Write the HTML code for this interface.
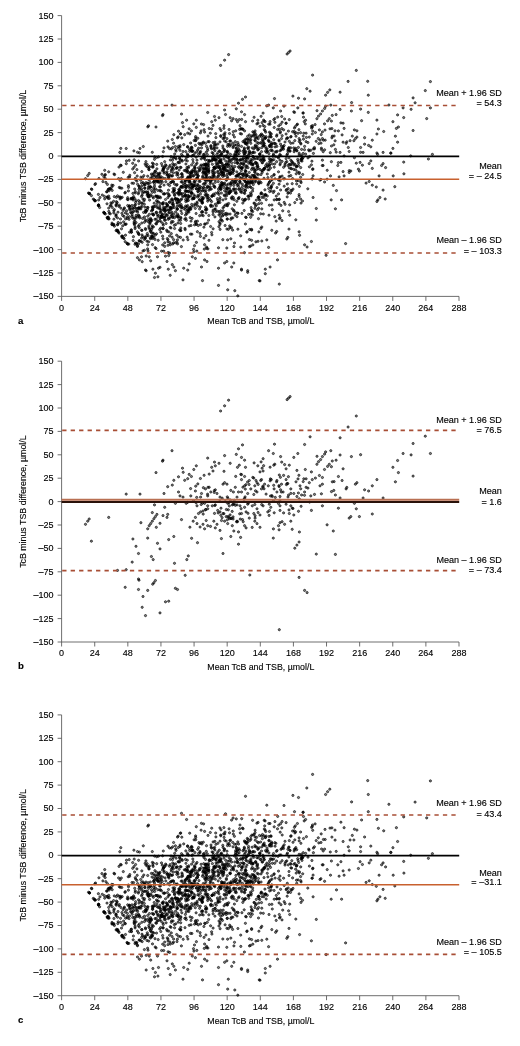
<!DOCTYPE html>
<html lang="en"><head><meta charset="utf-8"><title>Bland-Altman plots: TcB minus TSB difference</title>
<style>
html,body{margin:0;padding:0;background:#fff}
svg{display:block;font-family:"Liberation Sans",sans-serif}
text{stroke:#000;stroke-width:0.13px}
</style></head><body>
<svg width="520" height="1046" viewBox="0 0 520 1046">
<rect width="520" height="1046" fill="#fff"/>
<g>
<path d="M61.60 15.60V296.40H459.00" fill="none" stroke="#555" stroke-width="0.85"/>
<path d="M61.60 296.40v4.5M94.72 296.40v4.5M127.83 296.40v4.5M160.95 296.40v4.5M194.07 296.40v4.5M227.18 296.40v4.5M260.30 296.40v4.5M293.42 296.40v4.5M326.53 296.40v4.5M359.65 296.40v4.5M392.77 296.40v4.5M425.88 296.40v4.5M459.00 296.40v4.5M61.60 296.40h-4M61.60 273.00h-4M61.60 249.60h-4M61.60 226.20h-4M61.60 202.80h-4M61.60 179.40h-4M61.60 156.00h-4M61.60 132.60h-4M61.60 109.20h-4M61.60 85.80h-4M61.60 62.40h-4M61.60 39.00h-4M61.60 15.60h-4" fill="none" stroke="#555" stroke-width="0.85"/>
<g font-size="9" fill="#000">
<g text-anchor="middle">
<text x="61.60" y="310.60">0</text>
<text x="94.72" y="310.60">24</text>
<text x="127.83" y="310.60">48</text>
<text x="160.95" y="310.60">72</text>
<text x="194.07" y="310.60">96</text>
<text x="227.18" y="310.60">120</text>
<text x="260.30" y="310.60">144</text>
<text x="293.42" y="310.60">168</text>
<text x="326.53" y="310.60">192</text>
<text x="359.65" y="310.60">216</text>
<text x="392.77" y="310.60">240</text>
<text x="425.88" y="310.60">264</text>
<text x="459.00" y="310.60">288</text>
</g><g text-anchor="end">
<text x="53.5" y="299.30">–150</text>
<text x="53.5" y="275.90">–125</text>
<text x="53.5" y="252.50">–100</text>
<text x="53.5" y="229.10">–75</text>
<text x="53.5" y="205.70">–50</text>
<text x="53.5" y="182.30">–25</text>
<text x="53.5" y="158.90">0</text>
<text x="53.5" y="135.50">25</text>
<text x="53.5" y="112.10">50</text>
<text x="53.5" y="88.70">75</text>
<text x="53.5" y="65.30">100</text>
<text x="53.5" y="41.90">125</text>
<text x="53.5" y="18.50">150</text>
</g></g>
<text x="260.8" y="324.20" text-anchor="middle" font-size="9.2" fill="#000" textLength="107" lengthAdjust="spacingAndGlyphs">Mean TcB and TSB, µmol/L</text>
<text transform="translate(25.6 156.00) rotate(-90)" text-anchor="middle" font-size="9.2" fill="#000" textLength="132.5" lengthAdjust="spacingAndGlyphs">TcB minus TSB difference, µmol/L</text>
<text x="18" y="323.60" font-size="9.6" font-weight="bold" fill="#000" stroke="none">a</text>
<g fill="#000" fill-opacity="0.5" stroke="#000" stroke-opacity="0.85" stroke-width="0.75">
<circle cx="228.6" cy="54.6" r="1.1"/><circle cx="224.6" cy="60.2" r="1.1"/><circle cx="220.6" cy="65.4" r="1.1"/><circle cx="172.0" cy="105.1" r="1.1"/><circle cx="162.5" cy="115.6" r="1.1"/><circle cx="163.0" cy="114.6" r="1.1"/><circle cx="156.0" cy="127.0" r="1.1"/><circle cx="182.5" cy="122.6" r="1.1"/><circle cx="196.3" cy="120.2" r="1.1"/><circle cx="193.8" cy="123.9" r="1.1"/><circle cx="207.7" cy="112.5" r="1.1"/><circle cx="214.5" cy="116.5" r="1.1"/><circle cx="215.3" cy="120.2" r="1.1"/><circle cx="211.7" cy="121.7" r="1.1"/><circle cx="213.0" cy="125.4" r="1.1"/><circle cx="219.0" cy="117.7" r="1.1"/><circle cx="224.6" cy="110.0" r="1.1"/><circle cx="230.2" cy="117.7" r="1.1"/><circle cx="224.0" cy="125.7" r="1.1"/><circle cx="238.5" cy="103.2" r="1.1"/><circle cx="236.3" cy="108.8" r="1.1"/><circle cx="237.5" cy="121.7" r="1.1"/><circle cx="239.3" cy="119.6" r="1.1"/><circle cx="209.2" cy="128.5" r="1.1"/><circle cx="189.2" cy="128.8" r="1.1"/><circle cx="287.1" cy="54.0" r="1.1"/><circle cx="288.6" cy="52.5" r="1.1"/><circle cx="290.1" cy="51.0" r="1.1"/><circle cx="356.3" cy="70.4" r="1.1"/><circle cx="348.1" cy="81.4" r="1.1"/><circle cx="310.1" cy="91.2" r="1.1"/><circle cx="340.1" cy="92.2" r="1.1"/><circle cx="304.6" cy="98.9" r="1.1"/><circle cx="274.5" cy="98.6" r="1.1"/><circle cx="242.5" cy="99.3" r="1.1"/><circle cx="268.6" cy="105.1" r="1.1"/><circle cx="273.3" cy="107.9" r="1.1"/><circle cx="280.6" cy="111.0" r="1.1"/><circle cx="297.8" cy="107.9" r="1.1"/><circle cx="293.8" cy="111.8" r="1.1"/><circle cx="330.8" cy="105.1" r="1.1"/><circle cx="325.6" cy="106.3" r="1.1"/><circle cx="324.6" cy="108.5" r="1.1"/><circle cx="322.4" cy="111.0" r="1.1"/><circle cx="320.6" cy="114.0" r="1.1"/><circle cx="318.5" cy="116.1" r="1.1"/><circle cx="316.9" cy="118.7" r="1.1"/><circle cx="340.1" cy="109.4" r="1.1"/><circle cx="360.6" cy="109.1" r="1.1"/><circle cx="351.4" cy="111.0" r="1.1"/><circle cx="336.1" cy="114.6" r="1.1"/><circle cx="329.3" cy="118.7" r="1.1"/><circle cx="327.6" cy="120.8" r="1.1"/><circle cx="331.4" cy="121.1" r="1.1"/><circle cx="241.5" cy="111.8" r="1.1"/><circle cx="244.6" cy="114.6" r="1.1"/><circle cx="263.1" cy="113.1" r="1.1"/><circle cx="257.8" cy="120.2" r="1.1"/><circle cx="245.5" cy="121.7" r="1.1"/><circle cx="262.1" cy="122.6" r="1.1"/><circle cx="263.1" cy="125.4" r="1.1"/><circle cx="260.0" cy="126.3" r="1.1"/><circle cx="273.8" cy="119.6" r="1.1"/><circle cx="289.3" cy="119.6" r="1.1"/><circle cx="286.1" cy="123.2" r="1.1"/><circle cx="296.9" cy="124.8" r="1.1"/><circle cx="305.3" cy="123.9" r="1.1"/><circle cx="311.4" cy="126.3" r="1.1"/><circle cx="343.1" cy="123.2" r="1.1"/><circle cx="392.9" cy="121.7" r="1.1"/><circle cx="397.6" cy="114.9" r="1.1"/><circle cx="398.4" cy="127.0" r="1.1"/><circle cx="425.3" cy="90.6" r="1.1"/><circle cx="413.1" cy="97.9" r="1.1"/><circle cx="430.4" cy="107.9" r="1.1"/><circle cx="403.1" cy="107.9" r="1.1"/><circle cx="413.1" cy="130.5" r="1.1"/><circle cx="126.2" cy="148.5" r="1.1"/><circle cx="140.0" cy="148.5" r="1.1"/><circle cx="164.0" cy="147.9" r="1.1"/><circle cx="167.7" cy="141.1" r="1.1"/><circle cx="172.3" cy="139.5" r="1.1"/><circle cx="173.8" cy="134.7" r="1.1"/><circle cx="184.7" cy="134.7" r="1.1"/><circle cx="187.7" cy="133.1" r="1.1"/><circle cx="191.4" cy="130.9" r="1.1"/><circle cx="178.5" cy="146.4" r="1.1"/><circle cx="180.0" cy="150.3" r="1.1"/><circle cx="183.0" cy="151.5" r="1.1"/><circle cx="190.8" cy="150.3" r="1.1"/><circle cx="195.4" cy="145.4" r="1.1"/><circle cx="201.5" cy="147.9" r="1.1"/><circle cx="200.6" cy="151.5" r="1.1"/><circle cx="205.5" cy="143.3" r="1.1"/><circle cx="209.2" cy="141.7" r="1.1"/><circle cx="210.8" cy="146.4" r="1.1"/><circle cx="207.7" cy="150.3" r="1.1"/><circle cx="215.3" cy="144.2" r="1.1"/><circle cx="217.0" cy="147.9" r="1.1"/><circle cx="223.0" cy="138.6" r="1.1"/><circle cx="224.6" cy="137.1" r="1.1"/><circle cx="227.0" cy="138.6" r="1.1"/><circle cx="230.8" cy="144.8" r="1.1"/><circle cx="235.3" cy="141.7" r="1.1"/><circle cx="238.5" cy="146.4" r="1.1"/><circle cx="220.0" cy="151.5" r="1.1"/><circle cx="237.0" cy="151.5" r="1.1"/><circle cx="154.5" cy="159.3" r="1.1"/><circle cx="164.7" cy="161.7" r="1.1"/><circle cx="175.4" cy="157.7" r="1.1"/><circle cx="186.2" cy="157.7" r="1.1"/><circle cx="197.0" cy="160.2" r="1.1"/><circle cx="204.6" cy="157.7" r="1.1"/><circle cx="207.7" cy="160.2" r="1.1"/><circle cx="212.3" cy="160.2" r="1.1"/><circle cx="215.3" cy="159.3" r="1.1"/><circle cx="227.7" cy="157.7" r="1.1"/><circle cx="232.3" cy="159.3" r="1.1"/><circle cx="237.0" cy="159.3" r="1.1"/><circle cx="152.3" cy="167.0" r="1.1"/><circle cx="156.9" cy="168.8" r="1.1"/><circle cx="155.4" cy="171.0" r="1.1"/><circle cx="153.9" cy="173.1" r="1.1"/><circle cx="152.3" cy="175.6" r="1.1"/><circle cx="150.7" cy="178.0" r="1.1"/><circle cx="149.2" cy="180.1" r="1.1"/><circle cx="147.7" cy="183.2" r="1.1"/><circle cx="163.0" cy="170.0" r="1.1"/><circle cx="167.7" cy="168.8" r="1.1"/><circle cx="167.0" cy="171.8" r="1.1"/><circle cx="160.0" cy="177.7" r="1.1"/><circle cx="156.3" cy="181.7" r="1.1"/><circle cx="181.5" cy="174.0" r="1.1"/><circle cx="193.2" cy="175.6" r="1.1"/><circle cx="197.0" cy="178.0" r="1.1"/><circle cx="195.4" cy="171.8" r="1.1"/><circle cx="198.5" cy="167.9" r="1.1"/><circle cx="200.6" cy="166.3" r="1.1"/><circle cx="203.0" cy="165.4" r="1.1"/><circle cx="205.5" cy="164.1" r="1.1"/><circle cx="207.7" cy="163.2" r="1.1"/><circle cx="206.2" cy="174.9" r="1.1"/><circle cx="203.0" cy="178.7" r="1.1"/><circle cx="207.7" cy="180.1" r="1.1"/><circle cx="204.6" cy="183.2" r="1.1"/><circle cx="213.8" cy="175.6" r="1.1"/><circle cx="217.0" cy="178.7" r="1.1"/><circle cx="215.3" cy="182.3" r="1.1"/><circle cx="220.0" cy="184.8" r="1.1"/><circle cx="220.0" cy="166.3" r="1.1"/><circle cx="223.0" cy="167.9" r="1.1"/><circle cx="226.2" cy="171.0" r="1.1"/><circle cx="229.3" cy="173.1" r="1.1"/><circle cx="224.6" cy="175.6" r="1.1"/><circle cx="227.7" cy="178.0" r="1.1"/><circle cx="221.5" cy="174.9" r="1.1"/><circle cx="232.3" cy="180.1" r="1.1"/><circle cx="237.0" cy="175.6" r="1.1"/><circle cx="238.5" cy="186.3" r="1.1"/><circle cx="233.8" cy="185.4" r="1.1"/><circle cx="230.8" cy="190.9" r="1.1"/><circle cx="87.7" cy="175.6" r="1.1"/><circle cx="89.2" cy="173.4" r="1.1"/><circle cx="85.5" cy="178.7" r="1.1"/><circle cx="108.7" cy="171.8" r="1.1"/><circle cx="91.4" cy="195.6" r="1.1"/><circle cx="140.9" cy="177.1" r="1.1"/><circle cx="132.9" cy="193.4" r="1.1"/><circle cx="136.0" cy="200.7" r="1.1"/><circle cx="147.7" cy="192.5" r="1.1"/><circle cx="173.8" cy="190.9" r="1.1"/><circle cx="168.7" cy="194.0" r="1.1"/><circle cx="157.5" cy="197.7" r="1.1"/><circle cx="160.0" cy="203.3" r="1.1"/><circle cx="197.5" cy="197.1" r="1.1"/><circle cx="223.0" cy="207.9" r="1.1"/><circle cx="238.5" cy="198.6" r="1.1"/><circle cx="138.5" cy="207.9" r="1.1"/><circle cx="241.5" cy="134.0" r="1.1"/><circle cx="244.6" cy="130.9" r="1.1"/><circle cx="249.3" cy="134.9" r="1.1"/><circle cx="253.8" cy="132.5" r="1.1"/><circle cx="257.0" cy="137.1" r="1.1"/><circle cx="261.5" cy="134.0" r="1.1"/><circle cx="264.6" cy="138.6" r="1.1"/><circle cx="254.8" cy="140.2" r="1.1"/><circle cx="250.8" cy="143.3" r="1.1"/><circle cx="244.6" cy="140.2" r="1.1"/><circle cx="241.5" cy="146.4" r="1.1"/><circle cx="247.7" cy="147.9" r="1.1"/><circle cx="257.0" cy="146.4" r="1.1"/><circle cx="266.1" cy="148.5" r="1.1"/><circle cx="261.5" cy="143.3" r="1.1"/><circle cx="276.9" cy="134.9" r="1.1"/><circle cx="281.5" cy="138.6" r="1.1"/><circle cx="286.1" cy="134.0" r="1.1"/><circle cx="287.8" cy="138.0" r="1.1"/><circle cx="283.1" cy="146.4" r="1.1"/><circle cx="276.9" cy="146.4" r="1.1"/><circle cx="272.3" cy="150.9" r="1.1"/><circle cx="280.0" cy="150.9" r="1.1"/><circle cx="288.6" cy="149.4" r="1.1"/><circle cx="293.8" cy="147.9" r="1.1"/><circle cx="296.0" cy="136.2" r="1.1"/><circle cx="300.0" cy="140.2" r="1.1"/><circle cx="306.1" cy="141.7" r="1.1"/><circle cx="304.6" cy="146.4" r="1.1"/><circle cx="309.3" cy="137.1" r="1.1"/><circle cx="312.3" cy="134.0" r="1.1"/><circle cx="315.4" cy="132.5" r="1.1"/><circle cx="320.0" cy="140.2" r="1.1"/><circle cx="322.4" cy="138.6" r="1.1"/><circle cx="301.6" cy="149.4" r="1.1"/><circle cx="310.8" cy="150.3" r="1.1"/><circle cx="296.9" cy="150.9" r="1.1"/><circle cx="332.3" cy="136.2" r="1.1"/><circle cx="333.8" cy="144.8" r="1.1"/><circle cx="338.4" cy="130.9" r="1.1"/><circle cx="342.1" cy="134.9" r="1.1"/><circle cx="346.1" cy="143.3" r="1.1"/><circle cx="335.4" cy="149.4" r="1.1"/><circle cx="355.4" cy="138.6" r="1.1"/><circle cx="356.9" cy="137.1" r="1.1"/><circle cx="364.6" cy="144.2" r="1.1"/><circle cx="368.6" cy="145.4" r="1.1"/><circle cx="372.3" cy="140.2" r="1.1"/><circle cx="376.9" cy="134.0" r="1.1"/><circle cx="363.1" cy="152.4" r="1.1"/><circle cx="383.1" cy="152.4" r="1.1"/><circle cx="395.4" cy="136.2" r="1.1"/><circle cx="340.1" cy="152.4" r="1.1"/><circle cx="240.0" cy="160.2" r="1.1"/><circle cx="244.6" cy="161.7" r="1.1"/><circle cx="247.7" cy="158.6" r="1.1"/><circle cx="252.3" cy="160.2" r="1.1"/><circle cx="257.0" cy="163.2" r="1.1"/><circle cx="263.1" cy="160.2" r="1.1"/><circle cx="269.3" cy="158.6" r="1.1"/><circle cx="270.8" cy="161.7" r="1.1"/><circle cx="280.0" cy="160.2" r="1.1"/><circle cx="286.1" cy="158.6" r="1.1"/><circle cx="290.8" cy="160.2" r="1.1"/><circle cx="292.3" cy="162.6" r="1.1"/><circle cx="298.5" cy="165.7" r="1.1"/><circle cx="311.4" cy="164.8" r="1.1"/><circle cx="322.4" cy="160.2" r="1.1"/><circle cx="338.4" cy="162.6" r="1.1"/><circle cx="354.4" cy="157.7" r="1.1"/><circle cx="356.3" cy="163.2" r="1.1"/><circle cx="241.5" cy="167.9" r="1.1"/><circle cx="246.1" cy="166.3" r="1.1"/><circle cx="253.8" cy="167.9" r="1.1"/><circle cx="260.0" cy="169.4" r="1.1"/><circle cx="267.8" cy="166.3" r="1.1"/><circle cx="280.0" cy="164.8" r="1.1"/><circle cx="289.3" cy="167.9" r="1.1"/><circle cx="293.8" cy="169.4" r="1.1"/><circle cx="242.5" cy="174.0" r="1.1"/><circle cx="249.3" cy="172.5" r="1.1"/><circle cx="254.8" cy="175.6" r="1.1"/><circle cx="257.0" cy="178.0" r="1.1"/><circle cx="244.6" cy="180.1" r="1.1"/><circle cx="246.1" cy="182.3" r="1.1"/><circle cx="260.0" cy="181.7" r="1.1"/><circle cx="280.0" cy="177.1" r="1.1"/><circle cx="282.1" cy="176.1" r="1.1"/><circle cx="278.5" cy="180.1" r="1.1"/><circle cx="284.6" cy="178.7" r="1.1"/><circle cx="290.8" cy="175.6" r="1.1"/><circle cx="279.1" cy="184.2" r="1.1"/><circle cx="327.1" cy="179.2" r="1.1"/><circle cx="333.3" cy="185.4" r="1.1"/><circle cx="349.2" cy="172.5" r="1.1"/><circle cx="350.8" cy="171.0" r="1.1"/><circle cx="359.4" cy="171.0" r="1.1"/><circle cx="372.3" cy="168.4" r="1.1"/><circle cx="273.3" cy="192.5" r="1.1"/><circle cx="299.1" cy="196.4" r="1.1"/><circle cx="296.9" cy="199.5" r="1.1"/><circle cx="294.8" cy="202.6" r="1.1"/><circle cx="240.6" cy="191.8" r="1.1"/><circle cx="316.3" cy="208.5" r="1.1"/><circle cx="335.4" cy="208.8" r="1.1"/><circle cx="132.2" cy="216.5" r="1.1"/><circle cx="151.4" cy="210.9" r="1.1"/><circle cx="153.2" cy="214.0" r="1.1"/><circle cx="174.5" cy="217.7" r="1.1"/><circle cx="188.3" cy="210.3" r="1.1"/><circle cx="186.8" cy="214.0" r="1.1"/><circle cx="117.5" cy="224.8" r="1.1"/><circle cx="126.2" cy="224.1" r="1.1"/><circle cx="185.2" cy="229.7" r="1.1"/><circle cx="138.5" cy="233.4" r="1.1"/><circle cx="139.0" cy="234.6" r="1.1"/><circle cx="155.4" cy="234.9" r="1.1"/><circle cx="153.9" cy="237.1" r="1.1"/><circle cx="152.7" cy="238.6" r="1.1"/><circle cx="125.2" cy="241.7" r="1.1"/><circle cx="138.5" cy="243.9" r="1.1"/><circle cx="147.7" cy="244.8" r="1.1"/><circle cx="175.4" cy="242.7" r="1.1"/><circle cx="177.5" cy="243.9" r="1.1"/><circle cx="143.0" cy="250.9" r="1.1"/><circle cx="165.5" cy="256.2" r="1.1"/><circle cx="168.7" cy="255.6" r="1.1"/><circle cx="142.2" cy="261.7" r="1.1"/><circle cx="160.0" cy="267.3" r="1.1"/><circle cx="145.5" cy="270.0" r="1.1"/><circle cx="249.8" cy="229.4" r="1.1"/><circle cx="299.1" cy="231.8" r="1.1"/><circle cx="304.6" cy="244.8" r="1.1"/><circle cx="307.1" cy="247.0" r="1.1"/><circle cx="279.3" cy="284.1" r="1.1"/><circle cx="210.5" cy="180.8" r="1.1"/><circle cx="233.4" cy="146.4" r="1.1"/><circle cx="290.8" cy="143.3" r="1.1"/><circle cx="220.8" cy="169.7" r="1.1"/><circle cx="274.8" cy="118.6" r="1.1"/><circle cx="255.1" cy="172.5" r="1.1"/><circle cx="204.1" cy="129.7" r="1.1"/><circle cx="252.2" cy="181.8" r="1.1"/><circle cx="240.3" cy="173.5" r="1.1"/><circle cx="217.7" cy="164.8" r="1.1"/><circle cx="214.2" cy="146.8" r="1.1"/><circle cx="241.1" cy="163.1" r="1.1"/><circle cx="260.7" cy="134.9" r="1.1"/><circle cx="233.1" cy="171.3" r="1.1"/><circle cx="236.6" cy="176.2" r="1.1"/><circle cx="244.6" cy="152.8" r="1.1"/><circle cx="231.2" cy="172.8" r="1.1"/><circle cx="227.3" cy="174.2" r="1.1"/><circle cx="187.6" cy="156.7" r="1.1"/><circle cx="197.8" cy="138.3" r="1.1"/><circle cx="273.4" cy="183.3" r="1.1"/><circle cx="255.1" cy="170.1" r="1.1"/><circle cx="245.1" cy="151.3" r="1.1"/><circle cx="234.1" cy="158.2" r="1.1"/><circle cx="283.6" cy="167.3" r="1.1"/><circle cx="274.2" cy="167.2" r="1.1"/><circle cx="230.1" cy="169.3" r="1.1"/><circle cx="303.8" cy="133.2" r="1.1"/><circle cx="270.4" cy="133.3" r="1.1"/><circle cx="278.5" cy="157.9" r="1.1"/><circle cx="240.8" cy="128.7" r="1.1"/><circle cx="227.3" cy="151.3" r="1.1"/><circle cx="242.9" cy="141.6" r="1.1"/><circle cx="228.7" cy="157.2" r="1.1"/><circle cx="253.8" cy="148.9" r="1.1"/><circle cx="208.0" cy="141.7" r="1.1"/><circle cx="189.9" cy="181.6" r="1.1"/><circle cx="190.6" cy="143.0" r="1.1"/><circle cx="228.8" cy="171.7" r="1.1"/><circle cx="196.7" cy="151.8" r="1.1"/><circle cx="200.1" cy="181.4" r="1.1"/><circle cx="269.1" cy="169.8" r="1.1"/><circle cx="230.4" cy="154.4" r="1.1"/><circle cx="225.3" cy="156.0" r="1.1"/><circle cx="299.2" cy="153.2" r="1.1"/><circle cx="191.6" cy="192.7" r="1.1"/><circle cx="235.3" cy="159.7" r="1.1"/><circle cx="254.8" cy="158.9" r="1.1"/><circle cx="223.9" cy="168.1" r="1.1"/><circle cx="222.2" cy="152.6" r="1.1"/><circle cx="228.0" cy="152.8" r="1.1"/><circle cx="322.4" cy="131.9" r="1.1"/><circle cx="178.5" cy="131.2" r="1.1"/><circle cx="258.1" cy="166.9" r="1.1"/><circle cx="281.3" cy="146.4" r="1.1"/><circle cx="218.2" cy="167.3" r="1.1"/><circle cx="202.6" cy="157.5" r="1.1"/><circle cx="288.0" cy="151.4" r="1.1"/><circle cx="261.1" cy="116.3" r="1.1"/><circle cx="193.5" cy="155.2" r="1.1"/><circle cx="231.0" cy="172.9" r="1.1"/><circle cx="201.2" cy="158.9" r="1.1"/><circle cx="261.7" cy="159.0" r="1.1"/><circle cx="245.9" cy="139.1" r="1.1"/><circle cx="256.0" cy="134.9" r="1.1"/><circle cx="262.8" cy="140.7" r="1.1"/><circle cx="319.4" cy="129.9" r="1.1"/><circle cx="249.1" cy="138.9" r="1.1"/><circle cx="205.7" cy="164.0" r="1.1"/><circle cx="276.6" cy="136.2" r="1.1"/><circle cx="307.9" cy="142.5" r="1.1"/><circle cx="183.2" cy="126.7" r="1.1"/><circle cx="289.0" cy="164.3" r="1.1"/><circle cx="300.7" cy="143.2" r="1.1"/><circle cx="226.4" cy="163.9" r="1.1"/><circle cx="309.6" cy="156.5" r="1.1"/><circle cx="233.3" cy="158.7" r="1.1"/><circle cx="228.0" cy="170.9" r="1.1"/><circle cx="252.8" cy="131.8" r="1.1"/><circle cx="269.5" cy="164.9" r="1.1"/><circle cx="196.1" cy="157.2" r="1.1"/><circle cx="214.5" cy="167.8" r="1.1"/><circle cx="324.5" cy="123.9" r="1.1"/><circle cx="203.4" cy="142.1" r="1.1"/><circle cx="299.4" cy="186.4" r="1.1"/><circle cx="221.0" cy="162.6" r="1.1"/><circle cx="270.5" cy="150.4" r="1.1"/><circle cx="234.2" cy="154.7" r="1.1"/><circle cx="222.1" cy="172.0" r="1.1"/><circle cx="203.2" cy="168.5" r="1.1"/><circle cx="245.3" cy="143.5" r="1.1"/><circle cx="286.4" cy="139.0" r="1.1"/><circle cx="207.6" cy="148.6" r="1.1"/><circle cx="254.1" cy="117.3" r="1.1"/><circle cx="243.2" cy="176.1" r="1.1"/><circle cx="200.4" cy="132.9" r="1.1"/><circle cx="221.4" cy="193.0" r="1.1"/><circle cx="219.7" cy="155.8" r="1.1"/><circle cx="293.0" cy="162.9" r="1.1"/><circle cx="271.3" cy="134.0" r="1.1"/><circle cx="214.8" cy="159.9" r="1.1"/><circle cx="317.0" cy="110.7" r="1.1"/><circle cx="279.2" cy="141.0" r="1.1"/><circle cx="290.8" cy="147.8" r="1.1"/><circle cx="239.7" cy="168.2" r="1.1"/><circle cx="244.0" cy="153.7" r="1.1"/><circle cx="235.7" cy="130.8" r="1.1"/><circle cx="298.4" cy="147.4" r="1.1"/><circle cx="292.2" cy="183.7" r="1.1"/><circle cx="247.6" cy="136.4" r="1.1"/><circle cx="195.7" cy="140.6" r="1.1"/><circle cx="233.1" cy="173.4" r="1.1"/><circle cx="228.3" cy="164.2" r="1.1"/><circle cx="273.7" cy="139.7" r="1.1"/><circle cx="232.2" cy="165.8" r="1.1"/><circle cx="241.5" cy="129.0" r="1.1"/><circle cx="258.2" cy="138.8" r="1.1"/><circle cx="237.5" cy="176.1" r="1.1"/><circle cx="214.4" cy="145.0" r="1.1"/><circle cx="248.0" cy="167.7" r="1.1"/><circle cx="248.3" cy="157.6" r="1.1"/><circle cx="229.3" cy="160.3" r="1.1"/><circle cx="255.5" cy="145.2" r="1.1"/><circle cx="283.6" cy="129.8" r="1.1"/><circle cx="298.9" cy="129.7" r="1.1"/><circle cx="279.9" cy="154.5" r="1.1"/><circle cx="303.2" cy="136.0" r="1.1"/><circle cx="263.1" cy="141.4" r="1.1"/><circle cx="332.3" cy="115.4" r="1.1"/><circle cx="280.4" cy="131.7" r="1.1"/><circle cx="298.0" cy="133.3" r="1.1"/><circle cx="321.4" cy="148.2" r="1.1"/><circle cx="280.6" cy="144.2" r="1.1"/><circle cx="287.1" cy="137.9" r="1.1"/><circle cx="270.1" cy="121.6" r="1.1"/><circle cx="346.8" cy="141.8" r="1.1"/><circle cx="271.8" cy="150.0" r="1.1"/><circle cx="314.5" cy="148.8" r="1.1"/><circle cx="278.9" cy="140.1" r="1.1"/><circle cx="331.5" cy="146.0" r="1.1"/><circle cx="279.3" cy="129.4" r="1.1"/><circle cx="274.1" cy="143.3" r="1.1"/><circle cx="275.3" cy="151.8" r="1.1"/><circle cx="264.0" cy="143.2" r="1.1"/><circle cx="273.4" cy="155.3" r="1.1"/><circle cx="270.1" cy="135.2" r="1.1"/><circle cx="306.1" cy="133.2" r="1.1"/><circle cx="263.6" cy="120.1" r="1.1"/><circle cx="268.3" cy="140.2" r="1.1"/><circle cx="304.5" cy="149.7" r="1.1"/><circle cx="284.6" cy="119.0" r="1.1"/><circle cx="334.1" cy="136.0" r="1.1"/><circle cx="301.1" cy="160.7" r="1.1"/><circle cx="288.4" cy="131.1" r="1.1"/><circle cx="281.7" cy="116.5" r="1.1"/><circle cx="411.1" cy="109.3" r="1.1"/><circle cx="135.8" cy="208.1" r="1.1"/><circle cx="125.3" cy="192.4" r="1.1"/><circle cx="229.0" cy="193.6" r="1.1"/><circle cx="229.4" cy="193.2" r="1.1"/><circle cx="225.7" cy="161.0" r="1.1"/><circle cx="171.0" cy="156.7" r="1.1"/><circle cx="162.3" cy="165.9" r="1.1"/><circle cx="202.8" cy="212.0" r="1.1"/><circle cx="216.3" cy="205.9" r="1.1"/><circle cx="270.6" cy="180.7" r="1.1"/><circle cx="282.2" cy="135.7" r="1.1"/><circle cx="173.6" cy="239.7" r="1.1"/><circle cx="261.0" cy="174.6" r="1.1"/><circle cx="239.1" cy="153.6" r="1.1"/><circle cx="247.1" cy="142.8" r="1.1"/><circle cx="223.7" cy="175.1" r="1.1"/><circle cx="222.8" cy="176.5" r="1.1"/><circle cx="214.8" cy="187.4" r="1.1"/><circle cx="150.7" cy="186.9" r="1.1"/><circle cx="294.4" cy="150.1" r="1.1"/><circle cx="156.5" cy="233.8" r="1.1"/><circle cx="160.7" cy="228.2" r="1.1"/><circle cx="163.3" cy="225.2" r="1.1"/><circle cx="168.5" cy="218.1" r="1.1"/><circle cx="185.5" cy="194.9" r="1.1"/><circle cx="331.9" cy="128.6" r="1.1"/><circle cx="323.4" cy="140.2" r="1.1"/><circle cx="197.4" cy="173.9" r="1.1"/><circle cx="200.0" cy="170.3" r="1.1"/><circle cx="258.9" cy="183.7" r="1.1"/><circle cx="237.3" cy="162.1" r="1.1"/><circle cx="170.7" cy="207.5" r="1.1"/><circle cx="170.5" cy="207.8" r="1.1"/><circle cx="253.3" cy="179.9" r="1.1"/><circle cx="255.3" cy="177.0" r="1.1"/><circle cx="181.9" cy="173.7" r="1.1"/><circle cx="167.4" cy="193.3" r="1.1"/><circle cx="184.3" cy="170.5" r="1.1"/><circle cx="248.7" cy="176.4" r="1.1"/><circle cx="245.0" cy="181.6" r="1.1"/><circle cx="245.7" cy="171.4" r="1.1"/><circle cx="271.1" cy="137.0" r="1.1"/><circle cx="245.9" cy="171.2" r="1.1"/><circle cx="200.0" cy="152.2" r="1.1"/><circle cx="198.5" cy="154.3" r="1.1"/><circle cx="208.6" cy="169.0" r="1.1"/><circle cx="210.1" cy="183.6" r="1.1"/><circle cx="204.6" cy="191.1" r="1.1"/><circle cx="137.4" cy="208.6" r="1.1"/><circle cx="242.5" cy="199.4" r="1.1"/><circle cx="255.9" cy="181.2" r="1.1"/><circle cx="262.2" cy="172.6" r="1.1"/><circle cx="208.6" cy="220.2" r="1.1"/><circle cx="227.2" cy="204.1" r="1.1"/><circle cx="210.6" cy="226.5" r="1.1"/><circle cx="220.1" cy="213.6" r="1.1"/><circle cx="304.2" cy="121.6" r="1.1"/><circle cx="145.6" cy="229.5" r="1.1"/><circle cx="295.8" cy="219.8" r="1.1"/><circle cx="289.0" cy="229.1" r="1.1"/><circle cx="178.6" cy="236.9" r="1.1"/><circle cx="142.0" cy="234.9" r="1.1"/><circle cx="146.0" cy="210.4" r="1.1"/><circle cx="212.1" cy="152.6" r="1.1"/><circle cx="229.1" cy="129.5" r="1.1"/><circle cx="220.0" cy="141.9" r="1.1"/><circle cx="189.1" cy="208.3" r="1.1"/><circle cx="195.6" cy="204.9" r="1.1"/><circle cx="199.6" cy="199.5" r="1.1"/><circle cx="216.6" cy="167.4" r="1.1"/><circle cx="220.4" cy="162.2" r="1.1"/><circle cx="215.2" cy="209.1" r="1.1"/><circle cx="152.5" cy="244.6" r="1.1"/><circle cx="172.7" cy="217.5" r="1.1"/><circle cx="201.1" cy="130.9" r="1.1"/><circle cx="195.7" cy="138.1" r="1.1"/><circle cx="194.1" cy="140.5" r="1.1"/><circle cx="104.7" cy="198.9" r="1.1"/><circle cx="264.2" cy="143.8" r="1.1"/><circle cx="236.8" cy="171.9" r="1.1"/><circle cx="172.7" cy="147.5" r="1.1"/><circle cx="153.1" cy="174.2" r="1.1"/><circle cx="145.2" cy="184.8" r="1.1"/><circle cx="160.8" cy="232.2" r="1.1"/><circle cx="291.6" cy="168.8" r="1.1"/><circle cx="289.0" cy="172.2" r="1.1"/><circle cx="294.9" cy="164.2" r="1.1"/><circle cx="262.6" cy="162.6" r="1.1"/><circle cx="258.1" cy="168.7" r="1.1"/><circle cx="242.8" cy="203.1" r="1.1"/><circle cx="247.9" cy="196.2" r="1.1"/><circle cx="188.3" cy="172.5" r="1.1"/><circle cx="181.2" cy="181.9" r="1.1"/><circle cx="179.7" cy="162.6" r="1.1"/><circle cx="189.5" cy="149.2" r="1.1"/><circle cx="206.2" cy="172.0" r="1.1"/><circle cx="202.5" cy="177.0" r="1.1"/><circle cx="261.5" cy="136.7" r="1.1"/><circle cx="262.5" cy="135.2" r="1.1"/><circle cx="222.8" cy="184.4" r="1.1"/><circle cx="203.2" cy="189.7" r="1.1"/><circle cx="213.9" cy="175.1" r="1.1"/><circle cx="186.3" cy="212.6" r="1.1"/><circle cx="182.3" cy="161.1" r="1.1"/><circle cx="192.1" cy="148.0" r="1.1"/><circle cx="168.1" cy="252.5" r="1.1"/><circle cx="166.7" cy="230.2" r="1.1"/><circle cx="181.0" cy="210.9" r="1.1"/><circle cx="173.1" cy="221.7" r="1.1"/><circle cx="250.4" cy="163.4" r="1.1"/><circle cx="164.7" cy="193.8" r="1.1"/><circle cx="264.9" cy="189.8" r="1.1"/><circle cx="272.0" cy="179.9" r="1.1"/><circle cx="254.6" cy="203.5" r="1.1"/><circle cx="209.1" cy="187.3" r="1.1"/><circle cx="201.8" cy="197.3" r="1.1"/><circle cx="197.1" cy="203.5" r="1.1"/><circle cx="168.4" cy="177.5" r="1.1"/><circle cx="168.4" cy="177.3" r="1.1"/><circle cx="237.8" cy="163.1" r="1.1"/><circle cx="233.3" cy="169.5" r="1.1"/><circle cx="265.1" cy="130.7" r="1.1"/><circle cx="249.5" cy="151.8" r="1.1"/><circle cx="270.0" cy="124.2" r="1.1"/><circle cx="233.1" cy="118.7" r="1.1"/><circle cx="231.6" cy="120.8" r="1.1"/><circle cx="181.0" cy="186.6" r="1.1"/><circle cx="159.6" cy="186.7" r="1.1"/><circle cx="141.8" cy="171.6" r="1.1"/><circle cx="147.2" cy="164.4" r="1.1"/><circle cx="135.7" cy="179.8" r="1.1"/><circle cx="158.2" cy="240.3" r="1.1"/><circle cx="212.4" cy="158.1" r="1.1"/><circle cx="117.2" cy="202.5" r="1.1"/><circle cx="299.1" cy="194.6" r="1.1"/><circle cx="258.1" cy="123.1" r="1.1"/><circle cx="185.8" cy="218.5" r="1.1"/><circle cx="141.5" cy="196.4" r="1.1"/><circle cx="201.4" cy="124.0" r="1.1"/><circle cx="150.7" cy="187.0" r="1.1"/><circle cx="125.6" cy="218.9" r="1.1"/><circle cx="244.3" cy="155.3" r="1.1"/><circle cx="215.7" cy="133.7" r="1.1"/><circle cx="206.5" cy="146.4" r="1.1"/><circle cx="139.3" cy="227.7" r="1.1"/><circle cx="273.5" cy="154.2" r="1.1"/><circle cx="215.6" cy="193.3" r="1.1"/><circle cx="150.5" cy="218.3" r="1.1"/><circle cx="248.2" cy="142.3" r="1.1"/><circle cx="336.2" cy="152.1" r="1.1"/><circle cx="230.5" cy="140.9" r="1.1"/><circle cx="227.9" cy="144.5" r="1.1"/><circle cx="274.2" cy="199.9" r="1.1"/><circle cx="163.0" cy="204.3" r="1.1"/><circle cx="156.5" cy="200.7" r="1.1"/><circle cx="158.6" cy="197.9" r="1.1"/><circle cx="144.5" cy="216.9" r="1.1"/><circle cx="261.5" cy="151.7" r="1.1"/><circle cx="259.7" cy="154.2" r="1.1"/><circle cx="291.1" cy="136.5" r="1.1"/><circle cx="153.4" cy="198.0" r="1.1"/><circle cx="226.5" cy="164.0" r="1.1"/><circle cx="228.1" cy="161.8" r="1.1"/><circle cx="254.0" cy="203.1" r="1.1"/><circle cx="269.4" cy="182.0" r="1.1"/><circle cx="224.7" cy="185.2" r="1.1"/><circle cx="227.3" cy="176.4" r="1.1"/><circle cx="129.1" cy="219.3" r="1.1"/><circle cx="241.8" cy="178.2" r="1.1"/><circle cx="122.2" cy="197.3" r="1.1"/><circle cx="212.7" cy="206.2" r="1.1"/><circle cx="217.8" cy="171.2" r="1.1"/><circle cx="133.4" cy="211.5" r="1.1"/><circle cx="129.5" cy="216.7" r="1.1"/><circle cx="162.2" cy="214.3" r="1.1"/><circle cx="189.7" cy="181.2" r="1.1"/><circle cx="186.5" cy="185.5" r="1.1"/><circle cx="188.3" cy="191.4" r="1.1"/><circle cx="177.2" cy="206.2" r="1.1"/><circle cx="135.1" cy="227.1" r="1.1"/><circle cx="185.5" cy="209.7" r="1.1"/><circle cx="179.4" cy="191.9" r="1.1"/><circle cx="165.5" cy="210.9" r="1.1"/><circle cx="182.8" cy="187.4" r="1.1"/><circle cx="105.3" cy="174.6" r="1.1"/><circle cx="103.8" cy="176.7" r="1.1"/><circle cx="180.4" cy="187.8" r="1.1"/><circle cx="165.9" cy="207.4" r="1.1"/><circle cx="167.6" cy="205.2" r="1.1"/><circle cx="283.6" cy="178.9" r="1.1"/><circle cx="301.3" cy="155.0" r="1.1"/><circle cx="144.3" cy="204.2" r="1.1"/><circle cx="168.0" cy="146.9" r="1.1"/><circle cx="274.2" cy="127.5" r="1.1"/><circle cx="178.9" cy="200.0" r="1.1"/><circle cx="139.1" cy="207.8" r="1.1"/><circle cx="269.4" cy="205.2" r="1.1"/><circle cx="251.6" cy="229.4" r="1.1"/><circle cx="262.9" cy="157.8" r="1.1"/><circle cx="180.7" cy="223.5" r="1.1"/><circle cx="191.7" cy="193.3" r="1.1"/><circle cx="192.0" cy="193.0" r="1.1"/><circle cx="181.2" cy="207.6" r="1.1"/><circle cx="172.1" cy="237.2" r="1.1"/><circle cx="109.3" cy="198.4" r="1.1"/><circle cx="250.2" cy="182.8" r="1.1"/><circle cx="251.1" cy="181.6" r="1.1"/><circle cx="249.4" cy="183.8" r="1.1"/><circle cx="157.4" cy="201.7" r="1.1"/><circle cx="152.9" cy="207.6" r="1.1"/><circle cx="143.6" cy="191.7" r="1.1"/><circle cx="150.3" cy="182.7" r="1.1"/><circle cx="250.8" cy="137.2" r="1.1"/><circle cx="185.2" cy="180.6" r="1.1"/><circle cx="178.8" cy="189.5" r="1.1"/><circle cx="180.4" cy="193.5" r="1.1"/><circle cx="181.8" cy="137.9" r="1.1"/><circle cx="327.2" cy="170.3" r="1.1"/><circle cx="222.9" cy="164.7" r="1.1"/><circle cx="168.8" cy="213.0" r="1.1"/><circle cx="190.9" cy="208.9" r="1.1"/><circle cx="190.3" cy="209.6" r="1.1"/><circle cx="223.5" cy="183.5" r="1.1"/><circle cx="230.1" cy="174.4" r="1.1"/><circle cx="230.4" cy="174.0" r="1.1"/><circle cx="182.6" cy="195.9" r="1.1"/><circle cx="148.0" cy="250.9" r="1.1"/><circle cx="270.1" cy="144.9" r="1.1"/><circle cx="224.3" cy="165.5" r="1.1"/><circle cx="252.3" cy="168.2" r="1.1"/><circle cx="246.9" cy="175.6" r="1.1"/><circle cx="246.8" cy="175.7" r="1.1"/><circle cx="253.0" cy="152.2" r="1.1"/><circle cx="227.2" cy="164.9" r="1.1"/><circle cx="300.6" cy="177.3" r="1.1"/><circle cx="223.6" cy="167.3" r="1.1"/><circle cx="225.0" cy="165.5" r="1.1"/><circle cx="219.3" cy="150.9" r="1.1"/><circle cx="214.8" cy="156.9" r="1.1"/><circle cx="213.4" cy="158.9" r="1.1"/><circle cx="252.7" cy="188.7" r="1.1"/><circle cx="218.2" cy="181.6" r="1.1"/><circle cx="321.0" cy="143.2" r="1.1"/><circle cx="313.4" cy="153.4" r="1.1"/><circle cx="244.2" cy="164.3" r="1.1"/><circle cx="243.5" cy="164.0" r="1.1"/><circle cx="245.8" cy="161.0" r="1.1"/><circle cx="251.3" cy="153.4" r="1.1"/><circle cx="290.5" cy="193.1" r="1.1"/><circle cx="265.3" cy="194.5" r="1.1"/><circle cx="192.0" cy="184.0" r="1.1"/><circle cx="205.5" cy="165.6" r="1.1"/><circle cx="244.0" cy="201.0" r="1.1"/><circle cx="235.5" cy="212.6" r="1.1"/><circle cx="297.6" cy="171.8" r="1.1"/><circle cx="292.6" cy="178.6" r="1.1"/><circle cx="174.5" cy="194.6" r="1.1"/><circle cx="169.5" cy="148.6" r="1.1"/><circle cx="224.0" cy="151.5" r="1.1"/><circle cx="171.2" cy="182.4" r="1.1"/><circle cx="233.9" cy="246.6" r="1.1"/><circle cx="256.4" cy="169.7" r="1.1"/><circle cx="226.4" cy="180.3" r="1.1"/><circle cx="158.1" cy="208.1" r="1.1"/><circle cx="141.6" cy="230.3" r="1.1"/><circle cx="256.9" cy="166.8" r="1.1"/><circle cx="172.7" cy="244.0" r="1.1"/><circle cx="173.5" cy="242.9" r="1.1"/><circle cx="179.0" cy="194.9" r="1.1"/><circle cx="169.8" cy="207.5" r="1.1"/><circle cx="253.8" cy="175.7" r="1.1"/><circle cx="243.7" cy="189.5" r="1.1"/><circle cx="249.7" cy="181.3" r="1.1"/><circle cx="236.2" cy="145.0" r="1.1"/><circle cx="237.8" cy="142.6" r="1.1"/><circle cx="318.3" cy="138.5" r="1.1"/><circle cx="316.2" cy="141.3" r="1.1"/><circle cx="160.5" cy="190.5" r="1.1"/><circle cx="320.9" cy="179.4" r="1.1"/><circle cx="203.4" cy="171.1" r="1.1"/><circle cx="233.8" cy="210.3" r="1.1"/><circle cx="208.8" cy="215.5" r="1.1"/><circle cx="226.4" cy="179.3" r="1.1"/><circle cx="190.3" cy="176.2" r="1.1"/><circle cx="189.4" cy="177.5" r="1.1"/><circle cx="287.9" cy="193.3" r="1.1"/><circle cx="288.4" cy="192.4" r="1.1"/><circle cx="197.8" cy="191.3" r="1.1"/><circle cx="174.6" cy="184.2" r="1.1"/><circle cx="312.5" cy="125.7" r="1.1"/><circle cx="295.8" cy="148.3" r="1.1"/><circle cx="192.8" cy="155.5" r="1.1"/><circle cx="239.7" cy="166.0" r="1.1"/><circle cx="167.6" cy="209.9" r="1.1"/><circle cx="162.2" cy="217.3" r="1.1"/><circle cx="159.8" cy="220.6" r="1.1"/><circle cx="244.4" cy="200.0" r="1.1"/><circle cx="114.3" cy="196.6" r="1.1"/><circle cx="281.8" cy="128.6" r="1.1"/><circle cx="239.7" cy="181.6" r="1.1"/><circle cx="240.0" cy="181.4" r="1.1"/><circle cx="256.9" cy="158.4" r="1.1"/><circle cx="142.2" cy="206.3" r="1.1"/><circle cx="154.2" cy="189.9" r="1.1"/><circle cx="209.0" cy="240.3" r="1.1"/><circle cx="152.3" cy="214.1" r="1.1"/><circle cx="157.8" cy="196.2" r="1.1"/><circle cx="205.9" cy="178.7" r="1.1"/><circle cx="214.2" cy="167.4" r="1.1"/><circle cx="128.4" cy="185.7" r="1.1"/><circle cx="174.1" cy="156.9" r="1.1"/><circle cx="173.1" cy="158.2" r="1.1"/><circle cx="157.1" cy="180.0" r="1.1"/><circle cx="177.2" cy="199.0" r="1.1"/><circle cx="173.0" cy="204.8" r="1.1"/><circle cx="274.1" cy="191.2" r="1.1"/><circle cx="205.9" cy="235.7" r="1.1"/><circle cx="204.0" cy="238.1" r="1.1"/><circle cx="138.5" cy="215.0" r="1.1"/><circle cx="134.9" cy="219.7" r="1.1"/><circle cx="181.5" cy="154.4" r="1.1"/><circle cx="173.9" cy="164.7" r="1.1"/><circle cx="227.3" cy="188.5" r="1.1"/><circle cx="227.2" cy="188.7" r="1.1"/><circle cx="179.3" cy="189.9" r="1.1"/><circle cx="167.6" cy="205.7" r="1.1"/><circle cx="129.2" cy="160.3" r="1.1"/><circle cx="264.4" cy="168.7" r="1.1"/><circle cx="269.5" cy="161.7" r="1.1"/><circle cx="265.0" cy="167.9" r="1.1"/><circle cx="224.1" cy="206.5" r="1.1"/><circle cx="225.3" cy="205.0" r="1.1"/><circle cx="174.3" cy="190.3" r="1.1"/><circle cx="174.1" cy="190.5" r="1.1"/><circle cx="211.3" cy="189.1" r="1.1"/><circle cx="91.8" cy="189.4" r="1.1"/><circle cx="239.5" cy="174.1" r="1.1"/><circle cx="229.3" cy="188.0" r="1.1"/><circle cx="199.6" cy="169.3" r="1.1"/><circle cx="185.9" cy="187.9" r="1.1"/><circle cx="187.2" cy="186.1" r="1.1"/><circle cx="311.9" cy="161.2" r="1.1"/><circle cx="219.7" cy="187.6" r="1.1"/><circle cx="229.9" cy="173.7" r="1.1"/><circle cx="130.3" cy="208.2" r="1.1"/><circle cx="137.6" cy="184.3" r="1.1"/><circle cx="143.8" cy="175.7" r="1.1"/><circle cx="142.6" cy="177.6" r="1.1"/><circle cx="104.9" cy="175.2" r="1.1"/><circle cx="135.6" cy="210.8" r="1.1"/><circle cx="258.9" cy="199.1" r="1.1"/><circle cx="257.3" cy="174.1" r="1.1"/><circle cx="213.9" cy="149.1" r="1.1"/><circle cx="120.9" cy="208.2" r="1.1"/><circle cx="116.0" cy="215.0" r="1.1"/><circle cx="189.8" cy="188.5" r="1.1"/><circle cx="197.4" cy="178.2" r="1.1"/><circle cx="197.5" cy="178.0" r="1.1"/><circle cx="161.5" cy="191.5" r="1.1"/><circle cx="138.6" cy="161.0" r="1.1"/><circle cx="132.7" cy="169.0" r="1.1"/><circle cx="135.6" cy="165.2" r="1.1"/><circle cx="248.8" cy="163.2" r="1.1"/><circle cx="297.7" cy="159.4" r="1.1"/><circle cx="290.9" cy="168.5" r="1.1"/><circle cx="254.2" cy="135.1" r="1.1"/><circle cx="158.1" cy="178.8" r="1.1"/><circle cx="268.3" cy="184.0" r="1.1"/><circle cx="177.4" cy="193.2" r="1.1"/><circle cx="206.6" cy="248.4" r="1.1"/><circle cx="230.8" cy="238.8" r="1.1"/><circle cx="237.9" cy="229.2" r="1.1"/><circle cx="284.2" cy="145.5" r="1.1"/><circle cx="163.4" cy="168.4" r="1.1"/><circle cx="176.1" cy="151.1" r="1.1"/><circle cx="224.7" cy="134.7" r="1.1"/><circle cx="214.6" cy="148.1" r="1.1"/><circle cx="227.2" cy="155.4" r="1.1"/><circle cx="162.2" cy="203.6" r="1.1"/><circle cx="151.4" cy="232.8" r="1.1"/><circle cx="221.7" cy="184.8" r="1.1"/><circle cx="220.4" cy="186.5" r="1.1"/><circle cx="218.5" cy="189.0" r="1.1"/><circle cx="177.4" cy="202.9" r="1.1"/><circle cx="204.3" cy="154.2" r="1.1"/><circle cx="194.3" cy="166.6" r="1.1"/><circle cx="272.3" cy="209.7" r="1.1"/><circle cx="267.9" cy="185.2" r="1.1"/><circle cx="229.8" cy="141.2" r="1.1"/><circle cx="207.6" cy="171.4" r="1.1"/><circle cx="217.1" cy="158.4" r="1.1"/><circle cx="144.0" cy="200.9" r="1.1"/><circle cx="158.3" cy="181.6" r="1.1"/><circle cx="251.6" cy="182.6" r="1.1"/><circle cx="248.2" cy="187.2" r="1.1"/><circle cx="244.2" cy="192.7" r="1.1"/><circle cx="173.1" cy="188.6" r="1.1"/><circle cx="188.4" cy="167.8" r="1.1"/><circle cx="181.4" cy="177.3" r="1.1"/><circle cx="139.6" cy="187.9" r="1.1"/><circle cx="263.2" cy="145.2" r="1.1"/><circle cx="253.8" cy="158.0" r="1.1"/><circle cx="177.5" cy="214.0" r="1.1"/><circle cx="271.5" cy="142.7" r="1.1"/><circle cx="255.9" cy="163.7" r="1.1"/><circle cx="251.6" cy="169.6" r="1.1"/><circle cx="159.8" cy="206.0" r="1.1"/><circle cx="261.8" cy="208.9" r="1.1"/><circle cx="201.1" cy="165.0" r="1.1"/><circle cx="215.9" cy="145.0" r="1.1"/><circle cx="265.3" cy="146.5" r="1.1"/><circle cx="138.9" cy="208.2" r="1.1"/><circle cx="203.7" cy="164.4" r="1.1"/><circle cx="142.6" cy="193.0" r="1.1"/><circle cx="173.4" cy="169.4" r="1.1"/><circle cx="212.3" cy="195.7" r="1.1"/><circle cx="211.9" cy="196.2" r="1.1"/><circle cx="109.5" cy="188.6" r="1.1"/><circle cx="107.1" cy="191.7" r="1.1"/><circle cx="140.7" cy="180.2" r="1.1"/><circle cx="127.7" cy="197.7" r="1.1"/><circle cx="205.7" cy="190.6" r="1.1"/><circle cx="197.0" cy="202.2" r="1.1"/><circle cx="282.8" cy="148.2" r="1.1"/><circle cx="190.5" cy="234.1" r="1.1"/><circle cx="234.4" cy="204.8" r="1.1"/><circle cx="227.6" cy="239.9" r="1.1"/><circle cx="268.7" cy="188.5" r="1.1"/><circle cx="228.4" cy="184.0" r="1.1"/><circle cx="210.2" cy="186.8" r="1.1"/><circle cx="217.7" cy="176.7" r="1.1"/><circle cx="215.3" cy="179.9" r="1.1"/><circle cx="219.9" cy="128.6" r="1.1"/><circle cx="335.0" cy="130.8" r="1.1"/><circle cx="168.0" cy="184.3" r="1.1"/><circle cx="154.2" cy="203.2" r="1.1"/><circle cx="155.0" cy="239.4" r="1.1"/><circle cx="228.7" cy="203.5" r="1.1"/><circle cx="223.2" cy="210.8" r="1.1"/><circle cx="289.8" cy="150.9" r="1.1"/><circle cx="282.1" cy="161.4" r="1.1"/><circle cx="149.6" cy="200.1" r="1.1"/><circle cx="246.9" cy="165.9" r="1.1"/><circle cx="165.5" cy="214.0" r="1.1"/><circle cx="280.6" cy="190.0" r="1.1"/><circle cx="186.6" cy="179.7" r="1.1"/><circle cx="190.1" cy="175.1" r="1.1"/><circle cx="191.6" cy="173.0" r="1.1"/><circle cx="187.6" cy="205.5" r="1.1"/><circle cx="203.3" cy="184.2" r="1.1"/><circle cx="258.0" cy="197.5" r="1.1"/><circle cx="261.3" cy="192.8" r="1.1"/><circle cx="153.4" cy="226.9" r="1.1"/><circle cx="173.4" cy="205.4" r="1.1"/><circle cx="161.2" cy="222.0" r="1.1"/><circle cx="235.2" cy="182.5" r="1.1"/><circle cx="236.8" cy="180.2" r="1.1"/><circle cx="284.2" cy="202.4" r="1.1"/><circle cx="181.1" cy="204.5" r="1.1"/><circle cx="179.7" cy="206.4" r="1.1"/><circle cx="146.0" cy="182.7" r="1.1"/><circle cx="144.3" cy="185.1" r="1.1"/><circle cx="141.5" cy="188.9" r="1.1"/><circle cx="213.1" cy="142.6" r="1.1"/><circle cx="299.6" cy="235.3" r="1.1"/><circle cx="296.9" cy="166.0" r="1.1"/><circle cx="181.0" cy="167.5" r="1.1"/><circle cx="175.3" cy="199.1" r="1.1"/><circle cx="175.7" cy="198.7" r="1.1"/><circle cx="172.0" cy="203.7" r="1.1"/><circle cx="168.8" cy="231.8" r="1.1"/><circle cx="253.3" cy="184.6" r="1.1"/><circle cx="271.6" cy="159.7" r="1.1"/><circle cx="164.0" cy="185.1" r="1.1"/><circle cx="267.1" cy="151.3" r="1.1"/><circle cx="270.4" cy="146.8" r="1.1"/><circle cx="258.6" cy="183.1" r="1.1"/><circle cx="168.5" cy="210.2" r="1.1"/><circle cx="235.3" cy="193.0" r="1.1"/><circle cx="208.7" cy="173.0" r="1.1"/><circle cx="205.7" cy="177.2" r="1.1"/><circle cx="204.6" cy="178.7" r="1.1"/><circle cx="308.7" cy="149.8" r="1.1"/><circle cx="305.6" cy="154.1" r="1.1"/><circle cx="156.0" cy="196.1" r="1.1"/><circle cx="170.7" cy="176.0" r="1.1"/><circle cx="159.8" cy="190.7" r="1.1"/><circle cx="215.0" cy="209.1" r="1.1"/><circle cx="219.9" cy="202.5" r="1.1"/><circle cx="218.5" cy="176.0" r="1.1"/><circle cx="224.6" cy="167.8" r="1.1"/><circle cx="257.4" cy="142.6" r="1.1"/><circle cx="330.0" cy="128.8" r="1.1"/><circle cx="271.2" cy="187.5" r="1.1"/><circle cx="270.9" cy="187.7" r="1.1"/><circle cx="245.8" cy="158.8" r="1.1"/><circle cx="112.2" cy="207.4" r="1.1"/><circle cx="155.2" cy="247.7" r="1.1"/><circle cx="242.9" cy="151.4" r="1.1"/><circle cx="152.3" cy="152.3" r="1.1"/><circle cx="209.0" cy="190.2" r="1.1"/><circle cx="205.8" cy="180.2" r="1.1"/><circle cx="161.6" cy="251.2" r="1.1"/><circle cx="312.7" cy="131.0" r="1.1"/><circle cx="202.2" cy="202.1" r="1.1"/><circle cx="223.7" cy="172.8" r="1.1"/><circle cx="238.2" cy="184.3" r="1.1"/><circle cx="253.0" cy="164.3" r="1.1"/><circle cx="237.4" cy="185.4" r="1.1"/><circle cx="231.6" cy="162.7" r="1.1"/><circle cx="236.7" cy="155.7" r="1.1"/><circle cx="255.1" cy="130.9" r="1.1"/><circle cx="129.6" cy="232.2" r="1.1"/><circle cx="145.6" cy="210.4" r="1.1"/><circle cx="272.4" cy="164.0" r="1.1"/><circle cx="295.6" cy="132.5" r="1.1"/><circle cx="154.9" cy="171.4" r="1.1"/><circle cx="136.9" cy="169.6" r="1.1"/><circle cx="134.6" cy="172.7" r="1.1"/><circle cx="164.7" cy="242.8" r="1.1"/><circle cx="169.6" cy="235.9" r="1.1"/><circle cx="205.2" cy="224.2" r="1.1"/><circle cx="244.4" cy="149.0" r="1.1"/><circle cx="250.2" cy="141.0" r="1.1"/><circle cx="156.8" cy="204.5" r="1.1"/><circle cx="149.9" cy="187.4" r="1.1"/><circle cx="154.6" cy="181.1" r="1.1"/><circle cx="208.7" cy="171.2" r="1.1"/><circle cx="209.5" cy="161.3" r="1.1"/><circle cx="224.6" cy="141.0" r="1.1"/><circle cx="144.4" cy="222.3" r="1.1"/><circle cx="186.6" cy="120.2" r="1.1"/><circle cx="234.5" cy="243.0" r="1.1"/><circle cx="116.2" cy="205.9" r="1.1"/><circle cx="110.3" cy="213.8" r="1.1"/><circle cx="222.1" cy="213.3" r="1.1"/><circle cx="148.9" cy="227.9" r="1.1"/><circle cx="242.4" cy="160.1" r="1.1"/><circle cx="288.9" cy="157.7" r="1.1"/><circle cx="278.5" cy="171.8" r="1.1"/><circle cx="240.6" cy="164.0" r="1.1"/><circle cx="238.4" cy="167.0" r="1.1"/><circle cx="249.7" cy="151.5" r="1.1"/><circle cx="276.9" cy="199.4" r="1.1"/><circle cx="276.6" cy="199.6" r="1.1"/><circle cx="255.6" cy="162.6" r="1.1"/><circle cx="246.9" cy="174.3" r="1.1"/><circle cx="265.5" cy="138.2" r="1.1"/><circle cx="235.3" cy="179.2" r="1.1"/><circle cx="230.8" cy="185.3" r="1.1"/><circle cx="220.0" cy="199.7" r="1.1"/><circle cx="218.4" cy="202.0" r="1.1"/><circle cx="164.1" cy="173.2" r="1.1"/><circle cx="170.1" cy="165.3" r="1.1"/><circle cx="209.5" cy="160.4" r="1.1"/><circle cx="197.4" cy="172.0" r="1.1"/><circle cx="217.9" cy="144.0" r="1.1"/><circle cx="287.9" cy="150.0" r="1.1"/><circle cx="168.8" cy="175.7" r="1.1"/><circle cx="169.6" cy="174.6" r="1.1"/><circle cx="259.9" cy="154.6" r="1.1"/><circle cx="195.2" cy="185.5" r="1.1"/><circle cx="229.8" cy="189.6" r="1.1"/><circle cx="136.1" cy="222.6" r="1.1"/><circle cx="143.6" cy="212.4" r="1.1"/><circle cx="246.8" cy="232.2" r="1.1"/><circle cx="247.1" cy="231.7" r="1.1"/><circle cx="241.7" cy="119.4" r="1.1"/><circle cx="122.7" cy="215.5" r="1.1"/><circle cx="129.6" cy="206.2" r="1.1"/><circle cx="107.0" cy="203.8" r="1.1"/><circle cx="119.3" cy="187.4" r="1.1"/><circle cx="134.0" cy="167.3" r="1.1"/><circle cx="187.2" cy="201.0" r="1.1"/><circle cx="278.5" cy="193.9" r="1.1"/><circle cx="284.2" cy="186.2" r="1.1"/><circle cx="293.8" cy="164.9" r="1.1"/><circle cx="195.6" cy="136.6" r="1.1"/><circle cx="269.0" cy="141.0" r="1.1"/><circle cx="244.6" cy="174.3" r="1.1"/><circle cx="251.6" cy="240.3" r="1.1"/><circle cx="172.8" cy="200.0" r="1.1"/><circle cx="219.0" cy="214.9" r="1.1"/><circle cx="193.5" cy="249.4" r="1.1"/><circle cx="148.9" cy="196.9" r="1.1"/><circle cx="137.6" cy="212.2" r="1.1"/><circle cx="152.4" cy="192.3" r="1.1"/><circle cx="287.5" cy="153.8" r="1.1"/><circle cx="280.3" cy="163.4" r="1.1"/><circle cx="331.2" cy="199.9" r="1.1"/><circle cx="316.3" cy="220.1" r="1.1"/><circle cx="144.4" cy="250.3" r="1.1"/><circle cx="159.7" cy="229.6" r="1.1"/><circle cx="290.1" cy="151.2" r="1.1"/><circle cx="211.9" cy="234.8" r="1.1"/><circle cx="177.4" cy="167.5" r="1.1"/><circle cx="148.0" cy="207.5" r="1.1"/><circle cx="233.3" cy="180.5" r="1.1"/><circle cx="213.8" cy="167.7" r="1.1"/><circle cx="264.0" cy="160.1" r="1.1"/><circle cx="241.3" cy="191.0" r="1.1"/><circle cx="268.9" cy="153.6" r="1.1"/><circle cx="238.4" cy="174.9" r="1.1"/><circle cx="213.1" cy="174.6" r="1.1"/><circle cx="203.7" cy="187.4" r="1.1"/><circle cx="135.0" cy="244.3" r="1.1"/><circle cx="120.8" cy="148.4" r="1.1"/><circle cx="104.7" cy="170.3" r="1.1"/><circle cx="223.9" cy="158.8" r="1.1"/><circle cx="205.0" cy="184.5" r="1.1"/><circle cx="171.3" cy="171.7" r="1.1"/><circle cx="222.1" cy="165.7" r="1.1"/><circle cx="254.5" cy="177.2" r="1.1"/><circle cx="254.0" cy="177.9" r="1.1"/><circle cx="218.5" cy="247.8" r="1.1"/><circle cx="299.1" cy="155.0" r="1.1"/><circle cx="124.9" cy="224.1" r="1.1"/><circle cx="121.5" cy="228.8" r="1.1"/><circle cx="245.5" cy="158.1" r="1.1"/><circle cx="223.7" cy="187.6" r="1.1"/><circle cx="261.4" cy="193.4" r="1.1"/><circle cx="258.9" cy="196.9" r="1.1"/><circle cx="251.1" cy="207.6" r="1.1"/><circle cx="185.4" cy="215.1" r="1.1"/><circle cx="188.0" cy="211.5" r="1.1"/><circle cx="323.1" cy="165.5" r="1.1"/><circle cx="221.4" cy="153.8" r="1.1"/><circle cx="224.4" cy="149.6" r="1.1"/><circle cx="172.1" cy="167.5" r="1.1"/><circle cx="187.6" cy="146.6" r="1.1"/><circle cx="313.1" cy="175.8" r="1.1"/><circle cx="330.3" cy="152.7" r="1.1"/><circle cx="223.7" cy="134.5" r="1.1"/><circle cx="225.0" cy="132.8" r="1.1"/><circle cx="202.9" cy="199.1" r="1.1"/><circle cx="197.7" cy="206.1" r="1.1"/><circle cx="182.3" cy="175.0" r="1.1"/><circle cx="258.2" cy="158.7" r="1.1"/><circle cx="259.6" cy="156.8" r="1.1"/><circle cx="133.9" cy="150.9" r="1.1"/><circle cx="126.5" cy="160.9" r="1.1"/><circle cx="221.7" cy="184.9" r="1.1"/><circle cx="220.0" cy="187.1" r="1.1"/><circle cx="161.5" cy="215.8" r="1.1"/><circle cx="161.2" cy="216.1" r="1.1"/><circle cx="208.4" cy="164.2" r="1.1"/><circle cx="253.4" cy="135.6" r="1.1"/><circle cx="217.4" cy="198.7" r="1.1"/><circle cx="133.1" cy="200.0" r="1.1"/><circle cx="138.7" cy="192.4" r="1.1"/><circle cx="305.6" cy="120.2" r="1.1"/><circle cx="228.1" cy="166.9" r="1.1"/><circle cx="222.4" cy="174.6" r="1.1"/><circle cx="188.8" cy="185.4" r="1.1"/><circle cx="250.9" cy="161.5" r="1.1"/><circle cx="218.4" cy="162.3" r="1.1"/><circle cx="214.2" cy="168.0" r="1.1"/><circle cx="172.7" cy="192.1" r="1.1"/><circle cx="106.6" cy="191.8" r="1.1"/><circle cx="108.1" cy="189.7" r="1.1"/><circle cx="108.5" cy="189.2" r="1.1"/><circle cx="144.5" cy="199.4" r="1.1"/><circle cx="141.6" cy="203.3" r="1.1"/><circle cx="157.6" cy="181.6" r="1.1"/><circle cx="137.4" cy="231.8" r="1.1"/><circle cx="233.3" cy="134.8" r="1.1"/><circle cx="240.0" cy="125.7" r="1.1"/><circle cx="191.9" cy="151.5" r="1.1"/><circle cx="188.7" cy="155.9" r="1.1"/><circle cx="192.3" cy="150.9" r="1.1"/><circle cx="236.2" cy="189.1" r="1.1"/><circle cx="193.9" cy="194.8" r="1.1"/><circle cx="198.1" cy="189.2" r="1.1"/><circle cx="200.1" cy="186.4" r="1.1"/><circle cx="155.7" cy="178.7" r="1.1"/><circle cx="158.3" cy="175.2" r="1.1"/><circle cx="164.3" cy="167.1" r="1.1"/><circle cx="171.6" cy="213.8" r="1.1"/><circle cx="128.4" cy="190.9" r="1.1"/><circle cx="141.5" cy="183.2" r="1.1"/><circle cx="135.3" cy="191.6" r="1.1"/><circle cx="139.1" cy="186.4" r="1.1"/><circle cx="199.3" cy="188.6" r="1.1"/><circle cx="212.7" cy="170.5" r="1.1"/><circle cx="215.7" cy="166.4" r="1.1"/><circle cx="211.2" cy="161.1" r="1.1"/><circle cx="205.9" cy="168.1" r="1.1"/><circle cx="226.2" cy="215.2" r="1.1"/><circle cx="290.9" cy="164.9" r="1.1"/><circle cx="227.0" cy="205.5" r="1.1"/><circle cx="238.9" cy="189.5" r="1.1"/><circle cx="118.0" cy="212.2" r="1.1"/><circle cx="187.4" cy="170.5" r="1.1"/><circle cx="193.2" cy="198.3" r="1.1"/><circle cx="170.9" cy="216.4" r="1.1"/><circle cx="199.2" cy="170.8" r="1.1"/><circle cx="240.3" cy="133.6" r="1.1"/><circle cx="214.5" cy="176.9" r="1.1"/><circle cx="217.8" cy="172.6" r="1.1"/><circle cx="212.4" cy="179.8" r="1.1"/><circle cx="150.2" cy="237.9" r="1.1"/><circle cx="151.6" cy="236.0" r="1.1"/><circle cx="218.1" cy="202.7" r="1.1"/><circle cx="217.8" cy="203.1" r="1.1"/><circle cx="193.8" cy="185.9" r="1.1"/><circle cx="193.9" cy="185.8" r="1.1"/><circle cx="197.0" cy="163.2" r="1.1"/><circle cx="196.0" cy="164.6" r="1.1"/><circle cx="203.4" cy="154.6" r="1.1"/><circle cx="220.7" cy="210.9" r="1.1"/><circle cx="208.8" cy="170.8" r="1.1"/><circle cx="208.7" cy="170.8" r="1.1"/><circle cx="198.1" cy="185.4" r="1.1"/><circle cx="195.0" cy="183.1" r="1.1"/><circle cx="188.8" cy="191.6" r="1.1"/><circle cx="192.1" cy="187.1" r="1.1"/><circle cx="255.3" cy="140.9" r="1.1"/><circle cx="255.1" cy="137.7" r="1.1"/><circle cx="252.4" cy="182.7" r="1.1"/><circle cx="258.4" cy="174.7" r="1.1"/><circle cx="255.7" cy="178.3" r="1.1"/><circle cx="137.2" cy="176.0" r="1.1"/><circle cx="132.0" cy="183.2" r="1.1"/><circle cx="174.5" cy="192.7" r="1.1"/><circle cx="214.8" cy="159.7" r="1.1"/><circle cx="213.8" cy="186.3" r="1.1"/><circle cx="237.5" cy="154.2" r="1.1"/><circle cx="223.5" cy="173.4" r="1.1"/><circle cx="197.4" cy="231.7" r="1.1"/><circle cx="163.0" cy="203.4" r="1.1"/><circle cx="220.1" cy="197.7" r="1.1"/><circle cx="217.9" cy="200.6" r="1.1"/><circle cx="215.3" cy="204.2" r="1.1"/><circle cx="172.7" cy="201.7" r="1.1"/><circle cx="162.2" cy="216.0" r="1.1"/><circle cx="146.0" cy="220.9" r="1.1"/><circle cx="220.1" cy="178.9" r="1.1"/><circle cx="226.5" cy="170.3" r="1.1"/><circle cx="198.8" cy="196.1" r="1.1"/><circle cx="202.6" cy="190.8" r="1.1"/><circle cx="241.3" cy="170.7" r="1.1"/><circle cx="138.9" cy="186.1" r="1.1"/><circle cx="164.1" cy="171.7" r="1.1"/><circle cx="172.5" cy="160.3" r="1.1"/><circle cx="315.1" cy="124.6" r="1.1"/><circle cx="300.9" cy="144.0" r="1.1"/><circle cx="113.6" cy="201.3" r="1.1"/><circle cx="134.7" cy="189.0" r="1.1"/><circle cx="196.3" cy="127.4" r="1.1"/><circle cx="289.0" cy="147.7" r="1.1"/><circle cx="288.7" cy="148.2" r="1.1"/><circle cx="281.7" cy="149.3" r="1.1"/><circle cx="290.7" cy="137.0" r="1.1"/><circle cx="269.3" cy="166.2" r="1.1"/><circle cx="191.0" cy="225.5" r="1.1"/><circle cx="128.2" cy="177.4" r="1.1"/><circle cx="147.4" cy="194.2" r="1.1"/><circle cx="164.5" cy="217.0" r="1.1"/><circle cx="152.8" cy="233.0" r="1.1"/><circle cx="232.6" cy="230.1" r="1.1"/><circle cx="176.5" cy="200.8" r="1.1"/><circle cx="266.2" cy="199.7" r="1.1"/><circle cx="218.9" cy="194.4" r="1.1"/><circle cx="211.0" cy="205.0" r="1.1"/><circle cx="210.6" cy="205.5" r="1.1"/><circle cx="127.3" cy="218.5" r="1.1"/><circle cx="131.3" cy="213.0" r="1.1"/><circle cx="139.7" cy="201.7" r="1.1"/><circle cx="299.1" cy="138.6" r="1.1"/><circle cx="286.9" cy="154.9" r="1.1"/><circle cx="308.0" cy="157.9" r="1.1"/><circle cx="269.3" cy="146.3" r="1.1"/><circle cx="245.7" cy="178.2" r="1.1"/><circle cx="269.7" cy="145.7" r="1.1"/><circle cx="302.5" cy="158.6" r="1.1"/><circle cx="296.6" cy="166.8" r="1.1"/><circle cx="212.4" cy="164.3" r="1.1"/><circle cx="218.5" cy="156.2" r="1.1"/><circle cx="237.5" cy="213.0" r="1.1"/><circle cx="261.8" cy="147.6" r="1.1"/><circle cx="245.4" cy="199.2" r="1.1"/><circle cx="179.0" cy="220.2" r="1.1"/><circle cx="175.7" cy="224.6" r="1.1"/><circle cx="211.7" cy="128.9" r="1.1"/><circle cx="191.7" cy="156.1" r="1.1"/><circle cx="256.4" cy="204.8" r="1.1"/><circle cx="262.0" cy="197.4" r="1.1"/><circle cx="298.1" cy="161.2" r="1.1"/><circle cx="301.6" cy="156.5" r="1.1"/><circle cx="142.6" cy="218.4" r="1.1"/><circle cx="135.1" cy="228.6" r="1.1"/><circle cx="330.5" cy="175.9" r="1.1"/><circle cx="275.1" cy="178.8" r="1.1"/><circle cx="172.0" cy="212.3" r="1.1"/><circle cx="179.4" cy="202.1" r="1.1"/><circle cx="181.2" cy="199.8" r="1.1"/><circle cx="134.3" cy="221.5" r="1.1"/><circle cx="137.6" cy="217.0" r="1.1"/><circle cx="144.9" cy="207.1" r="1.1"/><circle cx="191.3" cy="206.9" r="1.1"/><circle cx="301.0" cy="203.1" r="1.1"/><circle cx="302.5" cy="201.0" r="1.1"/><circle cx="183.2" cy="183.7" r="1.1"/><circle cx="172.0" cy="198.9" r="1.1"/><circle cx="188.0" cy="177.1" r="1.1"/><circle cx="195.0" cy="168.1" r="1.1"/><circle cx="186.9" cy="179.2" r="1.1"/><circle cx="210.3" cy="133.2" r="1.1"/><circle cx="201.9" cy="144.7" r="1.1"/><circle cx="203.3" cy="142.9" r="1.1"/><circle cx="221.7" cy="162.8" r="1.1"/><circle cx="191.0" cy="193.0" r="1.1"/><circle cx="188.7" cy="196.2" r="1.1"/><circle cx="205.5" cy="173.3" r="1.1"/><circle cx="252.6" cy="191.1" r="1.1"/><circle cx="181.5" cy="186.6" r="1.1"/><circle cx="128.0" cy="199.7" r="1.1"/><circle cx="120.1" cy="180.4" r="1.1"/><circle cx="121.3" cy="178.7" r="1.1"/><circle cx="132.7" cy="163.3" r="1.1"/><circle cx="182.6" cy="176.8" r="1.1"/><circle cx="193.2" cy="162.4" r="1.1"/><circle cx="256.9" cy="123.9" r="1.1"/><circle cx="267.1" cy="166.5" r="1.1"/><circle cx="131.3" cy="198.4" r="1.1"/><circle cx="135.3" cy="193.0" r="1.1"/><circle cx="207.3" cy="177.1" r="1.1"/><circle cx="219.3" cy="160.8" r="1.1"/><circle cx="183.2" cy="240.0" r="1.1"/><circle cx="190.8" cy="195.9" r="1.1"/><circle cx="181.9" cy="160.2" r="1.1"/><circle cx="191.6" cy="147.2" r="1.1"/><circle cx="191.2" cy="147.8" r="1.1"/><circle cx="271.6" cy="176.6" r="1.1"/><circle cx="148.8" cy="226.1" r="1.1"/><circle cx="157.2" cy="214.6" r="1.1"/><circle cx="169.5" cy="195.5" r="1.1"/><circle cx="174.6" cy="188.5" r="1.1"/><circle cx="167.8" cy="197.7" r="1.1"/><circle cx="169.8" cy="218.3" r="1.1"/><circle cx="193.1" cy="186.5" r="1.1"/><circle cx="267.5" cy="151.2" r="1.1"/><circle cx="257.5" cy="164.8" r="1.1"/><circle cx="254.0" cy="169.7" r="1.1"/><circle cx="163.7" cy="251.2" r="1.1"/><circle cx="169.9" cy="242.7" r="1.1"/><circle cx="168.0" cy="245.3" r="1.1"/><circle cx="94.9" cy="184.5" r="1.1"/><circle cx="91.4" cy="189.0" r="1.1"/><circle cx="194.9" cy="167.6" r="1.1"/><circle cx="211.0" cy="145.7" r="1.1"/><circle cx="205.4" cy="165.3" r="1.1"/><circle cx="286.8" cy="161.6" r="1.1"/><circle cx="119.8" cy="152.4" r="1.1"/><circle cx="216.0" cy="160.3" r="1.1"/><circle cx="216.0" cy="160.3" r="1.1"/><circle cx="102.9" cy="181.6" r="1.1"/><circle cx="105.2" cy="178.3" r="1.1"/><circle cx="267.9" cy="169.8" r="1.1"/><circle cx="220.7" cy="155.1" r="1.1"/><circle cx="239.6" cy="129.4" r="1.1"/><circle cx="240.6" cy="178.7" r="1.1"/><circle cx="95.5" cy="183.7" r="1.1"/><circle cx="153.1" cy="167.1" r="1.1"/><circle cx="220.0" cy="168.3" r="1.1"/><circle cx="213.0" cy="177.7" r="1.1"/><circle cx="241.3" cy="188.5" r="1.1"/><circle cx="201.4" cy="187.6" r="1.1"/><circle cx="236.8" cy="152.0" r="1.1"/><circle cx="237.4" cy="151.3" r="1.1"/><circle cx="244.4" cy="141.7" r="1.1"/><circle cx="148.8" cy="169.4" r="1.1"/><circle cx="258.0" cy="241.3" r="1.1"/><circle cx="172.7" cy="216.9" r="1.1"/><circle cx="296.2" cy="173.8" r="1.1"/><circle cx="300.7" cy="167.6" r="1.1"/><circle cx="165.4" cy="220.1" r="1.1"/><circle cx="179.2" cy="201.5" r="1.1"/><circle cx="162.9" cy="223.7" r="1.1"/><circle cx="234.6" cy="144.9" r="1.1"/><circle cx="194.5" cy="245.7" r="1.1"/><circle cx="283.5" cy="149.2" r="1.1"/><circle cx="294.9" cy="133.6" r="1.1"/><circle cx="289.3" cy="141.3" r="1.1"/><circle cx="243.2" cy="158.3" r="1.1"/><circle cx="299.4" cy="172.5" r="1.1"/><circle cx="286.2" cy="190.4" r="1.1"/><circle cx="205.5" cy="160.1" r="1.1"/><circle cx="250.8" cy="162.9" r="1.1"/><circle cx="239.5" cy="188.8" r="1.1"/><circle cx="161.5" cy="163.6" r="1.1"/><circle cx="311.6" cy="128.1" r="1.1"/><circle cx="160.0" cy="212.4" r="1.1"/><circle cx="251.1" cy="178.1" r="1.1"/><circle cx="245.7" cy="185.4" r="1.1"/><circle cx="325.0" cy="130.1" r="1.1"/><circle cx="215.9" cy="137.6" r="1.1"/><circle cx="221.0" cy="130.5" r="1.1"/><circle cx="203.4" cy="197.7" r="1.1"/><circle cx="201.4" cy="200.6" r="1.1"/><circle cx="191.4" cy="172.6" r="1.1"/><circle cx="203.2" cy="156.6" r="1.1"/><circle cx="185.2" cy="181.1" r="1.1"/><circle cx="188.1" cy="195.2" r="1.1"/><circle cx="154.2" cy="176.0" r="1.1"/><circle cx="156.5" cy="172.8" r="1.1"/><circle cx="256.3" cy="200.1" r="1.1"/><circle cx="269.3" cy="182.5" r="1.1"/><circle cx="258.6" cy="196.9" r="1.1"/><circle cx="236.2" cy="148.1" r="1.1"/><circle cx="207.5" cy="187.1" r="1.1"/><circle cx="238.6" cy="144.7" r="1.1"/><circle cx="219.3" cy="162.6" r="1.1"/><circle cx="174.3" cy="225.3" r="1.1"/><circle cx="194.1" cy="198.4" r="1.1"/><circle cx="270.5" cy="168.1" r="1.1"/><circle cx="251.3" cy="194.3" r="1.1"/><circle cx="171.3" cy="233.6" r="1.1"/><circle cx="189.2" cy="209.2" r="1.1"/><circle cx="119.0" cy="206.5" r="1.1"/><circle cx="162.7" cy="177.8" r="1.1"/><circle cx="132.0" cy="205.5" r="1.1"/><circle cx="124.0" cy="216.4" r="1.1"/><circle cx="285.0" cy="165.8" r="1.1"/><circle cx="205.0" cy="180.0" r="1.1"/><circle cx="264.7" cy="126.6" r="1.1"/><circle cx="246.1" cy="151.9" r="1.1"/><circle cx="275.9" cy="144.0" r="1.1"/><circle cx="262.1" cy="162.7" r="1.1"/><circle cx="267.9" cy="177.6" r="1.1"/><circle cx="281.0" cy="150.0" r="1.1"/><circle cx="283.1" cy="147.1" r="1.1"/><circle cx="273.8" cy="159.7" r="1.1"/><circle cx="281.0" cy="205.4" r="1.1"/><circle cx="294.1" cy="151.7" r="1.1"/><circle cx="312.3" cy="127.2" r="1.1"/><circle cx="285.0" cy="164.1" r="1.1"/><circle cx="280.2" cy="217.7" r="1.1"/><circle cx="289.7" cy="204.8" r="1.1"/><circle cx="132.8" cy="207.9" r="1.1"/><circle cx="134.7" cy="205.3" r="1.1"/><circle cx="142.2" cy="195.2" r="1.1"/><circle cx="183.7" cy="208.6" r="1.1"/><circle cx="178.5" cy="215.7" r="1.1"/><circle cx="185.6" cy="206.0" r="1.1"/><circle cx="218.9" cy="157.6" r="1.1"/><circle cx="177.9" cy="193.0" r="1.1"/><circle cx="178.9" cy="191.7" r="1.1"/><circle cx="180.0" cy="190.3" r="1.1"/><circle cx="174.3" cy="207.5" r="1.1"/><circle cx="144.7" cy="237.1" r="1.1"/><circle cx="147.3" cy="233.5" r="1.1"/><circle cx="226.2" cy="167.1" r="1.1"/><circle cx="182.1" cy="181.7" r="1.1"/><circle cx="163.2" cy="207.6" r="1.1"/><circle cx="101.9" cy="174.3" r="1.1"/><circle cx="98.9" cy="178.5" r="1.1"/><circle cx="145.5" cy="237.8" r="1.1"/><circle cx="269.0" cy="141.5" r="1.1"/><circle cx="190.6" cy="191.3" r="1.1"/><circle cx="204.7" cy="172.2" r="1.1"/><circle cx="206.2" cy="170.2" r="1.1"/><circle cx="116.1" cy="214.9" r="1.1"/><circle cx="179.4" cy="205.3" r="1.1"/><circle cx="177.1" cy="208.5" r="1.1"/><circle cx="303.5" cy="117.2" r="1.1"/><circle cx="129.4" cy="209.3" r="1.1"/><circle cx="206.1" cy="195.7" r="1.1"/><circle cx="206.9" cy="194.7" r="1.1"/><circle cx="202.1" cy="201.1" r="1.1"/><circle cx="121.8" cy="188.2" r="1.1"/><circle cx="110.9" cy="202.9" r="1.1"/><circle cx="212.8" cy="160.0" r="1.1"/><circle cx="331.9" cy="137.8" r="1.1"/><circle cx="233.7" cy="210.9" r="1.1"/><circle cx="254.8" cy="182.2" r="1.1"/><circle cx="271.2" cy="186.7" r="1.1"/><circle cx="241.8" cy="168.2" r="1.1"/><circle cx="235.9" cy="176.1" r="1.1"/><circle cx="230.4" cy="183.7" r="1.1"/><circle cx="241.7" cy="167.7" r="1.1"/><circle cx="224.7" cy="190.8" r="1.1"/><circle cx="233.9" cy="190.3" r="1.1"/><circle cx="155.6" cy="188.9" r="1.1"/><circle cx="221.5" cy="182.6" r="1.1"/><circle cx="258.1" cy="149.5" r="1.1"/><circle cx="257.8" cy="150.0" r="1.1"/><circle cx="152.7" cy="209.8" r="1.1"/><circle cx="205.9" cy="209.4" r="1.1"/><circle cx="221.0" cy="188.9" r="1.1"/><circle cx="196.6" cy="174.9" r="1.1"/><circle cx="201.5" cy="168.2" r="1.1"/><circle cx="242.6" cy="163.5" r="1.1"/><circle cx="248.4" cy="155.6" r="1.1"/><circle cx="265.7" cy="132.2" r="1.1"/><circle cx="250.8" cy="187.4" r="1.1"/><circle cx="263.9" cy="169.8" r="1.1"/><circle cx="185.1" cy="184.5" r="1.1"/><circle cx="188.5" cy="179.7" r="1.1"/><circle cx="190.1" cy="177.7" r="1.1"/><circle cx="160.8" cy="212.0" r="1.1"/><circle cx="289.0" cy="176.2" r="1.1"/><circle cx="206.5" cy="168.2" r="1.1"/><circle cx="217.9" cy="152.6" r="1.1"/><circle cx="280.2" cy="181.0" r="1.1"/><circle cx="164.8" cy="211.5" r="1.1"/><circle cx="232.8" cy="168.8" r="1.1"/><circle cx="117.5" cy="217.9" r="1.1"/><circle cx="288.2" cy="188.7" r="1.1"/><circle cx="299.2" cy="173.6" r="1.1"/><circle cx="178.2" cy="136.9" r="1.1"/><circle cx="180.3" cy="134.0" r="1.1"/><circle cx="234.6" cy="156.8" r="1.1"/><circle cx="245.4" cy="142.3" r="1.1"/><circle cx="244.6" cy="180.2" r="1.1"/><circle cx="108.2" cy="198.4" r="1.1"/><circle cx="172.1" cy="181.5" r="1.1"/><circle cx="187.3" cy="160.9" r="1.1"/><circle cx="176.8" cy="175.1" r="1.1"/><circle cx="207.0" cy="178.9" r="1.1"/><circle cx="220.4" cy="160.8" r="1.1"/><circle cx="207.0" cy="197.7" r="1.1"/><circle cx="200.3" cy="206.9" r="1.1"/><circle cx="138.5" cy="233.6" r="1.1"/><circle cx="133.2" cy="240.5" r="1.1"/><circle cx="132.7" cy="212.4" r="1.1"/><circle cx="138.9" cy="203.8" r="1.1"/><circle cx="122.7" cy="225.9" r="1.1"/><circle cx="219.9" cy="161.3" r="1.1"/><circle cx="213.1" cy="170.4" r="1.1"/><circle cx="158.3" cy="182.2" r="1.1"/><circle cx="150.7" cy="231.4" r="1.1"/><circle cx="220.3" cy="189.0" r="1.1"/><circle cx="224.6" cy="183.1" r="1.1"/><circle cx="218.5" cy="191.5" r="1.1"/><circle cx="229.8" cy="192.3" r="1.1"/><circle cx="215.7" cy="211.5" r="1.1"/><circle cx="236.4" cy="183.3" r="1.1"/><circle cx="152.3" cy="225.9" r="1.1"/><circle cx="149.9" cy="229.1" r="1.1"/><circle cx="140.8" cy="241.4" r="1.1"/><circle cx="203.6" cy="124.6" r="1.1"/><circle cx="116.4" cy="201.7" r="1.1"/><circle cx="220.7" cy="135.7" r="1.1"/><circle cx="195.2" cy="170.3" r="1.1"/><circle cx="204.0" cy="158.4" r="1.1"/><circle cx="223.0" cy="199.9" r="1.1"/><circle cx="239.7" cy="177.3" r="1.1"/><circle cx="181.0" cy="194.0" r="1.1"/><circle cx="295.3" cy="126.6" r="1.1"/><circle cx="294.4" cy="128.0" r="1.1"/><circle cx="164.5" cy="220.3" r="1.1"/><circle cx="152.0" cy="237.5" r="1.1"/><circle cx="168.3" cy="219.3" r="1.1"/><circle cx="298.1" cy="180.6" r="1.1"/><circle cx="290.9" cy="190.4" r="1.1"/><circle cx="302.7" cy="174.5" r="1.1"/><circle cx="233.3" cy="131.7" r="1.1"/><circle cx="180.4" cy="230.5" r="1.1"/><circle cx="239.1" cy="197.5" r="1.1"/><circle cx="238.4" cy="198.5" r="1.1"/><circle cx="246.5" cy="187.4" r="1.1"/><circle cx="139.6" cy="240.8" r="1.1"/><circle cx="141.6" cy="238.1" r="1.1"/><circle cx="142.7" cy="236.6" r="1.1"/><circle cx="221.4" cy="154.6" r="1.1"/><circle cx="193.5" cy="176.1" r="1.1"/><circle cx="195.3" cy="173.8" r="1.1"/><circle cx="207.9" cy="199.5" r="1.1"/><circle cx="205.9" cy="182.5" r="1.1"/><circle cx="209.7" cy="177.5" r="1.1"/><circle cx="223.0" cy="148.1" r="1.1"/><circle cx="240.8" cy="159.4" r="1.1"/><circle cx="256.6" cy="138.1" r="1.1"/><circle cx="245.9" cy="168.0" r="1.1"/><circle cx="148.4" cy="219.5" r="1.1"/><circle cx="232.8" cy="217.9" r="1.1"/><circle cx="194.2" cy="185.7" r="1.1"/><circle cx="171.0" cy="228.0" r="1.1"/><circle cx="163.0" cy="238.8" r="1.1"/><circle cx="181.8" cy="213.5" r="1.1"/><circle cx="155.8" cy="223.7" r="1.1"/><circle cx="169.4" cy="212.3" r="1.1"/><circle cx="264.3" cy="160.4" r="1.1"/><circle cx="242.9" cy="179.1" r="1.1"/><circle cx="240.2" cy="182.9" r="1.1"/><circle cx="299.2" cy="141.6" r="1.1"/><circle cx="269.7" cy="191.6" r="1.1"/><circle cx="250.6" cy="217.3" r="1.1"/><circle cx="198.2" cy="175.9" r="1.1"/><circle cx="187.0" cy="191.1" r="1.1"/><circle cx="194.3" cy="181.3" r="1.1"/><circle cx="175.3" cy="198.4" r="1.1"/><circle cx="204.6" cy="132.1" r="1.1"/><circle cx="220.6" cy="219.6" r="1.1"/><circle cx="219.0" cy="221.7" r="1.1"/><circle cx="152.1" cy="236.0" r="1.1"/><circle cx="167.3" cy="215.4" r="1.1"/><circle cx="153.8" cy="233.8" r="1.1"/><circle cx="206.3" cy="152.1" r="1.1"/><circle cx="134.7" cy="198.6" r="1.1"/><circle cx="129.5" cy="205.9" r="1.1"/><circle cx="138.3" cy="193.8" r="1.1"/><circle cx="243.1" cy="129.4" r="1.1"/><circle cx="141.8" cy="223.0" r="1.1"/><circle cx="156.3" cy="219.1" r="1.1"/><circle cx="164.7" cy="207.6" r="1.1"/><circle cx="132.9" cy="198.7" r="1.1"/><circle cx="237.0" cy="216.7" r="1.1"/><circle cx="213.0" cy="153.3" r="1.1"/><circle cx="214.9" cy="150.7" r="1.1"/><circle cx="224.1" cy="138.1" r="1.1"/><circle cx="157.1" cy="221.8" r="1.1"/><circle cx="216.8" cy="154.5" r="1.1"/><circle cx="226.2" cy="141.8" r="1.1"/><circle cx="322.3" cy="165.5" r="1.1"/><circle cx="312.3" cy="178.9" r="1.1"/><circle cx="267.3" cy="174.0" r="1.1"/><circle cx="170.2" cy="227.4" r="1.1"/><circle cx="141.4" cy="190.5" r="1.1"/><circle cx="232.2" cy="199.0" r="1.1"/><circle cx="233.3" cy="197.5" r="1.1"/><circle cx="236.3" cy="193.3" r="1.1"/><circle cx="271.8" cy="185.5" r="1.1"/><circle cx="235.2" cy="215.2" r="1.1"/><circle cx="303.2" cy="157.4" r="1.1"/><circle cx="200.0" cy="144.3" r="1.1"/><circle cx="170.3" cy="244.8" r="1.1"/><circle cx="180.8" cy="230.6" r="1.1"/><circle cx="233.7" cy="170.6" r="1.1"/><circle cx="291.8" cy="161.4" r="1.1"/><circle cx="278.7" cy="179.2" r="1.1"/><circle cx="191.7" cy="204.4" r="1.1"/><circle cx="110.0" cy="188.8" r="1.1"/><circle cx="104.4" cy="196.4" r="1.1"/><circle cx="177.4" cy="239.9" r="1.1"/><circle cx="187.4" cy="198.3" r="1.1"/><circle cx="197.7" cy="184.5" r="1.1"/><circle cx="147.4" cy="209.5" r="1.1"/><circle cx="157.1" cy="196.4" r="1.1"/><circle cx="214.9" cy="216.9" r="1.1"/><circle cx="185.0" cy="228.4" r="1.1"/><circle cx="187.6" cy="147.1" r="1.1"/><circle cx="179.7" cy="157.9" r="1.1"/><circle cx="289.7" cy="215.2" r="1.1"/><circle cx="220.1" cy="223.2" r="1.1"/><circle cx="271.8" cy="230.3" r="1.1"/><circle cx="199.3" cy="187.9" r="1.1"/><circle cx="220.6" cy="173.3" r="1.1"/><circle cx="235.6" cy="152.9" r="1.1"/><circle cx="237.5" cy="150.4" r="1.1"/><circle cx="164.1" cy="209.3" r="1.1"/><circle cx="163.4" cy="210.2" r="1.1"/><circle cx="287.2" cy="196.9" r="1.1"/><circle cx="296.7" cy="184.0" r="1.1"/><circle cx="291.9" cy="190.6" r="1.1"/><circle cx="123.3" cy="172.3" r="1.1"/><circle cx="118.6" cy="178.6" r="1.1"/><circle cx="192.8" cy="159.7" r="1.1"/><circle cx="187.0" cy="167.4" r="1.1"/><circle cx="148.0" cy="235.5" r="1.1"/><circle cx="156.5" cy="223.9" r="1.1"/><circle cx="161.6" cy="217.0" r="1.1"/><circle cx="128.9" cy="206.9" r="1.1"/><circle cx="296.2" cy="166.4" r="1.1"/><circle cx="226.2" cy="156.7" r="1.1"/><circle cx="108.7" cy="196.1" r="1.1"/><circle cx="201.5" cy="212.3" r="1.1"/><circle cx="210.5" cy="200.3" r="1.1"/><circle cx="202.1" cy="211.6" r="1.1"/><circle cx="178.1" cy="162.4" r="1.1"/><circle cx="121.2" cy="165.5" r="1.1"/><circle cx="107.4" cy="184.4" r="1.1"/><circle cx="114.6" cy="174.6" r="1.1"/><circle cx="109.2" cy="190.7" r="1.1"/><circle cx="137.5" cy="152.3" r="1.1"/><circle cx="113.1" cy="185.4" r="1.1"/><circle cx="185.2" cy="190.7" r="1.1"/><circle cx="181.4" cy="246.6" r="1.1"/><circle cx="164.7" cy="167.4" r="1.1"/><circle cx="325.2" cy="140.2" r="1.1"/><circle cx="236.4" cy="158.7" r="1.1"/><circle cx="230.5" cy="166.8" r="1.1"/><circle cx="160.8" cy="179.5" r="1.1"/><circle cx="246.9" cy="156.7" r="1.1"/><circle cx="248.8" cy="154.1" r="1.1"/><circle cx="187.6" cy="155.4" r="1.1"/><circle cx="172.5" cy="175.7" r="1.1"/><circle cx="204.3" cy="249.1" r="1.1"/><circle cx="230.1" cy="214.0" r="1.1"/><circle cx="255.6" cy="162.4" r="1.1"/><circle cx="214.5" cy="186.4" r="1.1"/><circle cx="202.5" cy="202.8" r="1.1"/><circle cx="208.0" cy="195.3" r="1.1"/><circle cx="264.0" cy="178.3" r="1.1"/><circle cx="274.7" cy="164.0" r="1.1"/><circle cx="280.9" cy="155.6" r="1.1"/><circle cx="177.9" cy="217.1" r="1.1"/><circle cx="243.2" cy="166.6" r="1.1"/><circle cx="180.3" cy="160.2" r="1.1"/><circle cx="178.6" cy="162.5" r="1.1"/><circle cx="302.0" cy="158.4" r="1.1"/><circle cx="301.4" cy="159.3" r="1.1"/><circle cx="206.8" cy="209.7" r="1.1"/><circle cx="125.5" cy="235.2" r="1.1"/><circle cx="137.4" cy="245.9" r="1.1"/><circle cx="166.1" cy="203.5" r="1.1"/><circle cx="161.1" cy="210.2" r="1.1"/><circle cx="208.0" cy="136.1" r="1.1"/><circle cx="197.7" cy="150.0" r="1.1"/><circle cx="131.1" cy="230.1" r="1.1"/><circle cx="131.4" cy="229.9" r="1.1"/><circle cx="149.9" cy="222.7" r="1.1"/><circle cx="142.9" cy="182.5" r="1.1"/><circle cx="130.9" cy="198.9" r="1.1"/><circle cx="191.9" cy="234.2" r="1.1"/><circle cx="187.9" cy="239.7" r="1.1"/><circle cx="123.1" cy="210.4" r="1.1"/><circle cx="187.4" cy="154.1" r="1.1"/><circle cx="139.6" cy="216.5" r="1.1"/><circle cx="134.2" cy="223.8" r="1.1"/><circle cx="204.7" cy="173.6" r="1.1"/><circle cx="185.5" cy="199.5" r="1.1"/><circle cx="199.0" cy="181.3" r="1.1"/><circle cx="223.6" cy="171.3" r="1.1"/><circle cx="210.3" cy="189.2" r="1.1"/><circle cx="225.1" cy="169.2" r="1.1"/><circle cx="144.1" cy="183.9" r="1.1"/><circle cx="151.4" cy="174.1" r="1.1"/><circle cx="229.1" cy="158.4" r="1.1"/><circle cx="220.4" cy="170.2" r="1.1"/><circle cx="260.9" cy="228.4" r="1.1"/><circle cx="261.8" cy="227.0" r="1.1"/><circle cx="279.1" cy="203.6" r="1.1"/><circle cx="128.5" cy="187.4" r="1.1"/><circle cx="135.3" cy="178.4" r="1.1"/><circle cx="120.1" cy="199.0" r="1.1"/><circle cx="258.5" cy="218.7" r="1.1"/><circle cx="245.4" cy="224.0" r="1.1"/><circle cx="199.3" cy="189.9" r="1.1"/><circle cx="331.4" cy="161.7" r="1.1"/><circle cx="220.7" cy="216.8" r="1.1"/><circle cx="216.1" cy="163.4" r="1.1"/><circle cx="222.8" cy="146.0" r="1.1"/><circle cx="137.2" cy="210.8" r="1.1"/><circle cx="245.4" cy="190.4" r="1.1"/><circle cx="245.4" cy="190.4" r="1.1"/><circle cx="228.0" cy="214.0" r="1.1"/><circle cx="222.6" cy="215.9" r="1.1"/><circle cx="213.1" cy="228.8" r="1.1"/><circle cx="223.5" cy="214.8" r="1.1"/><circle cx="167.3" cy="238.6" r="1.1"/><circle cx="174.6" cy="228.5" r="1.1"/><circle cx="258.4" cy="182.2" r="1.1"/><circle cx="245.4" cy="199.7" r="1.1"/><circle cx="246.8" cy="161.5" r="1.1"/><circle cx="260.6" cy="142.7" r="1.1"/><circle cx="177.8" cy="200.0" r="1.1"/><circle cx="206.6" cy="174.5" r="1.1"/><circle cx="182.2" cy="207.6" r="1.1"/><circle cx="184.4" cy="193.3" r="1.1"/><circle cx="185.9" cy="191.2" r="1.1"/><circle cx="221.0" cy="160.2" r="1.1"/><circle cx="129.6" cy="177.0" r="1.1"/><circle cx="155.6" cy="175.8" r="1.1"/><circle cx="130.7" cy="209.7" r="1.1"/><circle cx="150.2" cy="231.1" r="1.1"/><circle cx="146.7" cy="235.6" r="1.1"/><circle cx="186.5" cy="169.5" r="1.1"/><circle cx="233.5" cy="189.0" r="1.1"/><circle cx="138.7" cy="215.8" r="1.1"/><circle cx="152.8" cy="196.7" r="1.1"/><circle cx="148.3" cy="196.9" r="1.1"/><circle cx="159.6" cy="181.5" r="1.1"/><circle cx="148.5" cy="196.5" r="1.1"/><circle cx="233.0" cy="147.5" r="1.1"/><circle cx="218.8" cy="166.7" r="1.1"/><circle cx="227.0" cy="151.9" r="1.1"/><circle cx="146.6" cy="211.1" r="1.1"/><circle cx="145.6" cy="212.4" r="1.1"/><circle cx="147.7" cy="216.2" r="1.1"/><circle cx="145.2" cy="219.6" r="1.1"/><circle cx="154.9" cy="206.4" r="1.1"/><circle cx="245.1" cy="170.6" r="1.1"/><circle cx="242.2" cy="174.4" r="1.1"/><circle cx="250.6" cy="214.1" r="1.1"/><circle cx="254.9" cy="208.3" r="1.1"/><circle cx="160.0" cy="209.1" r="1.1"/><circle cx="151.6" cy="220.6" r="1.1"/><circle cx="152.0" cy="177.7" r="1.1"/><circle cx="188.8" cy="166.5" r="1.1"/><circle cx="192.0" cy="170.8" r="1.1"/><circle cx="156.7" cy="180.4" r="1.1"/><circle cx="229.7" cy="146.2" r="1.1"/><circle cx="242.4" cy="128.9" r="1.1"/><circle cx="162.9" cy="228.6" r="1.1"/><circle cx="193.2" cy="169.6" r="1.1"/><circle cx="153.8" cy="179.2" r="1.1"/><circle cx="175.7" cy="149.6" r="1.1"/><circle cx="238.4" cy="174.4" r="1.1"/><circle cx="181.5" cy="198.9" r="1.1"/><circle cx="102.3" cy="195.0" r="1.1"/><circle cx="98.7" cy="200.0" r="1.1"/><circle cx="298.7" cy="163.2" r="1.1"/><circle cx="171.0" cy="209.2" r="1.1"/><circle cx="164.3" cy="218.4" r="1.1"/><circle cx="166.6" cy="215.2" r="1.1"/><circle cx="190.2" cy="217.6" r="1.1"/><circle cx="277.0" cy="187.6" r="1.1"/><circle cx="192.0" cy="150.6" r="1.1"/><circle cx="254.9" cy="146.3" r="1.1"/><circle cx="246.9" cy="157.2" r="1.1"/><circle cx="221.4" cy="186.4" r="1.1"/><circle cx="199.7" cy="215.7" r="1.1"/><circle cx="170.3" cy="160.0" r="1.1"/><circle cx="166.2" cy="165.7" r="1.1"/><circle cx="162.5" cy="170.7" r="1.1"/><circle cx="269.0" cy="137.2" r="1.1"/><circle cx="161.5" cy="216.2" r="1.1"/><circle cx="151.6" cy="229.6" r="1.1"/><circle cx="321.6" cy="149.7" r="1.1"/><circle cx="312.9" cy="168.9" r="1.1"/><circle cx="277.1" cy="151.2" r="1.1"/><circle cx="276.4" cy="152.0" r="1.1"/><circle cx="264.4" cy="168.3" r="1.1"/><circle cx="179.2" cy="170.0" r="1.1"/><circle cx="208.1" cy="197.2" r="1.1"/><circle cx="196.1" cy="213.5" r="1.1"/><circle cx="222.2" cy="172.4" r="1.1"/><circle cx="202.2" cy="199.4" r="1.1"/><circle cx="202.9" cy="198.5" r="1.1"/><circle cx="210.3" cy="181.3" r="1.1"/><circle cx="211.9" cy="179.2" r="1.1"/><circle cx="276.6" cy="161.7" r="1.1"/><circle cx="261.1" cy="182.7" r="1.1"/><circle cx="157.8" cy="190.4" r="1.1"/><circle cx="160.4" cy="186.8" r="1.1"/><circle cx="201.2" cy="143.3" r="1.1"/><circle cx="185.9" cy="164.0" r="1.1"/><circle cx="178.1" cy="174.6" r="1.1"/><circle cx="248.4" cy="149.1" r="1.1"/><circle cx="245.1" cy="153.7" r="1.1"/><circle cx="169.0" cy="178.8" r="1.1"/><circle cx="173.5" cy="172.8" r="1.1"/><circle cx="165.6" cy="164.8" r="1.1"/><circle cx="211.7" cy="176.9" r="1.1"/><circle cx="214.9" cy="172.6" r="1.1"/><circle cx="210.3" cy="178.7" r="1.1"/><circle cx="268.6" cy="247.4" r="1.1"/><circle cx="208.7" cy="167.4" r="1.1"/><circle cx="206.9" cy="169.9" r="1.1"/><circle cx="169.6" cy="185.6" r="1.1"/><circle cx="185.1" cy="182.5" r="1.1"/><circle cx="191.2" cy="174.3" r="1.1"/><circle cx="146.2" cy="191.8" r="1.1"/><circle cx="160.9" cy="176.7" r="1.1"/><circle cx="159.7" cy="178.3" r="1.1"/><circle cx="147.2" cy="195.3" r="1.1"/><circle cx="175.6" cy="164.6" r="1.1"/><circle cx="163.3" cy="151.7" r="1.1"/><circle cx="152.8" cy="165.8" r="1.1"/><circle cx="136.8" cy="243.3" r="1.1"/><circle cx="136.5" cy="243.8" r="1.1"/><circle cx="100.0" cy="197.5" r="1.1"/><circle cx="180.5" cy="237.4" r="1.1"/><circle cx="177.0" cy="242.3" r="1.1"/><circle cx="145.1" cy="164.0" r="1.1"/><circle cx="178.3" cy="217.2" r="1.1"/><circle cx="242.4" cy="184.1" r="1.1"/><circle cx="231.5" cy="227.7" r="1.1"/><circle cx="241.9" cy="213.4" r="1.1"/><circle cx="244.2" cy="210.5" r="1.1"/><circle cx="199.6" cy="209.0" r="1.1"/><circle cx="196.3" cy="188.7" r="1.1"/><circle cx="196.3" cy="188.8" r="1.1"/><circle cx="324.6" cy="182.0" r="1.1"/><circle cx="252.6" cy="121.0" r="1.1"/><circle cx="262.4" cy="139.4" r="1.1"/><circle cx="274.9" cy="122.3" r="1.1"/><circle cx="197.0" cy="186.2" r="1.1"/><circle cx="185.8" cy="201.6" r="1.1"/><circle cx="189.1" cy="196.9" r="1.1"/><circle cx="314.4" cy="147.5" r="1.1"/><circle cx="313.4" cy="148.8" r="1.1"/><circle cx="205.5" cy="209.8" r="1.1"/><circle cx="217.9" cy="193.0" r="1.1"/><circle cx="211.6" cy="201.6" r="1.1"/><circle cx="270.8" cy="136.6" r="1.1"/><circle cx="264.0" cy="145.8" r="1.1"/><circle cx="278.7" cy="125.9" r="1.1"/><circle cx="335.1" cy="140.8" r="1.1"/><circle cx="129.8" cy="175.3" r="1.1"/><circle cx="193.9" cy="171.3" r="1.1"/><circle cx="211.2" cy="147.9" r="1.1"/><circle cx="188.7" cy="181.8" r="1.1"/><circle cx="185.1" cy="186.6" r="1.1"/><circle cx="300.7" cy="181.4" r="1.1"/><circle cx="148.1" cy="183.4" r="1.1"/><circle cx="144.7" cy="188.0" r="1.1"/><circle cx="246.2" cy="176.0" r="1.1"/><circle cx="177.6" cy="172.9" r="1.1"/><circle cx="170.5" cy="182.6" r="1.1"/><circle cx="226.5" cy="194.2" r="1.1"/><circle cx="213.5" cy="194.2" r="1.1"/><circle cx="212.0" cy="196.2" r="1.1"/><circle cx="131.4" cy="232.2" r="1.1"/><circle cx="131.4" cy="232.2" r="1.1"/><circle cx="185.8" cy="151.6" r="1.1"/><circle cx="182.6" cy="155.9" r="1.1"/><circle cx="113.9" cy="219.2" r="1.1"/><circle cx="116.0" cy="216.4" r="1.1"/><circle cx="210.9" cy="206.5" r="1.1"/><circle cx="160.7" cy="183.7" r="1.1"/><circle cx="167.0" cy="175.1" r="1.1"/><circle cx="173.4" cy="166.5" r="1.1"/><circle cx="188.4" cy="200.4" r="1.1"/><circle cx="133.6" cy="183.3" r="1.1"/><circle cx="114.3" cy="209.6" r="1.1"/><circle cx="231.0" cy="183.6" r="1.1"/><circle cx="296.5" cy="180.9" r="1.1"/><circle cx="148.5" cy="125.8" r="1.1"/><circle cx="147.8" cy="126.8" r="1.1"/><circle cx="244.6" cy="173.3" r="1.1"/><circle cx="225.8" cy="198.8" r="1.1"/><circle cx="231.2" cy="191.5" r="1.1"/><circle cx="176.3" cy="216.2" r="1.1"/><circle cx="171.3" cy="223.0" r="1.1"/><circle cx="249.4" cy="195.6" r="1.1"/><circle cx="248.7" cy="196.6" r="1.1"/><circle cx="243.6" cy="175.5" r="1.1"/><circle cx="134.3" cy="218.0" r="1.1"/><circle cx="173.2" cy="203.6" r="1.1"/><circle cx="163.2" cy="217.1" r="1.1"/><circle cx="220.7" cy="159.3" r="1.1"/><circle cx="232.7" cy="143.1" r="1.1"/><circle cx="217.2" cy="164.0" r="1.1"/><circle cx="234.2" cy="188.9" r="1.1"/><circle cx="177.5" cy="137.8" r="1.1"/><circle cx="173.6" cy="143.2" r="1.1"/><circle cx="180.7" cy="133.7" r="1.1"/><circle cx="275.6" cy="233.0" r="1.1"/><circle cx="276.7" cy="231.5" r="1.1"/><circle cx="194.8" cy="204.0" r="1.1"/><circle cx="336.5" cy="190.6" r="1.1"/><circle cx="275.6" cy="156.7" r="1.1"/><circle cx="294.2" cy="131.5" r="1.1"/><circle cx="265.1" cy="121.6" r="1.1"/><circle cx="257.4" cy="166.1" r="1.1"/><circle cx="145.6" cy="211.8" r="1.1"/><circle cx="194.1" cy="182.0" r="1.1"/><circle cx="196.4" cy="178.7" r="1.1"/><circle cx="183.3" cy="196.6" r="1.1"/><circle cx="234.2" cy="182.2" r="1.1"/><circle cx="253.1" cy="156.7" r="1.1"/><circle cx="301.0" cy="159.2" r="1.1"/><circle cx="263.3" cy="145.9" r="1.1"/><circle cx="152.7" cy="208.4" r="1.1"/><circle cx="160.5" cy="197.7" r="1.1"/><circle cx="163.4" cy="193.9" r="1.1"/><circle cx="213.7" cy="172.9" r="1.1"/><circle cx="252.3" cy="215.0" r="1.1"/><circle cx="164.3" cy="193.9" r="1.1"/><circle cx="279.5" cy="155.8" r="1.1"/><circle cx="219.0" cy="174.3" r="1.1"/><circle cx="244.3" cy="148.0" r="1.1"/><circle cx="246.9" cy="144.6" r="1.1"/><circle cx="313.1" cy="197.5" r="1.1"/><circle cx="192.1" cy="199.1" r="1.1"/><circle cx="193.0" cy="197.9" r="1.1"/><circle cx="119.4" cy="197.1" r="1.1"/><circle cx="247.3" cy="182.3" r="1.1"/><circle cx="204.6" cy="244.7" r="1.1"/><circle cx="186.8" cy="172.0" r="1.1"/><circle cx="207.7" cy="186.1" r="1.1"/><circle cx="171.9" cy="215.6" r="1.1"/><circle cx="166.1" cy="223.5" r="1.1"/><circle cx="200.1" cy="233.4" r="1.1"/><circle cx="153.5" cy="214.8" r="1.1"/><circle cx="180.8" cy="228.0" r="1.1"/><circle cx="179.6" cy="229.9" r="1.1"/><circle cx="195.3" cy="208.4" r="1.1"/><circle cx="193.2" cy="185.0" r="1.1"/><circle cx="292.6" cy="131.7" r="1.1"/><circle cx="285.0" cy="142.0" r="1.1"/><circle cx="195.7" cy="140.4" r="1.1"/><circle cx="121.1" cy="197.9" r="1.1"/><circle cx="116.0" cy="204.9" r="1.1"/><circle cx="242.6" cy="186.3" r="1.1"/><circle cx="278.0" cy="157.1" r="1.1"/><circle cx="258.8" cy="203.7" r="1.1"/><circle cx="153.4" cy="215.0" r="1.1"/><circle cx="142.0" cy="230.3" r="1.1"/><circle cx="187.2" cy="199.7" r="1.1"/><circle cx="265.5" cy="151.3" r="1.1"/><circle cx="286.1" cy="123.3" r="1.1"/><circle cx="264.0" cy="136.5" r="1.1"/><circle cx="180.7" cy="217.4" r="1.1"/><circle cx="167.2" cy="231.5" r="1.1"/><circle cx="167.0" cy="206.0" r="1.1"/><circle cx="220.8" cy="189.5" r="1.1"/><circle cx="156.7" cy="177.2" r="1.1"/><circle cx="297.4" cy="124.2" r="1.1"/><circle cx="221.1" cy="172.1" r="1.1"/><circle cx="189.2" cy="226.0" r="1.1"/><circle cx="169.6" cy="202.1" r="1.1"/><circle cx="188.1" cy="177.1" r="1.1"/><circle cx="143.3" cy="146.5" r="1.1"/><circle cx="227.7" cy="191.3" r="1.1"/><circle cx="235.7" cy="151.3" r="1.1"/><circle cx="144.9" cy="188.3" r="1.1"/><circle cx="120.7" cy="223.1" r="1.1"/><circle cx="181.8" cy="206.5" r="1.1"/><circle cx="188.5" cy="197.3" r="1.1"/><circle cx="196.4" cy="224.1" r="1.1"/><circle cx="196.3" cy="224.3" r="1.1"/><circle cx="303.2" cy="153.4" r="1.1"/><circle cx="206.3" cy="175.5" r="1.1"/><circle cx="172.7" cy="207.7" r="1.1"/><circle cx="108.8" cy="211.4" r="1.1"/><circle cx="127.4" cy="217.0" r="1.1"/><circle cx="197.9" cy="195.3" r="1.1"/><circle cx="203.4" cy="187.8" r="1.1"/><circle cx="168.0" cy="241.8" r="1.1"/><circle cx="164.7" cy="246.4" r="1.1"/><circle cx="247.9" cy="140.0" r="1.1"/><circle cx="239.7" cy="150.9" r="1.1"/><circle cx="184.8" cy="219.1" r="1.1"/><circle cx="251.7" cy="210.1" r="1.1"/><circle cx="248.6" cy="214.4" r="1.1"/><circle cx="246.2" cy="217.5" r="1.1"/><circle cx="285.8" cy="162.4" r="1.1"/><circle cx="295.2" cy="149.6" r="1.1"/><circle cx="193.7" cy="198.6" r="1.1"/><circle cx="186.6" cy="191.3" r="1.1"/><circle cx="204.7" cy="224.0" r="1.1"/><circle cx="234.2" cy="199.7" r="1.1"/><circle cx="254.6" cy="171.9" r="1.1"/><circle cx="110.6" cy="188.8" r="1.1"/><circle cx="111.7" cy="187.2" r="1.1"/><circle cx="126.6" cy="210.8" r="1.1"/><circle cx="227.5" cy="146.3" r="1.1"/><circle cx="234.4" cy="137.0" r="1.1"/><circle cx="229.1" cy="144.2" r="1.1"/><circle cx="271.2" cy="190.7" r="1.1"/><circle cx="267.3" cy="196.0" r="1.1"/><circle cx="111.8" cy="185.1" r="1.1"/><circle cx="260.6" cy="160.3" r="1.1"/><circle cx="260.7" cy="160.1" r="1.1"/><circle cx="152.3" cy="206.9" r="1.1"/><circle cx="159.8" cy="196.8" r="1.1"/><circle cx="140.9" cy="208.9" r="1.1"/><circle cx="136.1" cy="215.4" r="1.1"/><circle cx="173.4" cy="181.6" r="1.1"/><circle cx="261.5" cy="203.3" r="1.1"/><circle cx="163.3" cy="169.0" r="1.1"/><circle cx="163.4" cy="168.9" r="1.1"/><circle cx="189.7" cy="151.3" r="1.1"/><circle cx="270.4" cy="159.5" r="1.1"/><circle cx="200.4" cy="194.0" r="1.1"/><circle cx="237.1" cy="160.3" r="1.1"/><circle cx="247.7" cy="181.5" r="1.1"/><circle cx="202.1" cy="203.2" r="1.1"/><circle cx="242.9" cy="159.1" r="1.1"/><circle cx="139.3" cy="208.8" r="1.1"/><circle cx="233.1" cy="168.1" r="1.1"/><circle cx="248.6" cy="147.2" r="1.1"/><circle cx="231.3" cy="170.6" r="1.1"/><circle cx="148.4" cy="194.4" r="1.1"/><circle cx="154.5" cy="186.1" r="1.1"/><circle cx="151.4" cy="190.4" r="1.1"/><circle cx="246.1" cy="143.7" r="1.1"/><circle cx="251.9" cy="135.8" r="1.1"/><circle cx="156.5" cy="212.2" r="1.1"/><circle cx="150.7" cy="219.9" r="1.1"/><circle cx="195.0" cy="196.4" r="1.1"/><circle cx="110.9" cy="205.2" r="1.1"/><circle cx="108.7" cy="208.1" r="1.1"/><circle cx="110.3" cy="205.9" r="1.1"/><circle cx="215.3" cy="168.0" r="1.1"/><circle cx="189.8" cy="173.1" r="1.1"/><circle cx="156.9" cy="207.2" r="1.1"/><circle cx="178.6" cy="177.8" r="1.1"/><circle cx="224.4" cy="150.4" r="1.1"/><circle cx="244.7" cy="193.4" r="1.1"/><circle cx="255.3" cy="179.0" r="1.1"/><circle cx="148.7" cy="241.8" r="1.1"/><circle cx="152.5" cy="236.5" r="1.1"/><circle cx="171.2" cy="199.9" r="1.1"/><circle cx="135.4" cy="204.7" r="1.1"/><circle cx="148.3" cy="187.3" r="1.1"/><circle cx="159.3" cy="174.0" r="1.1"/><circle cx="153.4" cy="182.1" r="1.1"/><circle cx="160.0" cy="173.0" r="1.1"/><circle cx="242.1" cy="168.5" r="1.1"/><circle cx="185.5" cy="195.5" r="1.1"/><circle cx="208.1" cy="180.2" r="1.1"/><circle cx="160.1" cy="218.3" r="1.1"/><circle cx="158.1" cy="221.3" r="1.1"/><circle cx="160.7" cy="217.7" r="1.1"/><circle cx="260.9" cy="194.0" r="1.1"/><circle cx="157.9" cy="216.5" r="1.1"/><circle cx="158.6" cy="215.5" r="1.1"/><circle cx="147.6" cy="248.9" r="1.1"/><circle cx="213.4" cy="155.4" r="1.1"/><circle cx="191.3" cy="185.3" r="1.1"/><circle cx="198.2" cy="175.9" r="1.1"/><circle cx="120.2" cy="197.0" r="1.1"/><circle cx="204.6" cy="156.2" r="1.1"/><circle cx="214.9" cy="142.1" r="1.1"/><circle cx="107.3" cy="197.2" r="1.1"/><circle cx="112.2" cy="190.4" r="1.1"/><circle cx="223.9" cy="128.3" r="1.1"/><circle cx="174.7" cy="154.0" r="1.1"/><circle cx="179.9" cy="147.1" r="1.1"/><circle cx="189.7" cy="133.9" r="1.1"/><circle cx="191.6" cy="188.0" r="1.1"/><circle cx="185.4" cy="196.3" r="1.1"/><circle cx="166.6" cy="173.4" r="1.1"/><circle cx="150.7" cy="194.8" r="1.1"/><circle cx="161.4" cy="180.5" r="1.1"/><circle cx="209.2" cy="161.1" r="1.1"/><circle cx="133.2" cy="197.8" r="1.1"/><circle cx="141.8" cy="186.1" r="1.1"/><circle cx="309.4" cy="166.8" r="1.1"/><circle cx="293.0" cy="189.1" r="1.1"/><circle cx="206.5" cy="208.5" r="1.1"/><circle cx="155.0" cy="219.3" r="1.1"/><circle cx="139.1" cy="240.8" r="1.1"/><circle cx="264.2" cy="121.0" r="1.1"/><circle cx="255.1" cy="133.3" r="1.1"/><circle cx="127.4" cy="199.3" r="1.1"/><circle cx="219.5" cy="167.8" r="1.1"/><circle cx="177.0" cy="209.4" r="1.1"/><circle cx="214.1" cy="195.6" r="1.1"/><circle cx="205.5" cy="207.2" r="1.1"/><circle cx="285.1" cy="204.3" r="1.1"/><circle cx="301.1" cy="182.6" r="1.1"/><circle cx="263.9" cy="158.2" r="1.1"/><circle cx="274.8" cy="143.4" r="1.1"/><circle cx="147.0" cy="241.2" r="1.1"/><circle cx="191.2" cy="184.2" r="1.1"/><circle cx="189.2" cy="186.9" r="1.1"/><circle cx="198.6" cy="148.2" r="1.1"/><circle cx="194.9" cy="153.2" r="1.1"/><circle cx="179.6" cy="158.6" r="1.1"/><circle cx="162.3" cy="182.1" r="1.1"/><circle cx="201.4" cy="201.4" r="1.1"/><circle cx="169.4" cy="166.9" r="1.1"/><circle cx="148.5" cy="195.0" r="1.1"/><circle cx="153.6" cy="188.0" r="1.1"/><circle cx="117.8" cy="224.3" r="1.1"/><circle cx="207.3" cy="154.5" r="1.1"/><circle cx="211.6" cy="148.8" r="1.1"/><circle cx="149.5" cy="166.7" r="1.1"/><circle cx="148.8" cy="167.7" r="1.1"/><circle cx="168.5" cy="190.2" r="1.1"/><circle cx="279.5" cy="218.6" r="1.1"/><circle cx="154.7" cy="192.1" r="1.1"/><circle cx="167.6" cy="174.6" r="1.1"/><circle cx="169.5" cy="202.3" r="1.1"/><circle cx="164.3" cy="209.4" r="1.1"/><circle cx="174.6" cy="195.4" r="1.1"/><circle cx="136.0" cy="217.4" r="1.1"/><circle cx="191.0" cy="221.1" r="1.1"/><circle cx="218.9" cy="226.7" r="1.1"/><circle cx="232.2" cy="208.8" r="1.1"/><circle cx="212.3" cy="172.4" r="1.1"/><circle cx="214.9" cy="168.8" r="1.1"/><circle cx="165.1" cy="210.2" r="1.1"/><circle cx="152.1" cy="227.7" r="1.1"/><circle cx="171.4" cy="207.9" r="1.1"/><circle cx="252.8" cy="156.3" r="1.1"/><circle cx="158.5" cy="201.9" r="1.1"/><circle cx="149.4" cy="214.3" r="1.1"/><circle cx="152.5" cy="210.0" r="1.1"/><circle cx="183.7" cy="144.6" r="1.1"/><circle cx="312.6" cy="169.4" r="1.1"/><circle cx="318.8" cy="143.6" r="1.1"/><circle cx="238.1" cy="213.4" r="1.1"/><circle cx="251.1" cy="195.8" r="1.1"/><circle cx="248.7" cy="199.0" r="1.1"/><circle cx="190.9" cy="177.1" r="1.1"/><circle cx="220.8" cy="136.5" r="1.1"/><circle cx="191.6" cy="164.8" r="1.1"/><circle cx="176.5" cy="185.3" r="1.1"/><circle cx="124.1" cy="208.9" r="1.1"/><circle cx="131.8" cy="198.6" r="1.1"/><circle cx="177.1" cy="184.6" r="1.1"/><circle cx="168.8" cy="195.9" r="1.1"/><circle cx="187.2" cy="171.0" r="1.1"/><circle cx="154.5" cy="183.7" r="1.1"/><circle cx="165.8" cy="181.7" r="1.1"/><circle cx="138.3" cy="226.2" r="1.1"/><circle cx="139.4" cy="224.7" r="1.1"/><circle cx="227.3" cy="219.0" r="1.1"/><circle cx="206.6" cy="247.1" r="1.1"/><circle cx="227.5" cy="205.7" r="1.1"/><circle cx="254.6" cy="152.5" r="1.1"/><circle cx="269.5" cy="132.2" r="1.1"/><circle cx="265.3" cy="138.1" r="1.1"/><circle cx="203.3" cy="172.1" r="1.1"/><circle cx="261.8" cy="170.8" r="1.1"/><circle cx="265.7" cy="165.5" r="1.1"/><circle cx="266.9" cy="163.8" r="1.1"/><circle cx="262.4" cy="170.7" r="1.1"/><circle cx="263.5" cy="169.1" r="1.1"/><circle cx="126.3" cy="163.7" r="1.1"/><circle cx="268.7" cy="124.2" r="1.1"/><circle cx="150.5" cy="196.1" r="1.1"/><circle cx="250.9" cy="139.8" r="1.1"/><circle cx="234.9" cy="166.6" r="1.1"/><circle cx="237.4" cy="163.4" r="1.1"/><circle cx="239.7" cy="160.1" r="1.1"/><circle cx="204.0" cy="169.1" r="1.1"/><circle cx="195.6" cy="180.5" r="1.1"/><circle cx="204.4" cy="168.5" r="1.1"/><circle cx="264.3" cy="129.7" r="1.1"/><circle cx="259.5" cy="136.2" r="1.1"/><circle cx="150.6" cy="238.8" r="1.1"/><circle cx="177.0" cy="203.1" r="1.1"/><circle cx="134.2" cy="222.8" r="1.1"/><circle cx="162.6" cy="236.2" r="1.1"/><circle cx="177.5" cy="216.1" r="1.1"/><circle cx="199.3" cy="200.2" r="1.1"/><circle cx="156.1" cy="212.7" r="1.1"/><circle cx="151.2" cy="219.5" r="1.1"/><circle cx="159.6" cy="208.1" r="1.1"/><circle cx="153.4" cy="163.9" r="1.1"/><circle cx="149.1" cy="169.7" r="1.1"/><circle cx="158.5" cy="156.9" r="1.1"/><circle cx="112.2" cy="202.9" r="1.1"/><circle cx="117.5" cy="195.8" r="1.1"/><circle cx="116.4" cy="197.3" r="1.1"/><circle cx="193.0" cy="186.5" r="1.1"/><circle cx="185.8" cy="196.1" r="1.1"/><circle cx="250.2" cy="186.7" r="1.1"/><circle cx="176.3" cy="168.4" r="1.1"/><circle cx="155.8" cy="196.2" r="1.1"/><circle cx="113.8" cy="210.8" r="1.1"/><circle cx="137.5" cy="246.4" r="1.1"/><circle cx="258.4" cy="179.2" r="1.1"/><circle cx="269.4" cy="164.3" r="1.1"/><circle cx="272.3" cy="160.2" r="1.1"/><circle cx="198.1" cy="191.8" r="1.1"/><circle cx="193.5" cy="198.0" r="1.1"/><circle cx="125.3" cy="212.9" r="1.1"/><circle cx="118.2" cy="222.5" r="1.1"/><circle cx="252.2" cy="147.9" r="1.1"/><circle cx="320.0" cy="180.2" r="1.1"/><circle cx="224.7" cy="195.9" r="1.1"/><circle cx="235.5" cy="181.3" r="1.1"/><circle cx="213.0" cy="211.8" r="1.1"/><circle cx="274.2" cy="174.5" r="1.1"/><circle cx="273.8" cy="175.2" r="1.1"/><circle cx="189.9" cy="207.6" r="1.1"/><circle cx="162.5" cy="214.3" r="1.1"/><circle cx="153.8" cy="206.4" r="1.1"/><circle cx="224.1" cy="195.0" r="1.1"/><circle cx="213.1" cy="210.1" r="1.1"/><circle cx="107.1" cy="197.1" r="1.1"/><circle cx="120.5" cy="219.0" r="1.1"/><circle cx="171.3" cy="148.8" r="1.1"/><circle cx="258.4" cy="143.4" r="1.1"/><circle cx="277.7" cy="117.1" r="1.1"/><circle cx="262.9" cy="155.9" r="1.1"/><circle cx="271.5" cy="144.2" r="1.1"/><circle cx="300.6" cy="199.0" r="1.1"/><circle cx="147.3" cy="166.9" r="1.1"/><circle cx="154.6" cy="156.8" r="1.1"/><circle cx="226.6" cy="195.7" r="1.1"/><circle cx="145.9" cy="165.7" r="1.1"/><circle cx="145.1" cy="238.4" r="1.1"/><circle cx="144.4" cy="239.4" r="1.1"/><circle cx="142.2" cy="242.3" r="1.1"/><circle cx="165.1" cy="178.6" r="1.1"/><circle cx="172.3" cy="168.7" r="1.1"/><circle cx="171.3" cy="170.0" r="1.1"/><circle cx="181.9" cy="193.5" r="1.1"/><circle cx="177.8" cy="199.3" r="1.1"/><circle cx="170.2" cy="209.9" r="1.1"/><circle cx="165.0" cy="216.9" r="1.1"/><circle cx="226.2" cy="189.0" r="1.1"/><circle cx="231.0" cy="182.4" r="1.1"/><circle cx="213.1" cy="184.1" r="1.1"/><circle cx="229.7" cy="161.5" r="1.1"/><circle cx="279.3" cy="199.2" r="1.1"/><circle cx="286.5" cy="189.6" r="1.1"/><circle cx="279.1" cy="199.7" r="1.1"/><circle cx="171.7" cy="221.5" r="1.1"/><circle cx="109.3" cy="213.3" r="1.1"/><circle cx="259.7" cy="153.8" r="1.1"/><circle cx="277.5" cy="129.5" r="1.1"/><circle cx="205.0" cy="173.1" r="1.1"/><circle cx="203.0" cy="175.7" r="1.1"/><circle cx="134.6" cy="207.4" r="1.1"/><circle cx="147.7" cy="176.2" r="1.1"/><circle cx="124.4" cy="207.9" r="1.1"/><circle cx="271.8" cy="146.7" r="1.1"/><circle cx="259.2" cy="148.5" r="1.1"/><circle cx="251.1" cy="159.5" r="1.1"/><circle cx="149.2" cy="185.7" r="1.1"/><circle cx="138.5" cy="200.5" r="1.1"/><circle cx="229.0" cy="164.9" r="1.1"/><circle cx="245.1" cy="143.0" r="1.1"/><circle cx="208.3" cy="165.5" r="1.1"/><circle cx="213.8" cy="158.1" r="1.1"/><circle cx="158.5" cy="173.8" r="1.1"/><circle cx="144.9" cy="192.2" r="1.1"/><circle cx="275.1" cy="146.9" r="1.1"/><circle cx="136.9" cy="181.1" r="1.1"/><circle cx="178.9" cy="193.6" r="1.1"/><circle cx="235.5" cy="155.1" r="1.1"/><circle cx="247.3" cy="139.1" r="1.1"/><circle cx="235.3" cy="155.3" r="1.1"/><circle cx="171.9" cy="176.0" r="1.1"/><circle cx="173.4" cy="182.0" r="1.1"/><circle cx="271.9" cy="205.0" r="1.1"/><circle cx="287.3" cy="184.0" r="1.1"/><circle cx="186.2" cy="187.3" r="1.1"/><circle cx="189.7" cy="182.6" r="1.1"/><circle cx="198.9" cy="143.3" r="1.1"/><circle cx="193.0" cy="151.2" r="1.1"/><circle cx="148.5" cy="221.9" r="1.1"/><circle cx="149.5" cy="220.4" r="1.1"/><circle cx="165.5" cy="199.5" r="1.1"/><circle cx="163.3" cy="202.5" r="1.1"/><circle cx="194.6" cy="224.9" r="1.1"/><circle cx="197.4" cy="221.2" r="1.1"/><circle cx="201.9" cy="215.1" r="1.1"/><circle cx="187.0" cy="206.7" r="1.1"/><circle cx="156.1" cy="248.6" r="1.1"/><circle cx="156.7" cy="164.4" r="1.1"/><circle cx="162.6" cy="156.5" r="1.1"/><circle cx="221.9" cy="182.8" r="1.1"/><circle cx="267.1" cy="148.8" r="1.1"/><circle cx="288.2" cy="165.6" r="1.1"/><circle cx="280.0" cy="176.8" r="1.1"/><circle cx="209.5" cy="198.7" r="1.1"/><circle cx="207.7" cy="201.2" r="1.1"/><circle cx="180.1" cy="145.7" r="1.1"/><circle cx="178.3" cy="148.2" r="1.1"/><circle cx="120.2" cy="188.0" r="1.1"/><circle cx="206.6" cy="187.9" r="1.1"/><circle cx="188.8" cy="212.2" r="1.1"/><circle cx="210.8" cy="182.3" r="1.1"/><circle cx="200.0" cy="153.4" r="1.1"/><circle cx="119.4" cy="205.3" r="1.1"/><circle cx="113.8" cy="212.9" r="1.1"/><circle cx="255.3" cy="147.5" r="1.1"/><circle cx="302.0" cy="161.1" r="1.1"/><circle cx="276.3" cy="196.1" r="1.1"/><circle cx="295.6" cy="169.9" r="1.1"/><circle cx="236.3" cy="119.6" r="1.1"/><circle cx="252.8" cy="164.8" r="1.1"/><circle cx="152.4" cy="163.1" r="1.1"/><circle cx="156.7" cy="157.4" r="1.1"/><circle cx="323.2" cy="151.7" r="1.1"/><circle cx="324.6" cy="149.8" r="1.1"/><circle cx="279.3" cy="215.2" r="1.1"/><circle cx="282.7" cy="210.8" r="1.1"/><circle cx="233.0" cy="183.1" r="1.1"/><circle cx="226.2" cy="192.1" r="1.1"/><circle cx="121.9" cy="213.3" r="1.1"/><circle cx="229.7" cy="192.0" r="1.1"/><circle cx="229.1" cy="192.9" r="1.1"/><circle cx="300.6" cy="132.7" r="1.1"/><circle cx="294.8" cy="140.6" r="1.1"/><circle cx="293.0" cy="143.0" r="1.1"/><circle cx="133.4" cy="236.7" r="1.1"/><circle cx="226.4" cy="213.4" r="1.1"/><circle cx="241.7" cy="192.5" r="1.1"/><circle cx="221.5" cy="219.9" r="1.1"/><circle cx="127.7" cy="205.5" r="1.1"/><circle cx="205.8" cy="164.9" r="1.1"/><circle cx="193.5" cy="206.0" r="1.1"/><circle cx="187.2" cy="178.7" r="1.1"/><circle cx="192.1" cy="171.8" r="1.1"/><circle cx="205.1" cy="194.8" r="1.1"/><circle cx="226.8" cy="187.5" r="1.1"/><circle cx="181.6" cy="187.0" r="1.1"/><circle cx="280.2" cy="132.9" r="1.1"/><circle cx="271.8" cy="144.2" r="1.1"/><circle cx="145.9" cy="161.6" r="1.1"/><circle cx="224.1" cy="169.5" r="1.1"/><circle cx="230.9" cy="160.1" r="1.1"/><circle cx="238.9" cy="149.4" r="1.1"/><circle cx="145.4" cy="228.6" r="1.1"/><circle cx="150.6" cy="221.5" r="1.1"/><circle cx="251.6" cy="164.8" r="1.1"/><circle cx="223.2" cy="169.1" r="1.1"/><circle cx="205.8" cy="192.6" r="1.1"/><circle cx="223.3" cy="168.8" r="1.1"/><circle cx="153.9" cy="181.6" r="1.1"/><circle cx="148.4" cy="189.1" r="1.1"/><circle cx="133.6" cy="196.6" r="1.1"/><circle cx="138.9" cy="189.4" r="1.1"/><circle cx="206.3" cy="164.9" r="1.1"/><circle cx="229.5" cy="133.5" r="1.1"/><circle cx="142.2" cy="203.1" r="1.1"/><circle cx="227.0" cy="185.0" r="1.1"/><circle cx="185.5" cy="170.5" r="1.1"/><circle cx="125.3" cy="224.4" r="1.1"/><circle cx="132.2" cy="215.0" r="1.1"/><circle cx="253.1" cy="152.6" r="1.1"/><circle cx="256.7" cy="147.8" r="1.1"/><circle cx="282.1" cy="122.2" r="1.1"/><circle cx="280.6" cy="124.4" r="1.1"/><circle cx="119.0" cy="167.1" r="1.1"/><circle cx="120.5" cy="165.2" r="1.1"/><circle cx="114.0" cy="174.0" r="1.1"/><circle cx="231.3" cy="198.0" r="1.1"/><circle cx="235.7" cy="191.9" r="1.1"/><circle cx="232.2" cy="196.8" r="1.1"/><circle cx="290.4" cy="164.3" r="1.1"/><circle cx="303.5" cy="139.2" r="1.1"/><circle cx="321.2" cy="134.6" r="1.1"/><circle cx="309.1" cy="150.8" r="1.1"/><circle cx="175.4" cy="146.5" r="1.1"/><circle cx="282.0" cy="220.6" r="1.1"/><circle cx="288.6" cy="211.5" r="1.1"/><circle cx="192.4" cy="189.1" r="1.1"/><circle cx="207.9" cy="248.8" r="1.1"/><circle cx="134.6" cy="224.8" r="1.1"/><circle cx="139.7" cy="217.9" r="1.1"/><circle cx="147.3" cy="207.5" r="1.1"/><circle cx="185.5" cy="207.5" r="1.1"/><circle cx="245.5" cy="186.6" r="1.1"/><circle cx="248.6" cy="182.4" r="1.1"/><circle cx="246.9" cy="184.6" r="1.1"/><circle cx="172.7" cy="163.7" r="1.1"/><circle cx="176.1" cy="158.9" r="1.1"/><circle cx="257.5" cy="209.7" r="1.1"/><circle cx="258.6" cy="208.2" r="1.1"/><circle cx="134.2" cy="159.8" r="1.1"/><circle cx="139.4" cy="152.8" r="1.1"/><circle cx="263.6" cy="194.8" r="1.1"/><circle cx="255.5" cy="205.9" r="1.1"/><circle cx="259.7" cy="200.2" r="1.1"/><circle cx="193.9" cy="251.8" r="1.1"/><circle cx="196.4" cy="242.4" r="1.1"/><circle cx="219.0" cy="211.7" r="1.1"/><circle cx="176.5" cy="167.8" r="1.1"/><circle cx="140.9" cy="207.0" r="1.1"/><circle cx="132.7" cy="218.2" r="1.1"/><circle cx="127.4" cy="214.1" r="1.1"/><circle cx="133.1" cy="209.0" r="1.1"/><circle cx="130.6" cy="212.3" r="1.1"/><circle cx="123.6" cy="221.8" r="1.1"/><circle cx="263.9" cy="197.4" r="1.1"/><circle cx="265.8" cy="194.8" r="1.1"/><circle cx="265.4" cy="195.3" r="1.1"/><circle cx="150.0" cy="223.8" r="1.1"/><circle cx="253.3" cy="175.6" r="1.1"/><circle cx="246.4" cy="185.1" r="1.1"/><circle cx="177.5" cy="209.1" r="1.1"/><circle cx="163.2" cy="228.5" r="1.1"/><circle cx="296.7" cy="150.4" r="1.1"/><circle cx="306.4" cy="137.4" r="1.1"/><circle cx="234.8" cy="162.7" r="1.1"/><circle cx="243.9" cy="150.4" r="1.1"/><circle cx="98.4" cy="194.4" r="1.1"/><circle cx="266.6" cy="152.4" r="1.1"/><circle cx="105.9" cy="182.4" r="1.1"/><circle cx="142.9" cy="198.9" r="1.1"/><circle cx="236.4" cy="148.5" r="1.1"/><circle cx="135.4" cy="243.0" r="1.1"/><circle cx="252.8" cy="163.8" r="1.1"/><circle cx="307.8" cy="188.8" r="1.1"/><circle cx="223.6" cy="156.1" r="1.1"/><circle cx="222.4" cy="221.1" r="1.1"/><circle cx="236.8" cy="201.3" r="1.1"/><circle cx="219.9" cy="224.5" r="1.1"/><circle cx="249.7" cy="161.2" r="1.1"/><circle cx="147.6" cy="192.3" r="1.1"/><circle cx="183.3" cy="186.0" r="1.1"/><circle cx="246.6" cy="182.7" r="1.1"/><circle cx="252.0" cy="175.3" r="1.1"/><circle cx="250.5" cy="177.4" r="1.1"/><circle cx="266.1" cy="136.7" r="1.1"/><circle cx="250.6" cy="192.9" r="1.1"/><circle cx="272.9" cy="156.3" r="1.1"/><circle cx="135.6" cy="202.4" r="1.1"/><circle cx="116.8" cy="204.0" r="1.1"/><circle cx="124.9" cy="193.0" r="1.1"/><circle cx="207.7" cy="165.9" r="1.1"/><circle cx="202.8" cy="172.8" r="1.1"/><circle cx="205.7" cy="168.8" r="1.1"/><circle cx="158.6" cy="175.8" r="1.1"/><circle cx="312.0" cy="178.9" r="1.1"/><circle cx="180.8" cy="218.2" r="1.1"/><circle cx="200.7" cy="191.3" r="1.1"/><circle cx="176.4" cy="172.6" r="1.1"/><circle cx="185.5" cy="160.1" r="1.1"/><circle cx="180.3" cy="167.3" r="1.1"/><circle cx="247.3" cy="156.5" r="1.1"/><circle cx="249.7" cy="153.2" r="1.1"/><circle cx="187.7" cy="209.8" r="1.1"/><circle cx="178.1" cy="222.9" r="1.1"/><circle cx="167.0" cy="204.1" r="1.1"/><circle cx="190.6" cy="172.1" r="1.1"/><circle cx="89.5" cy="193.6" r="1.1"/><circle cx="88.5" cy="193.0" r="1.1"/><circle cx="89.4" cy="193.6" r="1.1"/><circle cx="89.5" cy="193.5" r="1.1"/><circle cx="95.4" cy="200.7" r="1.1"/><circle cx="94.9" cy="200.7" r="1.1"/><circle cx="94.2" cy="199.8" r="1.1"/><circle cx="93.3" cy="199.1" r="1.1"/><circle cx="94.8" cy="200.7" r="1.1"/><circle cx="98.6" cy="205.0" r="1.1"/><circle cx="98.7" cy="205.4" r="1.1"/><circle cx="98.4" cy="205.6" r="1.1"/><circle cx="98.5" cy="205.5" r="1.1"/><circle cx="98.6" cy="205.0" r="1.1"/><circle cx="99.6" cy="207.5" r="1.1"/><circle cx="104.2" cy="212.8" r="1.1"/><circle cx="105.3" cy="214.0" r="1.1"/><circle cx="104.1" cy="212.9" r="1.1"/><circle cx="103.7" cy="212.3" r="1.1"/><circle cx="104.4" cy="212.9" r="1.1"/><circle cx="104.6" cy="213.3" r="1.1"/><circle cx="108.5" cy="218.8" r="1.1"/><circle cx="107.7" cy="217.7" r="1.1"/><circle cx="108.2" cy="217.0" r="1.1"/><circle cx="108.1" cy="217.5" r="1.1"/><circle cx="107.1" cy="217.6" r="1.1"/><circle cx="109.1" cy="218.8" r="1.1"/><circle cx="107.6" cy="218.5" r="1.1"/><circle cx="114.4" cy="226.2" r="1.1"/><circle cx="113.9" cy="224.4" r="1.1"/><circle cx="113.6" cy="225.0" r="1.1"/><circle cx="111.9" cy="224.6" r="1.1"/><circle cx="112.0" cy="223.1" r="1.1"/><circle cx="112.3" cy="224.5" r="1.1"/><circle cx="117.8" cy="231.4" r="1.1"/><circle cx="116.1" cy="230.6" r="1.1"/><circle cx="119.1" cy="233.1" r="1.1"/><circle cx="117.4" cy="231.0" r="1.1"/><circle cx="116.8" cy="230.0" r="1.1"/><circle cx="117.8" cy="230.4" r="1.1"/><circle cx="118.5" cy="232.2" r="1.1"/><circle cx="122.7" cy="236.4" r="1.1"/><circle cx="122.1" cy="236.0" r="1.1"/><circle cx="124.1" cy="238.7" r="1.1"/><circle cx="123.5" cy="238.0" r="1.1"/><circle cx="121.7" cy="236.3" r="1.1"/><circle cx="122.1" cy="237.5" r="1.1"/><circle cx="127.4" cy="243.7" r="1.1"/><circle cx="127.8" cy="244.2" r="1.1"/><circle cx="128.8" cy="244.1" r="1.1"/><circle cx="127.0" cy="243.2" r="1.1"/><circle cx="245.5" cy="97.0" r="1.1"/><circle cx="266.8" cy="105.9" r="1.1"/><circle cx="284.0" cy="106.2" r="1.1"/><circle cx="292.9" cy="96.1" r="1.1"/><circle cx="298.5" cy="98.2" r="1.1"/><circle cx="306.8" cy="88.7" r="1.1"/><circle cx="312.6" cy="75.1" r="1.1"/><circle cx="294.5" cy="112.4" r="1.1"/><circle cx="303.1" cy="113.0" r="1.1"/><circle cx="181.5" cy="114.0" r="1.1"/><circle cx="225.5" cy="114.5" r="1.1"/><circle cx="325.6" cy="95.2" r="1.1"/><circle cx="329.8" cy="89.9" r="1.1"/><circle cx="327.6" cy="92.4" r="1.1"/><circle cx="351.6" cy="102.6" r="1.1"/><circle cx="367.7" cy="81.3" r="1.1"/><circle cx="368.3" cy="95.2" r="1.1"/><circle cx="368.3" cy="112.4" r="1.1"/><circle cx="388.9" cy="105.0" r="1.1"/><circle cx="415.1" cy="102.8" r="1.1"/><circle cx="430.4" cy="81.6" r="1.1"/><circle cx="303.1" cy="113.0" r="1.1"/><circle cx="403.7" cy="117.6" r="1.1"/><circle cx="426.7" cy="118.6" r="1.1"/><circle cx="340.9" cy="122.9" r="1.1"/><circle cx="361.6" cy="120.7" r="1.1"/><circle cx="376.9" cy="120.1" r="1.1"/><circle cx="344.1" cy="128.4" r="1.1"/><circle cx="354.4" cy="129.9" r="1.1"/><circle cx="356.9" cy="130.8" r="1.1"/><circle cx="378.4" cy="129.0" r="1.1"/><circle cx="383.7" cy="131.5" r="1.1"/><circle cx="396.4" cy="128.4" r="1.1"/><circle cx="352.3" cy="136.1" r="1.1"/><circle cx="364.6" cy="137.7" r="1.1"/><circle cx="343.1" cy="142.2" r="1.1"/><circle cx="350.1" cy="140.7" r="1.1"/><circle cx="353.9" cy="140.7" r="1.1"/><circle cx="397.6" cy="142.2" r="1.1"/><circle cx="348.3" cy="147.5" r="1.1"/><circle cx="360.6" cy="147.5" r="1.1"/><circle cx="370.8" cy="146.8" r="1.1"/><circle cx="392.9" cy="148.4" r="1.1"/><circle cx="349.2" cy="151.5" r="1.1"/><circle cx="376.9" cy="153.0" r="1.1"/><circle cx="390.8" cy="153.0" r="1.1"/><circle cx="344.1" cy="155.9" r="1.1"/><circle cx="377.6" cy="154.4" r="1.1"/><circle cx="410.7" cy="155.9" r="1.1"/><circle cx="432.4" cy="154.4" r="1.1"/><circle cx="428.4" cy="159.0" r="1.1"/><circle cx="390.8" cy="153.2" r="1.1"/><circle cx="360.6" cy="152.3" r="1.1"/><circle cx="340.9" cy="162.4" r="1.1"/><circle cx="360.1" cy="162.4" r="1.1"/><circle cx="370.8" cy="160.9" r="1.1"/><circle cx="383.1" cy="163.6" r="1.1"/><circle cx="403.7" cy="162.1" r="1.1"/><circle cx="337.8" cy="165.5" r="1.1"/><circle cx="362.4" cy="165.2" r="1.1"/><circle cx="369.2" cy="163.6" r="1.1"/><circle cx="381.6" cy="165.5" r="1.1"/><circle cx="385.6" cy="167.6" r="1.1"/><circle cx="349.2" cy="170.7" r="1.1"/><circle cx="358.4" cy="169.2" r="1.1"/><circle cx="343.1" cy="171.6" r="1.1"/><circle cx="403.9" cy="173.8" r="1.1"/><circle cx="339.1" cy="176.9" r="1.1"/><circle cx="344.1" cy="175.9" r="1.1"/><circle cx="379.1" cy="175.9" r="1.1"/><circle cx="393.2" cy="175.9" r="1.1"/><circle cx="366.1" cy="183.1" r="1.1"/><circle cx="369.2" cy="181.5" r="1.1"/><circle cx="372.3" cy="185.2" r="1.1"/><circle cx="376.3" cy="187.0" r="1.1"/><circle cx="394.8" cy="186.7" r="1.1"/><circle cx="383.1" cy="190.1" r="1.1"/><circle cx="341.6" cy="199.9" r="1.1"/><circle cx="379.9" cy="197.5" r="1.1"/><circle cx="377.9" cy="199.9" r="1.1"/><circle cx="376.9" cy="201.5" r="1.1"/><circle cx="385.2" cy="199.0" r="1.1"/><circle cx="137.5" cy="257.7" r="1.1"/><circle cx="139.4" cy="259.9" r="1.1"/><circle cx="141.5" cy="256.8" r="1.1"/><circle cx="146.2" cy="256.0" r="1.1"/><circle cx="149.2" cy="256.8" r="1.1"/><circle cx="157.5" cy="256.8" r="1.1"/><circle cx="150.7" cy="260.8" r="1.1"/><circle cx="146.2" cy="270.7" r="1.1"/><circle cx="152.9" cy="269.2" r="1.1"/><circle cx="155.4" cy="273.2" r="1.1"/><circle cx="158.5" cy="268.2" r="1.1"/><circle cx="157.9" cy="276.8" r="1.1"/><circle cx="154.5" cy="277.5" r="1.1"/><circle cx="167.0" cy="261.5" r="1.1"/><circle cx="168.3" cy="269.2" r="1.1"/><circle cx="172.3" cy="264.6" r="1.1"/><circle cx="175.4" cy="270.7" r="1.1"/><circle cx="170.2" cy="275.3" r="1.1"/><circle cx="173.8" cy="267.0" r="1.1"/><circle cx="183.7" cy="268.2" r="1.1"/><circle cx="187.7" cy="270.1" r="1.1"/><circle cx="189.2" cy="263.9" r="1.1"/><circle cx="183.0" cy="279.9" r="1.1"/><circle cx="192.3" cy="256.8" r="1.1"/><circle cx="195.4" cy="258.4" r="1.1"/><circle cx="201.5" cy="267.0" r="1.1"/><circle cx="202.5" cy="280.6" r="1.1"/><circle cx="204.6" cy="259.9" r="1.1"/><circle cx="207.0" cy="261.5" r="1.1"/><circle cx="218.5" cy="268.2" r="1.1"/><circle cx="218.5" cy="285.4" r="1.1"/><circle cx="224.6" cy="263.0" r="1.1"/><circle cx="226.8" cy="261.5" r="1.1"/><circle cx="231.7" cy="267.0" r="1.1"/><circle cx="233.8" cy="263.0" r="1.1"/><circle cx="227.7" cy="289.8" r="1.1"/><circle cx="228.3" cy="279.9" r="1.1"/><circle cx="241.5" cy="269.2" r="1.1"/><circle cx="247.7" cy="270.7" r="1.1"/><circle cx="234.8" cy="290.7" r="1.1"/><circle cx="237.8" cy="295.9" r="1.1"/><circle cx="259.3" cy="280.6" r="1.1"/><circle cx="277.5" cy="259.9" r="1.1"/><circle cx="270.1" cy="267.0" r="1.1"/><circle cx="265.3" cy="269.2" r="1.1"/><circle cx="265.3" cy="273.7" r="1.1"/><circle cx="260.0" cy="280.9" r="1.1"/><circle cx="241.5" cy="270.1" r="1.1"/><circle cx="247.7" cy="272.3" r="1.1"/><circle cx="326.1" cy="255.3" r="1.1"/><circle cx="286.8" cy="239.0" r="1.1"/><circle cx="287.8" cy="237.4" r="1.1"/><circle cx="311.4" cy="241.5" r="1.1"/><circle cx="345.6" cy="243.6" r="1.1"/><circle cx="261.8" cy="241.0" r="1.1"/><circle cx="260.7" cy="213.8" r="1.1"/><circle cx="211.6" cy="232.5" r="1.1"/><circle cx="195.6" cy="221.4" r="1.1"/><circle cx="251.6" cy="210.8" r="1.1"/><circle cx="263.3" cy="214.0" r="1.1"/><circle cx="225.3" cy="213.6" r="1.1"/><circle cx="203.9" cy="227.2" r="1.1"/><circle cx="252.8" cy="244.9" r="1.1"/><circle cx="175.6" cy="211.9" r="1.1"/><circle cx="187.2" cy="237.2" r="1.1"/><circle cx="249.4" cy="239.5" r="1.1"/><circle cx="230.1" cy="227.7" r="1.1"/><circle cx="180.5" cy="220.3" r="1.1"/><circle cx="169.6" cy="253.1" r="1.1"/><circle cx="251.6" cy="230.1" r="1.1"/><circle cx="229.7" cy="225.9" r="1.1"/><circle cx="244.4" cy="252.7" r="1.1"/><circle cx="230.8" cy="219.3" r="1.1"/><circle cx="227.2" cy="219.1" r="1.1"/><circle cx="220.1" cy="229.4" r="1.1"/><circle cx="200.6" cy="224.6" r="1.1"/><circle cx="258.9" cy="231.9" r="1.1"/><circle cx="245.7" cy="217.2" r="1.1"/><circle cx="186.3" cy="220.3" r="1.1"/><circle cx="162.7" cy="244.9" r="1.1"/><circle cx="228.4" cy="229.3" r="1.1"/><circle cx="200.4" cy="236.4" r="1.1"/><circle cx="226.9" cy="229.0" r="1.1"/><circle cx="276.2" cy="221.1" r="1.1"/><circle cx="231.5" cy="218.0" r="1.1"/><circle cx="225.1" cy="225.5" r="1.1"/><circle cx="249.5" cy="246.6" r="1.1"/><circle cx="192.1" cy="218.4" r="1.1"/><circle cx="168.0" cy="239.8" r="1.1"/><circle cx="240.8" cy="247.1" r="1.1"/><circle cx="213.1" cy="214.5" r="1.1"/><circle cx="176.7" cy="235.2" r="1.1"/><circle cx="226.8" cy="248.0" r="1.1"/><circle cx="203.2" cy="215.7" r="1.1"/><circle cx="207.3" cy="223.0" r="1.1"/><circle cx="269.0" cy="215.2" r="1.1"/><circle cx="198.3" cy="225.5" r="1.1"/><circle cx="173.9" cy="214.3" r="1.1"/><circle cx="266.8" cy="239.9" r="1.1"/><circle cx="206.1" cy="212.8" r="1.1"/><circle cx="217.5" cy="211.2" r="1.1"/><circle cx="274.8" cy="216.7" r="1.1"/><circle cx="255.9" cy="241.8" r="1.1"/><circle cx="195.4" cy="222.4" r="1.1"/><circle cx="250.5" cy="246.1" r="1.1"/><circle cx="252.7" cy="211.6" r="1.1"/><circle cx="240.7" cy="235.8" r="1.1"/><circle cx="196.8" cy="251.1" r="1.1"/><circle cx="222.8" cy="239.7" r="1.1"/>
</g>
<path d="M61.60 156.30H459.20" stroke="#000" stroke-width="1.7"/>
<path d="M61.60 179.23H459.20" stroke="#c8602e" stroke-width="1.6"/>
<path d="M62.20 105.48H459.20" stroke="#a84e35" stroke-width="1.7" stroke-dasharray="4.3 4.16"/>
<path d="M62.20 252.99H459.20" stroke="#a84e35" stroke-width="1.7" stroke-dasharray="4.3 4.16"/>
<g font-size="9.05" fill="#000" text-anchor="end">
<text x="501.8" y="95.68">Mean + 1.96 SD</text>
<text x="501.8" y="105.88">= 54.3</text>
<text x="501.8" y="168.93">Mean</text>
<text x="501.8" y="179.33">= – 24.5</text>
<text x="501.8" y="243.29">Mean – 1.96 SD</text>
<text x="501.8" y="253.69">= – 103.3</text>
</g>
</g>
<g>
<path d="M61.60 361.20V642.00H459.00" fill="none" stroke="#555" stroke-width="0.85"/>
<path d="M61.60 642.00v4.5M94.72 642.00v4.5M127.83 642.00v4.5M160.95 642.00v4.5M194.07 642.00v4.5M227.18 642.00v4.5M260.30 642.00v4.5M293.42 642.00v4.5M326.53 642.00v4.5M359.65 642.00v4.5M392.77 642.00v4.5M425.88 642.00v4.5M459.00 642.00v4.5M61.60 642.00h-4M61.60 618.60h-4M61.60 595.20h-4M61.60 571.80h-4M61.60 548.40h-4M61.60 525.00h-4M61.60 501.60h-4M61.60 478.20h-4M61.60 454.80h-4M61.60 431.40h-4M61.60 408.00h-4M61.60 384.60h-4M61.60 361.20h-4" fill="none" stroke="#555" stroke-width="0.85"/>
<g font-size="9" fill="#000">
<g text-anchor="middle">
<text x="61.60" y="656.20">0</text>
<text x="94.72" y="656.20">24</text>
<text x="127.83" y="656.20">48</text>
<text x="160.95" y="656.20">72</text>
<text x="194.07" y="656.20">96</text>
<text x="227.18" y="656.20">120</text>
<text x="260.30" y="656.20">144</text>
<text x="293.42" y="656.20">168</text>
<text x="326.53" y="656.20">192</text>
<text x="359.65" y="656.20">216</text>
<text x="392.77" y="656.20">240</text>
<text x="425.88" y="656.20">264</text>
<text x="459.00" y="656.20">288</text>
</g><g text-anchor="end">
<text x="53.5" y="644.90">–150</text>
<text x="53.5" y="621.50">–125</text>
<text x="53.5" y="598.10">–100</text>
<text x="53.5" y="574.70">–75</text>
<text x="53.5" y="551.30">–50</text>
<text x="53.5" y="527.90">–25</text>
<text x="53.5" y="504.50">0</text>
<text x="53.5" y="481.10">25</text>
<text x="53.5" y="457.70">50</text>
<text x="53.5" y="434.30">75</text>
<text x="53.5" y="410.90">100</text>
<text x="53.5" y="387.50">125</text>
<text x="53.5" y="364.10">150</text>
</g></g>
<text x="260.8" y="669.80" text-anchor="middle" font-size="9.2" fill="#000" textLength="107" lengthAdjust="spacingAndGlyphs">Mean TcB and TSB, µmol/L</text>
<text transform="translate(25.6 501.60) rotate(-90)" text-anchor="middle" font-size="9.2" fill="#000" textLength="132.5" lengthAdjust="spacingAndGlyphs">TcB minus TSB difference, µmol/L</text>
<text x="18" y="669.20" font-size="9.6" font-weight="bold" fill="#000" stroke="none">b</text>
<g fill="#000" fill-opacity="0.5" stroke="#000" stroke-opacity="0.85" stroke-width="0.75">
<circle cx="228.6" cy="400.2" r="1.1"/><circle cx="224.6" cy="405.8" r="1.1"/><circle cx="220.6" cy="411.0" r="1.1"/><circle cx="172.0" cy="450.7" r="1.1"/><circle cx="162.5" cy="461.2" r="1.1"/><circle cx="163.0" cy="460.2" r="1.1"/><circle cx="156.0" cy="472.6" r="1.1"/><circle cx="182.5" cy="468.2" r="1.1"/><circle cx="196.3" cy="465.8" r="1.1"/><circle cx="193.8" cy="469.5" r="1.1"/><circle cx="207.7" cy="458.1" r="1.1"/><circle cx="214.5" cy="462.1" r="1.1"/><circle cx="215.3" cy="465.8" r="1.1"/><circle cx="211.7" cy="467.3" r="1.1"/><circle cx="213.0" cy="471.0" r="1.1"/><circle cx="219.0" cy="463.3" r="1.1"/><circle cx="224.6" cy="455.6" r="1.1"/><circle cx="230.2" cy="463.3" r="1.1"/><circle cx="224.0" cy="471.3" r="1.1"/><circle cx="238.5" cy="448.8" r="1.1"/><circle cx="236.3" cy="454.4" r="1.1"/><circle cx="237.5" cy="467.3" r="1.1"/><circle cx="239.3" cy="465.2" r="1.1"/><circle cx="209.2" cy="474.1" r="1.1"/><circle cx="189.2" cy="474.4" r="1.1"/><circle cx="287.1" cy="399.6" r="1.1"/><circle cx="288.6" cy="398.1" r="1.1"/><circle cx="290.1" cy="396.6" r="1.1"/><circle cx="356.3" cy="416.0" r="1.1"/><circle cx="348.1" cy="427.0" r="1.1"/><circle cx="310.1" cy="436.8" r="1.1"/><circle cx="340.1" cy="437.8" r="1.1"/><circle cx="304.6" cy="444.5" r="1.1"/><circle cx="274.5" cy="444.2" r="1.1"/><circle cx="242.5" cy="444.9" r="1.1"/><circle cx="268.6" cy="450.7" r="1.1"/><circle cx="273.3" cy="453.5" r="1.1"/><circle cx="280.6" cy="456.6" r="1.1"/><circle cx="297.8" cy="453.5" r="1.1"/><circle cx="293.8" cy="457.4" r="1.1"/><circle cx="330.8" cy="450.7" r="1.1"/><circle cx="325.6" cy="451.9" r="1.1"/><circle cx="324.6" cy="454.1" r="1.1"/><circle cx="322.4" cy="456.6" r="1.1"/><circle cx="320.6" cy="459.6" r="1.1"/><circle cx="318.5" cy="461.7" r="1.1"/><circle cx="316.9" cy="464.3" r="1.1"/><circle cx="340.1" cy="455.0" r="1.1"/><circle cx="360.6" cy="454.7" r="1.1"/><circle cx="351.4" cy="456.6" r="1.1"/><circle cx="336.1" cy="460.2" r="1.1"/><circle cx="329.3" cy="464.3" r="1.1"/><circle cx="327.6" cy="466.4" r="1.1"/><circle cx="331.4" cy="466.7" r="1.1"/><circle cx="241.5" cy="457.4" r="1.1"/><circle cx="244.6" cy="460.2" r="1.1"/><circle cx="263.1" cy="458.7" r="1.1"/><circle cx="257.8" cy="465.8" r="1.1"/><circle cx="245.5" cy="467.3" r="1.1"/><circle cx="262.1" cy="468.2" r="1.1"/><circle cx="263.1" cy="471.0" r="1.1"/><circle cx="260.0" cy="471.9" r="1.1"/><circle cx="273.8" cy="465.2" r="1.1"/><circle cx="289.3" cy="465.2" r="1.1"/><circle cx="286.1" cy="468.8" r="1.1"/><circle cx="296.9" cy="470.4" r="1.1"/><circle cx="305.3" cy="469.5" r="1.1"/><circle cx="311.4" cy="471.9" r="1.1"/><circle cx="343.1" cy="468.8" r="1.1"/><circle cx="392.9" cy="467.3" r="1.1"/><circle cx="397.6" cy="460.5" r="1.1"/><circle cx="398.4" cy="472.6" r="1.1"/><circle cx="425.3" cy="436.2" r="1.1"/><circle cx="413.1" cy="443.5" r="1.1"/><circle cx="430.4" cy="453.5" r="1.1"/><circle cx="403.1" cy="453.5" r="1.1"/><circle cx="413.1" cy="476.1" r="1.1"/><circle cx="126.2" cy="494.1" r="1.1"/><circle cx="140.0" cy="494.1" r="1.1"/><circle cx="164.0" cy="493.5" r="1.1"/><circle cx="167.7" cy="486.7" r="1.1"/><circle cx="172.3" cy="485.1" r="1.1"/><circle cx="173.8" cy="480.3" r="1.1"/><circle cx="184.7" cy="480.3" r="1.1"/><circle cx="187.7" cy="478.7" r="1.1"/><circle cx="191.4" cy="476.5" r="1.1"/><circle cx="178.5" cy="492.0" r="1.1"/><circle cx="180.0" cy="495.9" r="1.1"/><circle cx="183.0" cy="497.1" r="1.1"/><circle cx="190.8" cy="495.9" r="1.1"/><circle cx="195.4" cy="491.0" r="1.1"/><circle cx="201.5" cy="493.5" r="1.1"/><circle cx="200.6" cy="497.1" r="1.1"/><circle cx="205.5" cy="488.9" r="1.1"/><circle cx="209.2" cy="487.3" r="1.1"/><circle cx="210.8" cy="492.0" r="1.1"/><circle cx="207.7" cy="495.9" r="1.1"/><circle cx="215.3" cy="489.8" r="1.1"/><circle cx="217.0" cy="493.5" r="1.1"/><circle cx="223.0" cy="484.2" r="1.1"/><circle cx="224.6" cy="482.7" r="1.1"/><circle cx="227.0" cy="484.2" r="1.1"/><circle cx="230.8" cy="490.4" r="1.1"/><circle cx="235.3" cy="487.3" r="1.1"/><circle cx="238.5" cy="492.0" r="1.1"/><circle cx="220.0" cy="497.1" r="1.1"/><circle cx="237.0" cy="497.1" r="1.1"/><circle cx="154.5" cy="504.9" r="1.1"/><circle cx="164.7" cy="507.3" r="1.1"/><circle cx="175.4" cy="503.3" r="1.1"/><circle cx="186.2" cy="503.3" r="1.1"/><circle cx="197.0" cy="505.8" r="1.1"/><circle cx="204.6" cy="503.3" r="1.1"/><circle cx="207.7" cy="505.8" r="1.1"/><circle cx="212.3" cy="505.8" r="1.1"/><circle cx="215.3" cy="504.9" r="1.1"/><circle cx="227.7" cy="503.3" r="1.1"/><circle cx="232.3" cy="504.9" r="1.1"/><circle cx="237.0" cy="504.9" r="1.1"/><circle cx="152.3" cy="512.6" r="1.1"/><circle cx="156.9" cy="514.4" r="1.1"/><circle cx="155.4" cy="516.6" r="1.1"/><circle cx="153.9" cy="518.7" r="1.1"/><circle cx="152.3" cy="521.2" r="1.1"/><circle cx="150.7" cy="523.6" r="1.1"/><circle cx="149.2" cy="525.7" r="1.1"/><circle cx="147.7" cy="528.8" r="1.1"/><circle cx="163.0" cy="515.6" r="1.1"/><circle cx="167.7" cy="514.4" r="1.1"/><circle cx="167.0" cy="517.4" r="1.1"/><circle cx="160.0" cy="523.3" r="1.1"/><circle cx="156.3" cy="527.3" r="1.1"/><circle cx="181.5" cy="519.6" r="1.1"/><circle cx="193.2" cy="521.2" r="1.1"/><circle cx="197.0" cy="523.6" r="1.1"/><circle cx="195.4" cy="517.4" r="1.1"/><circle cx="198.5" cy="513.5" r="1.1"/><circle cx="200.6" cy="511.9" r="1.1"/><circle cx="203.0" cy="511.0" r="1.1"/><circle cx="205.5" cy="509.7" r="1.1"/><circle cx="207.7" cy="508.8" r="1.1"/><circle cx="206.2" cy="520.5" r="1.1"/><circle cx="203.0" cy="524.3" r="1.1"/><circle cx="207.7" cy="525.7" r="1.1"/><circle cx="204.6" cy="528.8" r="1.1"/><circle cx="213.8" cy="521.2" r="1.1"/><circle cx="217.0" cy="524.3" r="1.1"/><circle cx="215.3" cy="527.9" r="1.1"/><circle cx="220.0" cy="530.4" r="1.1"/><circle cx="220.0" cy="511.9" r="1.1"/><circle cx="223.0" cy="513.5" r="1.1"/><circle cx="226.2" cy="516.6" r="1.1"/><circle cx="229.3" cy="518.7" r="1.1"/><circle cx="224.6" cy="521.2" r="1.1"/><circle cx="227.7" cy="523.6" r="1.1"/><circle cx="221.5" cy="520.5" r="1.1"/><circle cx="232.3" cy="525.7" r="1.1"/><circle cx="237.0" cy="521.2" r="1.1"/><circle cx="238.5" cy="531.9" r="1.1"/><circle cx="233.8" cy="531.0" r="1.1"/><circle cx="230.8" cy="536.5" r="1.1"/><circle cx="87.7" cy="521.2" r="1.1"/><circle cx="89.2" cy="519.0" r="1.1"/><circle cx="85.5" cy="524.3" r="1.1"/><circle cx="108.7" cy="517.4" r="1.1"/><circle cx="91.4" cy="541.2" r="1.1"/><circle cx="140.9" cy="522.7" r="1.1"/><circle cx="132.9" cy="539.0" r="1.1"/><circle cx="136.0" cy="546.3" r="1.1"/><circle cx="147.7" cy="538.1" r="1.1"/><circle cx="173.8" cy="536.5" r="1.1"/><circle cx="168.7" cy="539.6" r="1.1"/><circle cx="157.5" cy="543.3" r="1.1"/><circle cx="160.0" cy="548.9" r="1.1"/><circle cx="197.5" cy="542.7" r="1.1"/><circle cx="223.0" cy="553.5" r="1.1"/><circle cx="238.5" cy="544.2" r="1.1"/><circle cx="138.5" cy="553.5" r="1.1"/><circle cx="241.5" cy="479.6" r="1.1"/><circle cx="244.6" cy="476.5" r="1.1"/><circle cx="249.3" cy="480.5" r="1.1"/><circle cx="253.8" cy="478.1" r="1.1"/><circle cx="257.0" cy="482.7" r="1.1"/><circle cx="261.5" cy="479.6" r="1.1"/><circle cx="264.6" cy="484.2" r="1.1"/><circle cx="254.8" cy="485.8" r="1.1"/><circle cx="250.8" cy="488.9" r="1.1"/><circle cx="244.6" cy="485.8" r="1.1"/><circle cx="241.5" cy="492.0" r="1.1"/><circle cx="247.7" cy="493.5" r="1.1"/><circle cx="257.0" cy="492.0" r="1.1"/><circle cx="266.1" cy="494.1" r="1.1"/><circle cx="261.5" cy="488.9" r="1.1"/><circle cx="276.9" cy="480.5" r="1.1"/><circle cx="281.5" cy="484.2" r="1.1"/><circle cx="286.1" cy="479.6" r="1.1"/><circle cx="287.8" cy="483.6" r="1.1"/><circle cx="283.1" cy="492.0" r="1.1"/><circle cx="276.9" cy="492.0" r="1.1"/><circle cx="272.3" cy="496.5" r="1.1"/><circle cx="280.0" cy="496.5" r="1.1"/><circle cx="288.6" cy="495.0" r="1.1"/><circle cx="293.8" cy="493.5" r="1.1"/><circle cx="296.0" cy="481.8" r="1.1"/><circle cx="300.0" cy="485.8" r="1.1"/><circle cx="306.1" cy="487.3" r="1.1"/><circle cx="304.6" cy="492.0" r="1.1"/><circle cx="309.3" cy="482.7" r="1.1"/><circle cx="312.3" cy="479.6" r="1.1"/><circle cx="315.4" cy="478.1" r="1.1"/><circle cx="320.0" cy="485.8" r="1.1"/><circle cx="322.4" cy="484.2" r="1.1"/><circle cx="301.6" cy="495.0" r="1.1"/><circle cx="310.8" cy="495.9" r="1.1"/><circle cx="296.9" cy="496.5" r="1.1"/><circle cx="332.3" cy="481.8" r="1.1"/><circle cx="333.8" cy="490.4" r="1.1"/><circle cx="338.4" cy="476.5" r="1.1"/><circle cx="342.1" cy="480.5" r="1.1"/><circle cx="346.1" cy="488.9" r="1.1"/><circle cx="335.4" cy="495.0" r="1.1"/><circle cx="355.4" cy="484.2" r="1.1"/><circle cx="356.9" cy="482.7" r="1.1"/><circle cx="364.6" cy="489.8" r="1.1"/><circle cx="368.6" cy="491.0" r="1.1"/><circle cx="372.3" cy="485.8" r="1.1"/><circle cx="376.9" cy="479.6" r="1.1"/><circle cx="363.1" cy="498.0" r="1.1"/><circle cx="383.1" cy="498.0" r="1.1"/><circle cx="395.4" cy="481.8" r="1.1"/><circle cx="340.1" cy="498.0" r="1.1"/><circle cx="240.0" cy="505.8" r="1.1"/><circle cx="244.6" cy="507.3" r="1.1"/><circle cx="247.7" cy="504.2" r="1.1"/><circle cx="252.3" cy="505.8" r="1.1"/><circle cx="257.0" cy="508.8" r="1.1"/><circle cx="263.1" cy="505.8" r="1.1"/><circle cx="269.3" cy="504.2" r="1.1"/><circle cx="270.8" cy="507.3" r="1.1"/><circle cx="280.0" cy="505.8" r="1.1"/><circle cx="286.1" cy="504.2" r="1.1"/><circle cx="290.8" cy="505.8" r="1.1"/><circle cx="292.3" cy="508.2" r="1.1"/><circle cx="298.5" cy="511.3" r="1.1"/><circle cx="311.4" cy="510.4" r="1.1"/><circle cx="322.4" cy="505.8" r="1.1"/><circle cx="338.4" cy="508.2" r="1.1"/><circle cx="354.4" cy="503.3" r="1.1"/><circle cx="356.3" cy="508.8" r="1.1"/><circle cx="241.5" cy="513.5" r="1.1"/><circle cx="246.1" cy="511.9" r="1.1"/><circle cx="253.8" cy="513.5" r="1.1"/><circle cx="260.0" cy="515.0" r="1.1"/><circle cx="267.8" cy="511.9" r="1.1"/><circle cx="280.0" cy="510.4" r="1.1"/><circle cx="289.3" cy="513.5" r="1.1"/><circle cx="293.8" cy="515.0" r="1.1"/><circle cx="242.5" cy="519.6" r="1.1"/><circle cx="249.3" cy="518.1" r="1.1"/><circle cx="254.8" cy="521.2" r="1.1"/><circle cx="257.0" cy="523.6" r="1.1"/><circle cx="244.6" cy="525.7" r="1.1"/><circle cx="246.1" cy="527.9" r="1.1"/><circle cx="260.0" cy="527.3" r="1.1"/><circle cx="280.0" cy="522.7" r="1.1"/><circle cx="282.1" cy="521.7" r="1.1"/><circle cx="278.5" cy="525.7" r="1.1"/><circle cx="284.6" cy="524.3" r="1.1"/><circle cx="290.8" cy="521.2" r="1.1"/><circle cx="279.1" cy="529.8" r="1.1"/><circle cx="327.1" cy="524.8" r="1.1"/><circle cx="333.3" cy="531.0" r="1.1"/><circle cx="349.2" cy="518.1" r="1.1"/><circle cx="350.8" cy="516.6" r="1.1"/><circle cx="359.4" cy="516.6" r="1.1"/><circle cx="372.3" cy="514.0" r="1.1"/><circle cx="273.3" cy="538.1" r="1.1"/><circle cx="299.1" cy="542.0" r="1.1"/><circle cx="296.9" cy="545.1" r="1.1"/><circle cx="294.8" cy="548.2" r="1.1"/><circle cx="240.6" cy="537.4" r="1.1"/><circle cx="316.3" cy="554.1" r="1.1"/><circle cx="335.4" cy="554.4" r="1.1"/><circle cx="132.2" cy="562.1" r="1.1"/><circle cx="151.4" cy="556.5" r="1.1"/><circle cx="153.2" cy="559.6" r="1.1"/><circle cx="174.5" cy="563.3" r="1.1"/><circle cx="188.3" cy="555.9" r="1.1"/><circle cx="186.8" cy="559.6" r="1.1"/><circle cx="117.5" cy="570.4" r="1.1"/><circle cx="126.2" cy="569.7" r="1.1"/><circle cx="185.2" cy="575.3" r="1.1"/><circle cx="138.5" cy="579.0" r="1.1"/><circle cx="139.0" cy="580.2" r="1.1"/><circle cx="155.4" cy="580.5" r="1.1"/><circle cx="153.9" cy="582.7" r="1.1"/><circle cx="152.7" cy="584.2" r="1.1"/><circle cx="125.2" cy="587.3" r="1.1"/><circle cx="138.5" cy="589.5" r="1.1"/><circle cx="147.7" cy="590.4" r="1.1"/><circle cx="175.4" cy="588.3" r="1.1"/><circle cx="177.5" cy="589.5" r="1.1"/><circle cx="143.0" cy="596.5" r="1.1"/><circle cx="165.5" cy="601.8" r="1.1"/><circle cx="168.7" cy="601.2" r="1.1"/><circle cx="142.2" cy="607.3" r="1.1"/><circle cx="160.0" cy="612.9" r="1.1"/><circle cx="145.5" cy="615.6" r="1.1"/><circle cx="249.8" cy="575.0" r="1.1"/><circle cx="299.1" cy="577.4" r="1.1"/><circle cx="304.6" cy="590.4" r="1.1"/><circle cx="307.1" cy="592.6" r="1.1"/><circle cx="279.3" cy="629.7" r="1.1"/><circle cx="210.5" cy="526.4" r="1.1"/><circle cx="233.4" cy="492.0" r="1.1"/><circle cx="290.8" cy="488.9" r="1.1"/><circle cx="220.8" cy="515.3" r="1.1"/><circle cx="274.8" cy="464.2" r="1.1"/><circle cx="255.1" cy="518.1" r="1.1"/><circle cx="204.1" cy="475.3" r="1.1"/><circle cx="252.2" cy="527.4" r="1.1"/><circle cx="240.3" cy="519.1" r="1.1"/><circle cx="217.7" cy="510.4" r="1.1"/><circle cx="214.2" cy="492.4" r="1.1"/><circle cx="241.1" cy="508.7" r="1.1"/><circle cx="260.7" cy="480.5" r="1.1"/><circle cx="233.1" cy="516.9" r="1.1"/><circle cx="236.6" cy="521.8" r="1.1"/><circle cx="244.6" cy="498.4" r="1.1"/><circle cx="231.2" cy="518.4" r="1.1"/><circle cx="227.3" cy="519.8" r="1.1"/><circle cx="187.6" cy="502.3" r="1.1"/><circle cx="197.8" cy="483.9" r="1.1"/><circle cx="273.4" cy="528.9" r="1.1"/><circle cx="255.1" cy="515.7" r="1.1"/><circle cx="245.1" cy="496.9" r="1.1"/><circle cx="234.1" cy="503.8" r="1.1"/><circle cx="283.6" cy="512.9" r="1.1"/><circle cx="274.2" cy="512.8" r="1.1"/><circle cx="230.1" cy="514.9" r="1.1"/><circle cx="303.8" cy="478.8" r="1.1"/><circle cx="270.4" cy="478.9" r="1.1"/><circle cx="278.5" cy="503.5" r="1.1"/><circle cx="240.8" cy="474.3" r="1.1"/><circle cx="227.3" cy="496.9" r="1.1"/><circle cx="242.9" cy="487.2" r="1.1"/><circle cx="228.7" cy="502.8" r="1.1"/><circle cx="253.8" cy="494.5" r="1.1"/><circle cx="208.0" cy="487.3" r="1.1"/><circle cx="189.9" cy="527.2" r="1.1"/><circle cx="190.6" cy="488.6" r="1.1"/><circle cx="228.8" cy="517.3" r="1.1"/><circle cx="196.7" cy="497.4" r="1.1"/><circle cx="200.1" cy="527.0" r="1.1"/><circle cx="269.1" cy="515.4" r="1.1"/><circle cx="230.4" cy="500.0" r="1.1"/><circle cx="225.3" cy="501.6" r="1.1"/><circle cx="299.2" cy="498.8" r="1.1"/><circle cx="191.6" cy="538.3" r="1.1"/><circle cx="235.3" cy="505.3" r="1.1"/><circle cx="254.8" cy="504.5" r="1.1"/><circle cx="223.9" cy="513.7" r="1.1"/><circle cx="222.2" cy="498.2" r="1.1"/><circle cx="228.0" cy="498.4" r="1.1"/><circle cx="322.4" cy="477.5" r="1.1"/><circle cx="178.5" cy="476.8" r="1.1"/><circle cx="258.1" cy="512.5" r="1.1"/><circle cx="281.3" cy="492.0" r="1.1"/><circle cx="218.2" cy="512.9" r="1.1"/><circle cx="202.6" cy="503.1" r="1.1"/><circle cx="288.0" cy="497.0" r="1.1"/><circle cx="261.1" cy="461.9" r="1.1"/><circle cx="193.5" cy="500.8" r="1.1"/><circle cx="231.0" cy="518.5" r="1.1"/><circle cx="201.2" cy="504.5" r="1.1"/><circle cx="261.7" cy="504.6" r="1.1"/><circle cx="245.9" cy="484.7" r="1.1"/><circle cx="256.0" cy="480.5" r="1.1"/><circle cx="262.8" cy="486.3" r="1.1"/><circle cx="319.4" cy="475.5" r="1.1"/><circle cx="249.1" cy="484.5" r="1.1"/><circle cx="205.7" cy="509.6" r="1.1"/><circle cx="276.6" cy="481.8" r="1.1"/><circle cx="307.9" cy="488.1" r="1.1"/><circle cx="183.2" cy="472.3" r="1.1"/><circle cx="289.0" cy="509.9" r="1.1"/><circle cx="300.7" cy="488.8" r="1.1"/><circle cx="226.4" cy="509.5" r="1.1"/><circle cx="309.6" cy="502.1" r="1.1"/><circle cx="233.3" cy="504.3" r="1.1"/><circle cx="228.0" cy="516.5" r="1.1"/><circle cx="252.8" cy="477.4" r="1.1"/><circle cx="269.5" cy="510.5" r="1.1"/><circle cx="196.1" cy="502.8" r="1.1"/><circle cx="214.5" cy="513.4" r="1.1"/><circle cx="324.5" cy="469.5" r="1.1"/><circle cx="203.4" cy="487.7" r="1.1"/><circle cx="299.4" cy="532.0" r="1.1"/><circle cx="221.0" cy="508.2" r="1.1"/><circle cx="270.5" cy="496.0" r="1.1"/><circle cx="234.2" cy="500.3" r="1.1"/><circle cx="222.1" cy="517.6" r="1.1"/><circle cx="203.2" cy="514.1" r="1.1"/><circle cx="245.3" cy="489.1" r="1.1"/><circle cx="286.4" cy="484.6" r="1.1"/><circle cx="207.6" cy="494.2" r="1.1"/><circle cx="254.1" cy="462.9" r="1.1"/><circle cx="243.2" cy="521.7" r="1.1"/><circle cx="200.4" cy="478.5" r="1.1"/><circle cx="221.4" cy="538.6" r="1.1"/><circle cx="219.7" cy="501.4" r="1.1"/><circle cx="293.0" cy="508.5" r="1.1"/><circle cx="271.3" cy="479.6" r="1.1"/><circle cx="214.8" cy="505.5" r="1.1"/><circle cx="317.0" cy="456.3" r="1.1"/><circle cx="279.2" cy="486.6" r="1.1"/><circle cx="290.8" cy="493.4" r="1.1"/><circle cx="239.7" cy="513.8" r="1.1"/><circle cx="244.0" cy="499.3" r="1.1"/><circle cx="235.7" cy="476.4" r="1.1"/><circle cx="298.4" cy="493.0" r="1.1"/><circle cx="292.2" cy="529.3" r="1.1"/><circle cx="247.6" cy="482.0" r="1.1"/><circle cx="195.7" cy="486.2" r="1.1"/><circle cx="233.1" cy="519.0" r="1.1"/><circle cx="228.3" cy="509.8" r="1.1"/><circle cx="273.7" cy="485.3" r="1.1"/><circle cx="232.2" cy="511.4" r="1.1"/><circle cx="241.5" cy="474.6" r="1.1"/><circle cx="258.2" cy="484.4" r="1.1"/><circle cx="237.5" cy="521.7" r="1.1"/><circle cx="214.4" cy="490.6" r="1.1"/><circle cx="248.0" cy="513.3" r="1.1"/><circle cx="248.3" cy="503.2" r="1.1"/><circle cx="229.3" cy="505.9" r="1.1"/><circle cx="255.5" cy="490.8" r="1.1"/><circle cx="283.6" cy="475.4" r="1.1"/><circle cx="298.9" cy="475.3" r="1.1"/><circle cx="279.9" cy="500.1" r="1.1"/><circle cx="303.2" cy="481.6" r="1.1"/><circle cx="263.1" cy="487.0" r="1.1"/><circle cx="332.3" cy="461.0" r="1.1"/><circle cx="280.4" cy="477.3" r="1.1"/><circle cx="298.0" cy="478.9" r="1.1"/><circle cx="321.4" cy="493.8" r="1.1"/><circle cx="280.6" cy="489.8" r="1.1"/><circle cx="287.1" cy="483.5" r="1.1"/><circle cx="270.1" cy="467.2" r="1.1"/><circle cx="346.8" cy="487.4" r="1.1"/><circle cx="271.8" cy="495.6" r="1.1"/><circle cx="314.5" cy="494.4" r="1.1"/><circle cx="278.9" cy="485.7" r="1.1"/><circle cx="331.5" cy="491.6" r="1.1"/><circle cx="279.3" cy="475.0" r="1.1"/><circle cx="274.1" cy="488.9" r="1.1"/><circle cx="275.3" cy="497.4" r="1.1"/><circle cx="264.0" cy="488.8" r="1.1"/><circle cx="273.4" cy="500.9" r="1.1"/><circle cx="270.1" cy="480.8" r="1.1"/><circle cx="306.1" cy="478.8" r="1.1"/><circle cx="263.6" cy="465.7" r="1.1"/><circle cx="268.3" cy="485.8" r="1.1"/><circle cx="304.5" cy="495.3" r="1.1"/><circle cx="284.6" cy="464.6" r="1.1"/><circle cx="334.1" cy="481.6" r="1.1"/><circle cx="301.1" cy="506.3" r="1.1"/><circle cx="288.4" cy="476.7" r="1.1"/><circle cx="281.7" cy="462.1" r="1.1"/><circle cx="411.1" cy="454.9" r="1.1"/>
</g>
<path d="M61.60 501.95H459.20" stroke="#2a120a" stroke-width="2.1"/>
<path d="M61.60 499.75H459.20" stroke="#b96f52" stroke-width="2.0"/>
<path d="M62.20 430.30H459.20" stroke="#a84e35" stroke-width="1.7" stroke-dasharray="4.3 4.16"/>
<path d="M62.20 570.60H459.20" stroke="#a84e35" stroke-width="1.7" stroke-dasharray="4.3 4.16"/>
<g font-size="9.05" fill="#000" text-anchor="end">
<text x="501.8" y="422.70">Mean + 1.96 SD</text>
<text x="501.8" y="433.10">= 76.5</text>
<text x="501.8" y="493.80">Mean</text>
<text x="501.8" y="505.00">= 1.6</text>
<text x="501.8" y="562.80">Mean – 1.96 SD</text>
<text x="501.8" y="572.90">= – 73.4</text>
</g>
</g>
<g>
<path d="M61.60 714.90V995.70H459.00" fill="none" stroke="#555" stroke-width="0.85"/>
<path d="M61.60 995.70v4.5M94.72 995.70v4.5M127.83 995.70v4.5M160.95 995.70v4.5M194.07 995.70v4.5M227.18 995.70v4.5M260.30 995.70v4.5M293.42 995.70v4.5M326.53 995.70v4.5M359.65 995.70v4.5M392.77 995.70v4.5M425.88 995.70v4.5M459.00 995.70v4.5M61.60 995.70h-4M61.60 972.30h-4M61.60 948.90h-4M61.60 925.50h-4M61.60 902.10h-4M61.60 878.70h-4M61.60 855.30h-4M61.60 831.90h-4M61.60 808.50h-4M61.60 785.10h-4M61.60 761.70h-4M61.60 738.30h-4M61.60 714.90h-4" fill="none" stroke="#555" stroke-width="0.85"/>
<g font-size="9" fill="#000">
<g text-anchor="middle">
<text x="61.60" y="1009.90">0</text>
<text x="94.72" y="1009.90">24</text>
<text x="127.83" y="1009.90">48</text>
<text x="160.95" y="1009.90">72</text>
<text x="194.07" y="1009.90">96</text>
<text x="227.18" y="1009.90">120</text>
<text x="260.30" y="1009.90">144</text>
<text x="293.42" y="1009.90">168</text>
<text x="326.53" y="1009.90">192</text>
<text x="359.65" y="1009.90">216</text>
<text x="392.77" y="1009.90">240</text>
<text x="425.88" y="1009.90">264</text>
<text x="459.00" y="1009.90">288</text>
</g><g text-anchor="end">
<text x="53.5" y="998.60">–150</text>
<text x="53.5" y="975.20">–125</text>
<text x="53.5" y="951.80">–100</text>
<text x="53.5" y="928.40">–75</text>
<text x="53.5" y="905.00">–50</text>
<text x="53.5" y="881.60">–25</text>
<text x="53.5" y="858.20">0</text>
<text x="53.5" y="834.80">25</text>
<text x="53.5" y="811.40">50</text>
<text x="53.5" y="788.00">75</text>
<text x="53.5" y="764.60">100</text>
<text x="53.5" y="741.20">125</text>
<text x="53.5" y="717.80">150</text>
</g></g>
<text x="260.8" y="1023.50" text-anchor="middle" font-size="9.2" fill="#000" textLength="107" lengthAdjust="spacingAndGlyphs">Mean TcB and TSB, µmol/L</text>
<text transform="translate(25.6 855.30) rotate(-90)" text-anchor="middle" font-size="9.2" fill="#000" textLength="132.5" lengthAdjust="spacingAndGlyphs">TcB minus TSB difference, µmol/L</text>
<text x="18" y="1022.90" font-size="9.6" font-weight="bold" fill="#000" stroke="none">c</text>
<g fill="#000" fill-opacity="0.5" stroke="#000" stroke-opacity="0.85" stroke-width="0.75">
<circle cx="135.8" cy="907.4" r="1.1"/><circle cx="125.3" cy="891.7" r="1.1"/><circle cx="229.0" cy="892.9" r="1.1"/><circle cx="229.4" cy="892.5" r="1.1"/><circle cx="225.7" cy="860.3" r="1.1"/><circle cx="171.0" cy="856.0" r="1.1"/><circle cx="162.3" cy="865.2" r="1.1"/><circle cx="202.8" cy="911.3" r="1.1"/><circle cx="216.3" cy="905.2" r="1.1"/><circle cx="270.6" cy="880.0" r="1.1"/><circle cx="282.2" cy="835.0" r="1.1"/><circle cx="173.6" cy="939.0" r="1.1"/><circle cx="261.0" cy="873.9" r="1.1"/><circle cx="239.1" cy="852.9" r="1.1"/><circle cx="247.1" cy="842.1" r="1.1"/><circle cx="223.7" cy="874.4" r="1.1"/><circle cx="222.8" cy="875.8" r="1.1"/><circle cx="214.8" cy="886.7" r="1.1"/><circle cx="150.7" cy="886.2" r="1.1"/><circle cx="294.4" cy="849.4" r="1.1"/><circle cx="156.5" cy="933.1" r="1.1"/><circle cx="160.7" cy="927.5" r="1.1"/><circle cx="163.3" cy="924.5" r="1.1"/><circle cx="168.5" cy="917.4" r="1.1"/><circle cx="185.5" cy="894.2" r="1.1"/><circle cx="331.9" cy="827.9" r="1.1"/><circle cx="323.4" cy="839.5" r="1.1"/><circle cx="197.4" cy="873.2" r="1.1"/><circle cx="200.0" cy="869.6" r="1.1"/><circle cx="258.9" cy="883.0" r="1.1"/><circle cx="237.3" cy="861.4" r="1.1"/><circle cx="170.7" cy="906.8" r="1.1"/><circle cx="170.5" cy="907.1" r="1.1"/><circle cx="253.3" cy="879.2" r="1.1"/><circle cx="255.3" cy="876.3" r="1.1"/><circle cx="181.9" cy="873.0" r="1.1"/><circle cx="167.4" cy="892.6" r="1.1"/><circle cx="184.3" cy="869.8" r="1.1"/><circle cx="248.7" cy="875.7" r="1.1"/><circle cx="245.0" cy="880.9" r="1.1"/><circle cx="245.7" cy="870.7" r="1.1"/><circle cx="271.1" cy="836.3" r="1.1"/><circle cx="245.9" cy="870.5" r="1.1"/><circle cx="200.0" cy="851.5" r="1.1"/><circle cx="198.5" cy="853.6" r="1.1"/><circle cx="208.6" cy="868.3" r="1.1"/><circle cx="210.1" cy="882.9" r="1.1"/><circle cx="204.6" cy="890.4" r="1.1"/><circle cx="137.4" cy="907.9" r="1.1"/><circle cx="242.5" cy="898.7" r="1.1"/><circle cx="255.9" cy="880.5" r="1.1"/><circle cx="262.2" cy="871.9" r="1.1"/><circle cx="208.6" cy="919.5" r="1.1"/><circle cx="227.2" cy="903.4" r="1.1"/><circle cx="210.6" cy="925.8" r="1.1"/><circle cx="220.1" cy="912.9" r="1.1"/><circle cx="304.2" cy="820.9" r="1.1"/><circle cx="145.6" cy="928.8" r="1.1"/><circle cx="295.8" cy="919.1" r="1.1"/><circle cx="289.0" cy="928.4" r="1.1"/><circle cx="178.6" cy="936.2" r="1.1"/><circle cx="142.0" cy="934.2" r="1.1"/><circle cx="146.0" cy="909.7" r="1.1"/><circle cx="212.1" cy="851.9" r="1.1"/><circle cx="229.1" cy="828.8" r="1.1"/><circle cx="220.0" cy="841.2" r="1.1"/><circle cx="189.1" cy="907.6" r="1.1"/><circle cx="195.6" cy="904.2" r="1.1"/><circle cx="199.6" cy="898.8" r="1.1"/><circle cx="216.6" cy="866.7" r="1.1"/><circle cx="220.4" cy="861.5" r="1.1"/><circle cx="215.2" cy="908.4" r="1.1"/><circle cx="152.5" cy="943.9" r="1.1"/><circle cx="172.7" cy="916.8" r="1.1"/><circle cx="201.1" cy="830.2" r="1.1"/><circle cx="195.7" cy="837.4" r="1.1"/><circle cx="194.1" cy="839.8" r="1.1"/><circle cx="104.7" cy="898.2" r="1.1"/><circle cx="264.2" cy="843.1" r="1.1"/><circle cx="236.8" cy="871.2" r="1.1"/><circle cx="172.7" cy="846.8" r="1.1"/><circle cx="153.1" cy="873.5" r="1.1"/><circle cx="145.2" cy="884.1" r="1.1"/><circle cx="160.8" cy="931.5" r="1.1"/><circle cx="291.6" cy="868.1" r="1.1"/><circle cx="289.0" cy="871.5" r="1.1"/><circle cx="294.9" cy="863.5" r="1.1"/><circle cx="262.6" cy="861.9" r="1.1"/><circle cx="258.1" cy="868.0" r="1.1"/><circle cx="242.8" cy="902.4" r="1.1"/><circle cx="247.9" cy="895.5" r="1.1"/><circle cx="188.3" cy="871.8" r="1.1"/><circle cx="181.2" cy="881.2" r="1.1"/><circle cx="179.7" cy="861.9" r="1.1"/><circle cx="189.5" cy="848.5" r="1.1"/><circle cx="206.2" cy="871.3" r="1.1"/><circle cx="202.5" cy="876.3" r="1.1"/><circle cx="261.5" cy="836.0" r="1.1"/><circle cx="262.5" cy="834.5" r="1.1"/><circle cx="222.8" cy="883.7" r="1.1"/><circle cx="203.2" cy="889.0" r="1.1"/><circle cx="213.9" cy="874.4" r="1.1"/><circle cx="186.3" cy="911.9" r="1.1"/><circle cx="182.3" cy="860.4" r="1.1"/><circle cx="192.1" cy="847.3" r="1.1"/><circle cx="168.1" cy="951.8" r="1.1"/><circle cx="166.7" cy="929.5" r="1.1"/><circle cx="181.0" cy="910.2" r="1.1"/><circle cx="173.1" cy="921.0" r="1.1"/><circle cx="250.4" cy="862.7" r="1.1"/><circle cx="164.7" cy="893.1" r="1.1"/><circle cx="264.9" cy="889.1" r="1.1"/><circle cx="272.0" cy="879.2" r="1.1"/><circle cx="254.6" cy="902.8" r="1.1"/><circle cx="209.1" cy="886.6" r="1.1"/><circle cx="201.8" cy="896.6" r="1.1"/><circle cx="197.1" cy="902.8" r="1.1"/><circle cx="168.4" cy="876.8" r="1.1"/><circle cx="168.4" cy="876.6" r="1.1"/><circle cx="237.8" cy="862.4" r="1.1"/><circle cx="233.3" cy="868.8" r="1.1"/><circle cx="265.1" cy="830.0" r="1.1"/><circle cx="249.5" cy="851.1" r="1.1"/><circle cx="270.0" cy="823.5" r="1.1"/><circle cx="233.1" cy="818.0" r="1.1"/><circle cx="231.6" cy="820.1" r="1.1"/><circle cx="181.0" cy="885.9" r="1.1"/><circle cx="159.6" cy="886.0" r="1.1"/><circle cx="141.8" cy="870.9" r="1.1"/><circle cx="147.2" cy="863.7" r="1.1"/><circle cx="135.7" cy="879.1" r="1.1"/><circle cx="158.2" cy="939.6" r="1.1"/><circle cx="212.4" cy="857.4" r="1.1"/><circle cx="117.2" cy="901.8" r="1.1"/><circle cx="299.1" cy="893.9" r="1.1"/><circle cx="258.1" cy="822.4" r="1.1"/><circle cx="185.8" cy="917.8" r="1.1"/><circle cx="141.5" cy="895.7" r="1.1"/><circle cx="201.4" cy="823.3" r="1.1"/><circle cx="150.7" cy="886.3" r="1.1"/><circle cx="125.6" cy="918.2" r="1.1"/><circle cx="244.3" cy="854.6" r="1.1"/><circle cx="215.7" cy="833.0" r="1.1"/><circle cx="206.5" cy="845.7" r="1.1"/><circle cx="139.3" cy="927.0" r="1.1"/><circle cx="273.5" cy="853.5" r="1.1"/><circle cx="215.6" cy="892.6" r="1.1"/><circle cx="150.5" cy="917.6" r="1.1"/><circle cx="248.2" cy="841.6" r="1.1"/><circle cx="336.2" cy="851.4" r="1.1"/><circle cx="230.5" cy="840.2" r="1.1"/><circle cx="227.9" cy="843.8" r="1.1"/><circle cx="274.2" cy="899.2" r="1.1"/><circle cx="163.0" cy="903.6" r="1.1"/><circle cx="156.5" cy="900.0" r="1.1"/><circle cx="158.6" cy="897.2" r="1.1"/><circle cx="144.5" cy="916.2" r="1.1"/><circle cx="261.5" cy="851.0" r="1.1"/><circle cx="259.7" cy="853.5" r="1.1"/><circle cx="291.1" cy="835.8" r="1.1"/><circle cx="153.4" cy="897.3" r="1.1"/><circle cx="226.5" cy="863.3" r="1.1"/><circle cx="228.1" cy="861.1" r="1.1"/><circle cx="254.0" cy="902.4" r="1.1"/><circle cx="269.4" cy="881.3" r="1.1"/><circle cx="224.7" cy="884.5" r="1.1"/><circle cx="227.3" cy="875.7" r="1.1"/><circle cx="129.1" cy="918.6" r="1.1"/><circle cx="241.8" cy="877.5" r="1.1"/><circle cx="122.2" cy="896.6" r="1.1"/><circle cx="212.7" cy="905.5" r="1.1"/><circle cx="217.8" cy="870.5" r="1.1"/><circle cx="133.4" cy="910.8" r="1.1"/><circle cx="129.5" cy="916.0" r="1.1"/><circle cx="162.2" cy="913.6" r="1.1"/><circle cx="189.7" cy="880.5" r="1.1"/><circle cx="186.5" cy="884.8" r="1.1"/><circle cx="188.3" cy="890.7" r="1.1"/><circle cx="177.2" cy="905.5" r="1.1"/><circle cx="135.1" cy="926.4" r="1.1"/><circle cx="185.5" cy="909.0" r="1.1"/><circle cx="179.4" cy="891.2" r="1.1"/><circle cx="165.5" cy="910.2" r="1.1"/><circle cx="182.8" cy="886.7" r="1.1"/><circle cx="105.3" cy="873.9" r="1.1"/><circle cx="103.8" cy="876.0" r="1.1"/><circle cx="180.4" cy="887.1" r="1.1"/><circle cx="165.9" cy="906.7" r="1.1"/><circle cx="167.6" cy="904.5" r="1.1"/><circle cx="283.6" cy="878.2" r="1.1"/><circle cx="301.3" cy="854.3" r="1.1"/><circle cx="144.3" cy="903.5" r="1.1"/><circle cx="168.0" cy="846.2" r="1.1"/><circle cx="274.2" cy="826.8" r="1.1"/><circle cx="178.9" cy="899.3" r="1.1"/><circle cx="139.1" cy="907.1" r="1.1"/><circle cx="269.4" cy="904.5" r="1.1"/><circle cx="251.6" cy="928.7" r="1.1"/><circle cx="262.9" cy="857.1" r="1.1"/><circle cx="180.7" cy="922.8" r="1.1"/><circle cx="191.7" cy="892.6" r="1.1"/><circle cx="192.0" cy="892.3" r="1.1"/><circle cx="181.2" cy="906.9" r="1.1"/><circle cx="172.1" cy="936.5" r="1.1"/><circle cx="109.3" cy="897.7" r="1.1"/><circle cx="250.2" cy="882.1" r="1.1"/><circle cx="251.1" cy="880.9" r="1.1"/><circle cx="249.4" cy="883.1" r="1.1"/><circle cx="157.4" cy="901.0" r="1.1"/><circle cx="152.9" cy="906.9" r="1.1"/><circle cx="143.6" cy="891.0" r="1.1"/><circle cx="150.3" cy="882.0" r="1.1"/><circle cx="250.8" cy="836.5" r="1.1"/><circle cx="185.2" cy="879.9" r="1.1"/><circle cx="178.8" cy="888.8" r="1.1"/><circle cx="180.4" cy="892.8" r="1.1"/><circle cx="181.8" cy="837.2" r="1.1"/><circle cx="327.2" cy="869.6" r="1.1"/><circle cx="222.9" cy="864.0" r="1.1"/><circle cx="168.8" cy="912.3" r="1.1"/><circle cx="190.9" cy="908.2" r="1.1"/><circle cx="190.3" cy="908.9" r="1.1"/><circle cx="223.5" cy="882.8" r="1.1"/><circle cx="230.1" cy="873.7" r="1.1"/><circle cx="230.4" cy="873.3" r="1.1"/><circle cx="182.6" cy="895.2" r="1.1"/><circle cx="148.0" cy="950.2" r="1.1"/><circle cx="270.1" cy="844.2" r="1.1"/><circle cx="224.3" cy="864.8" r="1.1"/><circle cx="252.3" cy="867.5" r="1.1"/><circle cx="246.9" cy="874.9" r="1.1"/><circle cx="246.8" cy="875.0" r="1.1"/><circle cx="253.0" cy="851.5" r="1.1"/><circle cx="227.2" cy="864.2" r="1.1"/><circle cx="300.6" cy="876.6" r="1.1"/><circle cx="223.6" cy="866.6" r="1.1"/><circle cx="225.0" cy="864.8" r="1.1"/><circle cx="219.3" cy="850.2" r="1.1"/><circle cx="214.8" cy="856.2" r="1.1"/><circle cx="213.4" cy="858.2" r="1.1"/><circle cx="252.7" cy="888.0" r="1.1"/><circle cx="218.2" cy="880.9" r="1.1"/><circle cx="321.0" cy="842.5" r="1.1"/><circle cx="313.4" cy="852.7" r="1.1"/><circle cx="244.2" cy="863.6" r="1.1"/><circle cx="243.5" cy="863.3" r="1.1"/><circle cx="245.8" cy="860.3" r="1.1"/><circle cx="251.3" cy="852.7" r="1.1"/><circle cx="290.5" cy="892.4" r="1.1"/><circle cx="265.3" cy="893.8" r="1.1"/><circle cx="192.0" cy="883.3" r="1.1"/><circle cx="205.5" cy="864.9" r="1.1"/><circle cx="244.0" cy="900.3" r="1.1"/><circle cx="235.5" cy="911.9" r="1.1"/><circle cx="297.6" cy="871.1" r="1.1"/><circle cx="292.6" cy="877.9" r="1.1"/><circle cx="174.5" cy="893.9" r="1.1"/><circle cx="169.5" cy="847.9" r="1.1"/><circle cx="224.0" cy="850.8" r="1.1"/><circle cx="171.2" cy="881.7" r="1.1"/><circle cx="233.9" cy="945.9" r="1.1"/><circle cx="256.4" cy="869.0" r="1.1"/><circle cx="226.4" cy="879.6" r="1.1"/><circle cx="158.1" cy="907.4" r="1.1"/><circle cx="141.6" cy="929.6" r="1.1"/><circle cx="256.9" cy="866.1" r="1.1"/><circle cx="172.7" cy="943.3" r="1.1"/><circle cx="173.5" cy="942.2" r="1.1"/><circle cx="179.0" cy="894.2" r="1.1"/><circle cx="169.8" cy="906.8" r="1.1"/><circle cx="253.8" cy="875.0" r="1.1"/><circle cx="243.7" cy="888.8" r="1.1"/><circle cx="249.7" cy="880.6" r="1.1"/><circle cx="236.2" cy="844.3" r="1.1"/><circle cx="237.8" cy="841.9" r="1.1"/><circle cx="318.3" cy="837.8" r="1.1"/><circle cx="316.2" cy="840.6" r="1.1"/><circle cx="160.5" cy="889.8" r="1.1"/><circle cx="320.9" cy="878.7" r="1.1"/><circle cx="203.4" cy="870.4" r="1.1"/><circle cx="233.8" cy="909.6" r="1.1"/><circle cx="208.8" cy="914.8" r="1.1"/><circle cx="226.4" cy="878.6" r="1.1"/><circle cx="190.3" cy="875.5" r="1.1"/><circle cx="189.4" cy="876.8" r="1.1"/><circle cx="287.9" cy="892.6" r="1.1"/><circle cx="288.4" cy="891.7" r="1.1"/><circle cx="197.8" cy="890.6" r="1.1"/><circle cx="174.6" cy="883.5" r="1.1"/><circle cx="312.5" cy="825.0" r="1.1"/><circle cx="295.8" cy="847.6" r="1.1"/><circle cx="192.8" cy="854.8" r="1.1"/><circle cx="239.7" cy="865.3" r="1.1"/><circle cx="167.6" cy="909.2" r="1.1"/><circle cx="162.2" cy="916.6" r="1.1"/><circle cx="159.8" cy="919.9" r="1.1"/><circle cx="244.4" cy="899.3" r="1.1"/><circle cx="114.3" cy="895.9" r="1.1"/><circle cx="281.8" cy="827.9" r="1.1"/><circle cx="239.7" cy="880.9" r="1.1"/><circle cx="240.0" cy="880.7" r="1.1"/><circle cx="256.9" cy="857.7" r="1.1"/><circle cx="142.2" cy="905.6" r="1.1"/><circle cx="154.2" cy="889.2" r="1.1"/><circle cx="209.0" cy="939.6" r="1.1"/><circle cx="152.3" cy="913.4" r="1.1"/><circle cx="157.8" cy="895.5" r="1.1"/><circle cx="205.9" cy="878.0" r="1.1"/><circle cx="214.2" cy="866.7" r="1.1"/><circle cx="128.4" cy="885.0" r="1.1"/><circle cx="174.1" cy="856.2" r="1.1"/><circle cx="173.1" cy="857.5" r="1.1"/><circle cx="157.1" cy="879.3" r="1.1"/><circle cx="177.2" cy="898.3" r="1.1"/><circle cx="173.0" cy="904.1" r="1.1"/><circle cx="274.1" cy="890.5" r="1.1"/><circle cx="205.9" cy="935.0" r="1.1"/><circle cx="204.0" cy="937.4" r="1.1"/><circle cx="138.5" cy="914.3" r="1.1"/><circle cx="134.9" cy="919.0" r="1.1"/><circle cx="181.5" cy="853.7" r="1.1"/><circle cx="173.9" cy="864.0" r="1.1"/><circle cx="227.3" cy="887.8" r="1.1"/><circle cx="227.2" cy="888.0" r="1.1"/><circle cx="179.3" cy="889.2" r="1.1"/><circle cx="167.6" cy="905.0" r="1.1"/><circle cx="129.2" cy="859.6" r="1.1"/><circle cx="264.4" cy="868.0" r="1.1"/><circle cx="269.5" cy="861.0" r="1.1"/><circle cx="265.0" cy="867.2" r="1.1"/><circle cx="224.1" cy="905.8" r="1.1"/><circle cx="225.3" cy="904.3" r="1.1"/><circle cx="174.3" cy="889.6" r="1.1"/><circle cx="174.1" cy="889.8" r="1.1"/><circle cx="211.3" cy="888.4" r="1.1"/><circle cx="91.8" cy="888.7" r="1.1"/><circle cx="239.5" cy="873.4" r="1.1"/><circle cx="229.3" cy="887.3" r="1.1"/><circle cx="199.6" cy="868.6" r="1.1"/><circle cx="185.9" cy="887.2" r="1.1"/><circle cx="187.2" cy="885.4" r="1.1"/><circle cx="311.9" cy="860.5" r="1.1"/><circle cx="219.7" cy="886.9" r="1.1"/><circle cx="229.9" cy="873.0" r="1.1"/><circle cx="130.3" cy="907.5" r="1.1"/><circle cx="137.6" cy="883.6" r="1.1"/><circle cx="143.8" cy="875.0" r="1.1"/><circle cx="142.6" cy="876.9" r="1.1"/><circle cx="104.9" cy="874.5" r="1.1"/><circle cx="135.6" cy="910.1" r="1.1"/><circle cx="258.9" cy="898.4" r="1.1"/><circle cx="257.3" cy="873.4" r="1.1"/><circle cx="213.9" cy="848.4" r="1.1"/><circle cx="120.9" cy="907.5" r="1.1"/><circle cx="116.0" cy="914.3" r="1.1"/><circle cx="189.8" cy="887.8" r="1.1"/><circle cx="197.4" cy="877.5" r="1.1"/><circle cx="197.5" cy="877.3" r="1.1"/><circle cx="161.5" cy="890.8" r="1.1"/><circle cx="138.6" cy="860.3" r="1.1"/><circle cx="132.7" cy="868.3" r="1.1"/><circle cx="135.6" cy="864.5" r="1.1"/><circle cx="248.8" cy="862.5" r="1.1"/><circle cx="297.7" cy="858.7" r="1.1"/><circle cx="290.9" cy="867.8" r="1.1"/><circle cx="254.2" cy="834.4" r="1.1"/><circle cx="158.1" cy="878.1" r="1.1"/><circle cx="268.3" cy="883.3" r="1.1"/><circle cx="177.4" cy="892.5" r="1.1"/><circle cx="206.6" cy="947.7" r="1.1"/><circle cx="230.8" cy="938.1" r="1.1"/><circle cx="237.9" cy="928.5" r="1.1"/><circle cx="284.2" cy="844.8" r="1.1"/><circle cx="163.4" cy="867.7" r="1.1"/><circle cx="176.1" cy="850.4" r="1.1"/><circle cx="224.7" cy="834.0" r="1.1"/><circle cx="214.6" cy="847.4" r="1.1"/><circle cx="227.2" cy="854.7" r="1.1"/><circle cx="162.2" cy="902.9" r="1.1"/><circle cx="151.4" cy="932.1" r="1.1"/><circle cx="221.7" cy="884.1" r="1.1"/><circle cx="220.4" cy="885.8" r="1.1"/><circle cx="218.5" cy="888.3" r="1.1"/><circle cx="177.4" cy="902.2" r="1.1"/><circle cx="204.3" cy="853.5" r="1.1"/><circle cx="194.3" cy="865.9" r="1.1"/><circle cx="272.3" cy="909.0" r="1.1"/><circle cx="267.9" cy="884.5" r="1.1"/><circle cx="229.8" cy="840.5" r="1.1"/><circle cx="207.6" cy="870.7" r="1.1"/><circle cx="217.1" cy="857.7" r="1.1"/><circle cx="144.0" cy="900.2" r="1.1"/><circle cx="158.3" cy="880.9" r="1.1"/><circle cx="251.6" cy="881.9" r="1.1"/><circle cx="248.2" cy="886.5" r="1.1"/><circle cx="244.2" cy="892.0" r="1.1"/><circle cx="173.1" cy="887.9" r="1.1"/><circle cx="188.4" cy="867.1" r="1.1"/><circle cx="181.4" cy="876.6" r="1.1"/><circle cx="139.6" cy="887.2" r="1.1"/><circle cx="263.2" cy="844.5" r="1.1"/><circle cx="253.8" cy="857.3" r="1.1"/><circle cx="177.5" cy="913.3" r="1.1"/><circle cx="271.5" cy="842.0" r="1.1"/><circle cx="255.9" cy="863.0" r="1.1"/><circle cx="251.6" cy="868.9" r="1.1"/><circle cx="159.8" cy="905.3" r="1.1"/><circle cx="261.8" cy="908.2" r="1.1"/><circle cx="201.1" cy="864.3" r="1.1"/><circle cx="215.9" cy="844.3" r="1.1"/><circle cx="265.3" cy="845.8" r="1.1"/><circle cx="138.9" cy="907.5" r="1.1"/><circle cx="203.7" cy="863.7" r="1.1"/><circle cx="142.6" cy="892.3" r="1.1"/><circle cx="173.4" cy="868.7" r="1.1"/><circle cx="212.3" cy="895.0" r="1.1"/><circle cx="211.9" cy="895.5" r="1.1"/><circle cx="109.5" cy="887.9" r="1.1"/><circle cx="107.1" cy="891.0" r="1.1"/><circle cx="140.7" cy="879.5" r="1.1"/><circle cx="127.7" cy="897.0" r="1.1"/><circle cx="205.7" cy="889.9" r="1.1"/><circle cx="197.0" cy="901.5" r="1.1"/><circle cx="282.8" cy="847.5" r="1.1"/><circle cx="190.5" cy="933.4" r="1.1"/><circle cx="234.4" cy="904.1" r="1.1"/><circle cx="227.6" cy="939.2" r="1.1"/><circle cx="268.7" cy="887.8" r="1.1"/><circle cx="228.4" cy="883.3" r="1.1"/><circle cx="210.2" cy="886.1" r="1.1"/><circle cx="217.7" cy="876.0" r="1.1"/><circle cx="215.3" cy="879.2" r="1.1"/><circle cx="219.9" cy="827.9" r="1.1"/><circle cx="335.0" cy="830.1" r="1.1"/><circle cx="168.0" cy="883.6" r="1.1"/><circle cx="154.2" cy="902.5" r="1.1"/><circle cx="155.0" cy="938.7" r="1.1"/><circle cx="228.7" cy="902.8" r="1.1"/><circle cx="223.2" cy="910.1" r="1.1"/><circle cx="289.8" cy="850.2" r="1.1"/><circle cx="282.1" cy="860.7" r="1.1"/><circle cx="149.6" cy="899.4" r="1.1"/><circle cx="246.9" cy="865.2" r="1.1"/><circle cx="165.5" cy="913.3" r="1.1"/><circle cx="280.6" cy="889.3" r="1.1"/><circle cx="186.6" cy="879.0" r="1.1"/><circle cx="190.1" cy="874.4" r="1.1"/><circle cx="191.6" cy="872.3" r="1.1"/><circle cx="187.6" cy="904.8" r="1.1"/><circle cx="203.3" cy="883.5" r="1.1"/><circle cx="258.0" cy="896.8" r="1.1"/><circle cx="261.3" cy="892.1" r="1.1"/><circle cx="153.4" cy="926.2" r="1.1"/><circle cx="173.4" cy="904.7" r="1.1"/><circle cx="161.2" cy="921.3" r="1.1"/><circle cx="235.2" cy="881.8" r="1.1"/><circle cx="236.8" cy="879.5" r="1.1"/><circle cx="284.2" cy="901.7" r="1.1"/><circle cx="181.1" cy="903.8" r="1.1"/><circle cx="179.7" cy="905.7" r="1.1"/><circle cx="146.0" cy="882.0" r="1.1"/><circle cx="144.3" cy="884.4" r="1.1"/><circle cx="141.5" cy="888.2" r="1.1"/><circle cx="213.1" cy="841.9" r="1.1"/><circle cx="299.6" cy="934.6" r="1.1"/><circle cx="296.9" cy="865.3" r="1.1"/><circle cx="181.0" cy="866.8" r="1.1"/><circle cx="175.3" cy="898.4" r="1.1"/><circle cx="175.7" cy="898.0" r="1.1"/><circle cx="172.0" cy="903.0" r="1.1"/><circle cx="168.8" cy="931.1" r="1.1"/><circle cx="253.3" cy="883.9" r="1.1"/><circle cx="271.6" cy="859.0" r="1.1"/><circle cx="164.0" cy="884.4" r="1.1"/><circle cx="267.1" cy="850.6" r="1.1"/><circle cx="270.4" cy="846.1" r="1.1"/><circle cx="258.6" cy="882.4" r="1.1"/><circle cx="168.5" cy="909.5" r="1.1"/><circle cx="235.3" cy="892.3" r="1.1"/><circle cx="208.7" cy="872.3" r="1.1"/><circle cx="205.7" cy="876.5" r="1.1"/><circle cx="204.6" cy="878.0" r="1.1"/><circle cx="308.7" cy="849.1" r="1.1"/><circle cx="305.6" cy="853.4" r="1.1"/><circle cx="156.0" cy="895.4" r="1.1"/><circle cx="170.7" cy="875.3" r="1.1"/><circle cx="159.8" cy="890.0" r="1.1"/><circle cx="215.0" cy="908.4" r="1.1"/><circle cx="219.9" cy="901.8" r="1.1"/><circle cx="218.5" cy="875.3" r="1.1"/><circle cx="224.6" cy="867.1" r="1.1"/><circle cx="257.4" cy="841.9" r="1.1"/><circle cx="330.0" cy="828.1" r="1.1"/><circle cx="271.2" cy="886.8" r="1.1"/><circle cx="270.9" cy="887.0" r="1.1"/><circle cx="245.8" cy="858.1" r="1.1"/><circle cx="112.2" cy="906.7" r="1.1"/><circle cx="155.2" cy="947.0" r="1.1"/><circle cx="242.9" cy="850.7" r="1.1"/><circle cx="152.3" cy="851.6" r="1.1"/><circle cx="209.0" cy="889.5" r="1.1"/><circle cx="205.8" cy="879.5" r="1.1"/><circle cx="161.6" cy="950.5" r="1.1"/><circle cx="312.7" cy="830.3" r="1.1"/><circle cx="202.2" cy="901.4" r="1.1"/><circle cx="223.7" cy="872.1" r="1.1"/><circle cx="238.2" cy="883.6" r="1.1"/><circle cx="253.0" cy="863.6" r="1.1"/><circle cx="237.4" cy="884.7" r="1.1"/><circle cx="231.6" cy="862.0" r="1.1"/><circle cx="236.7" cy="855.0" r="1.1"/><circle cx="255.1" cy="830.2" r="1.1"/><circle cx="129.6" cy="931.5" r="1.1"/><circle cx="145.6" cy="909.7" r="1.1"/><circle cx="272.4" cy="863.3" r="1.1"/><circle cx="295.6" cy="831.8" r="1.1"/><circle cx="154.9" cy="870.7" r="1.1"/><circle cx="136.9" cy="868.9" r="1.1"/><circle cx="134.6" cy="872.0" r="1.1"/><circle cx="164.7" cy="942.1" r="1.1"/><circle cx="169.6" cy="935.2" r="1.1"/><circle cx="205.2" cy="923.5" r="1.1"/><circle cx="244.4" cy="848.3" r="1.1"/><circle cx="250.2" cy="840.3" r="1.1"/><circle cx="156.8" cy="903.8" r="1.1"/><circle cx="149.9" cy="886.7" r="1.1"/><circle cx="154.6" cy="880.4" r="1.1"/><circle cx="208.7" cy="870.5" r="1.1"/><circle cx="209.5" cy="860.6" r="1.1"/><circle cx="224.6" cy="840.3" r="1.1"/><circle cx="144.4" cy="921.6" r="1.1"/><circle cx="186.6" cy="819.5" r="1.1"/><circle cx="234.5" cy="942.3" r="1.1"/><circle cx="116.2" cy="905.2" r="1.1"/><circle cx="110.3" cy="913.1" r="1.1"/><circle cx="222.1" cy="912.6" r="1.1"/><circle cx="148.9" cy="927.2" r="1.1"/><circle cx="242.4" cy="859.4" r="1.1"/><circle cx="288.9" cy="857.0" r="1.1"/><circle cx="278.5" cy="871.1" r="1.1"/><circle cx="240.6" cy="863.3" r="1.1"/><circle cx="238.4" cy="866.3" r="1.1"/><circle cx="249.7" cy="850.8" r="1.1"/><circle cx="276.9" cy="898.7" r="1.1"/><circle cx="276.6" cy="898.9" r="1.1"/><circle cx="255.6" cy="861.9" r="1.1"/><circle cx="246.9" cy="873.6" r="1.1"/><circle cx="265.5" cy="837.5" r="1.1"/><circle cx="235.3" cy="878.5" r="1.1"/><circle cx="230.8" cy="884.6" r="1.1"/><circle cx="220.0" cy="899.0" r="1.1"/><circle cx="218.4" cy="901.3" r="1.1"/><circle cx="164.1" cy="872.5" r="1.1"/><circle cx="170.1" cy="864.6" r="1.1"/><circle cx="209.5" cy="859.7" r="1.1"/><circle cx="197.4" cy="871.3" r="1.1"/><circle cx="217.9" cy="843.3" r="1.1"/><circle cx="287.9" cy="849.3" r="1.1"/><circle cx="168.8" cy="875.0" r="1.1"/><circle cx="169.6" cy="873.9" r="1.1"/><circle cx="259.9" cy="853.9" r="1.1"/><circle cx="195.2" cy="884.8" r="1.1"/><circle cx="229.8" cy="888.9" r="1.1"/><circle cx="136.1" cy="921.9" r="1.1"/><circle cx="143.6" cy="911.7" r="1.1"/><circle cx="246.8" cy="931.5" r="1.1"/><circle cx="247.1" cy="931.0" r="1.1"/><circle cx="241.7" cy="818.7" r="1.1"/><circle cx="122.7" cy="914.8" r="1.1"/><circle cx="129.6" cy="905.5" r="1.1"/><circle cx="107.0" cy="903.1" r="1.1"/><circle cx="119.3" cy="886.7" r="1.1"/><circle cx="134.0" cy="866.6" r="1.1"/><circle cx="187.2" cy="900.3" r="1.1"/><circle cx="278.5" cy="893.2" r="1.1"/><circle cx="284.2" cy="885.5" r="1.1"/><circle cx="293.8" cy="864.2" r="1.1"/><circle cx="195.6" cy="835.9" r="1.1"/><circle cx="269.0" cy="840.3" r="1.1"/><circle cx="244.6" cy="873.6" r="1.1"/><circle cx="251.6" cy="939.6" r="1.1"/><circle cx="172.8" cy="899.3" r="1.1"/><circle cx="219.0" cy="914.2" r="1.1"/><circle cx="193.5" cy="948.7" r="1.1"/><circle cx="148.9" cy="896.2" r="1.1"/><circle cx="137.6" cy="911.5" r="1.1"/><circle cx="152.4" cy="891.6" r="1.1"/><circle cx="287.5" cy="853.1" r="1.1"/><circle cx="280.3" cy="862.7" r="1.1"/><circle cx="331.2" cy="899.2" r="1.1"/><circle cx="316.3" cy="919.4" r="1.1"/><circle cx="144.4" cy="949.6" r="1.1"/><circle cx="159.7" cy="928.9" r="1.1"/><circle cx="290.1" cy="850.5" r="1.1"/><circle cx="211.9" cy="934.1" r="1.1"/><circle cx="177.4" cy="866.8" r="1.1"/><circle cx="148.0" cy="906.8" r="1.1"/><circle cx="233.3" cy="879.8" r="1.1"/><circle cx="213.8" cy="867.0" r="1.1"/><circle cx="264.0" cy="859.4" r="1.1"/><circle cx="241.3" cy="890.3" r="1.1"/><circle cx="268.9" cy="852.9" r="1.1"/><circle cx="238.4" cy="874.2" r="1.1"/><circle cx="213.1" cy="873.9" r="1.1"/><circle cx="203.7" cy="886.7" r="1.1"/><circle cx="135.0" cy="943.6" r="1.1"/><circle cx="120.8" cy="847.7" r="1.1"/><circle cx="104.7" cy="869.6" r="1.1"/><circle cx="223.9" cy="858.1" r="1.1"/><circle cx="205.0" cy="883.8" r="1.1"/><circle cx="171.3" cy="871.0" r="1.1"/><circle cx="222.1" cy="865.0" r="1.1"/><circle cx="254.5" cy="876.5" r="1.1"/><circle cx="254.0" cy="877.2" r="1.1"/><circle cx="218.5" cy="947.1" r="1.1"/><circle cx="299.1" cy="854.3" r="1.1"/><circle cx="124.9" cy="923.4" r="1.1"/><circle cx="121.5" cy="928.1" r="1.1"/><circle cx="245.5" cy="857.4" r="1.1"/><circle cx="223.7" cy="886.9" r="1.1"/><circle cx="261.4" cy="892.7" r="1.1"/><circle cx="258.9" cy="896.2" r="1.1"/><circle cx="251.1" cy="906.9" r="1.1"/><circle cx="185.4" cy="914.4" r="1.1"/><circle cx="188.0" cy="910.8" r="1.1"/><circle cx="323.1" cy="864.8" r="1.1"/><circle cx="221.4" cy="853.1" r="1.1"/><circle cx="224.4" cy="848.9" r="1.1"/><circle cx="172.1" cy="866.8" r="1.1"/><circle cx="187.6" cy="845.9" r="1.1"/><circle cx="313.1" cy="875.1" r="1.1"/><circle cx="330.3" cy="852.0" r="1.1"/><circle cx="223.7" cy="833.8" r="1.1"/><circle cx="225.0" cy="832.1" r="1.1"/><circle cx="202.9" cy="898.4" r="1.1"/><circle cx="197.7" cy="905.4" r="1.1"/><circle cx="182.3" cy="874.3" r="1.1"/><circle cx="258.2" cy="858.0" r="1.1"/><circle cx="259.6" cy="856.1" r="1.1"/><circle cx="133.9" cy="850.2" r="1.1"/><circle cx="126.5" cy="860.2" r="1.1"/><circle cx="221.7" cy="884.2" r="1.1"/><circle cx="220.0" cy="886.4" r="1.1"/><circle cx="161.5" cy="915.1" r="1.1"/><circle cx="161.2" cy="915.4" r="1.1"/><circle cx="208.4" cy="863.5" r="1.1"/><circle cx="253.4" cy="834.9" r="1.1"/><circle cx="217.4" cy="898.0" r="1.1"/><circle cx="133.1" cy="899.3" r="1.1"/><circle cx="138.7" cy="891.7" r="1.1"/><circle cx="305.6" cy="819.5" r="1.1"/><circle cx="228.1" cy="866.2" r="1.1"/><circle cx="222.4" cy="873.9" r="1.1"/><circle cx="188.8" cy="884.7" r="1.1"/><circle cx="250.9" cy="860.8" r="1.1"/><circle cx="218.4" cy="861.6" r="1.1"/><circle cx="214.2" cy="867.3" r="1.1"/><circle cx="172.7" cy="891.4" r="1.1"/><circle cx="106.6" cy="891.1" r="1.1"/><circle cx="108.1" cy="889.0" r="1.1"/><circle cx="108.5" cy="888.5" r="1.1"/><circle cx="144.5" cy="898.7" r="1.1"/><circle cx="141.6" cy="902.6" r="1.1"/><circle cx="157.6" cy="880.9" r="1.1"/><circle cx="137.4" cy="931.1" r="1.1"/><circle cx="233.3" cy="834.1" r="1.1"/><circle cx="240.0" cy="825.0" r="1.1"/><circle cx="191.9" cy="850.8" r="1.1"/><circle cx="188.7" cy="855.2" r="1.1"/><circle cx="192.3" cy="850.2" r="1.1"/><circle cx="236.2" cy="888.4" r="1.1"/><circle cx="193.9" cy="894.1" r="1.1"/><circle cx="198.1" cy="888.5" r="1.1"/><circle cx="200.1" cy="885.7" r="1.1"/><circle cx="155.7" cy="878.0" r="1.1"/><circle cx="158.3" cy="874.5" r="1.1"/><circle cx="164.3" cy="866.4" r="1.1"/><circle cx="171.6" cy="913.1" r="1.1"/><circle cx="128.4" cy="890.2" r="1.1"/><circle cx="141.5" cy="882.5" r="1.1"/><circle cx="135.3" cy="890.9" r="1.1"/><circle cx="139.1" cy="885.7" r="1.1"/><circle cx="199.3" cy="887.9" r="1.1"/><circle cx="212.7" cy="869.8" r="1.1"/><circle cx="215.7" cy="865.7" r="1.1"/><circle cx="211.2" cy="860.4" r="1.1"/><circle cx="205.9" cy="867.4" r="1.1"/><circle cx="226.2" cy="914.5" r="1.1"/><circle cx="290.9" cy="864.2" r="1.1"/><circle cx="227.0" cy="904.8" r="1.1"/><circle cx="238.9" cy="888.8" r="1.1"/><circle cx="118.0" cy="911.5" r="1.1"/><circle cx="187.4" cy="869.8" r="1.1"/><circle cx="193.2" cy="897.6" r="1.1"/><circle cx="170.9" cy="915.7" r="1.1"/><circle cx="199.2" cy="870.1" r="1.1"/><circle cx="240.3" cy="832.9" r="1.1"/><circle cx="214.5" cy="876.2" r="1.1"/><circle cx="217.8" cy="871.9" r="1.1"/><circle cx="212.4" cy="879.1" r="1.1"/><circle cx="150.2" cy="937.2" r="1.1"/><circle cx="151.6" cy="935.3" r="1.1"/><circle cx="218.1" cy="902.0" r="1.1"/><circle cx="217.8" cy="902.4" r="1.1"/><circle cx="193.8" cy="885.2" r="1.1"/><circle cx="193.9" cy="885.1" r="1.1"/><circle cx="197.0" cy="862.5" r="1.1"/><circle cx="196.0" cy="863.9" r="1.1"/><circle cx="203.4" cy="853.9" r="1.1"/><circle cx="220.7" cy="910.2" r="1.1"/><circle cx="208.8" cy="870.1" r="1.1"/><circle cx="208.7" cy="870.1" r="1.1"/><circle cx="198.1" cy="884.7" r="1.1"/><circle cx="195.0" cy="882.4" r="1.1"/><circle cx="188.8" cy="890.9" r="1.1"/><circle cx="192.1" cy="886.4" r="1.1"/><circle cx="255.3" cy="840.2" r="1.1"/><circle cx="255.1" cy="837.0" r="1.1"/><circle cx="252.4" cy="882.0" r="1.1"/><circle cx="258.4" cy="874.0" r="1.1"/><circle cx="255.7" cy="877.6" r="1.1"/><circle cx="137.2" cy="875.3" r="1.1"/><circle cx="132.0" cy="882.5" r="1.1"/><circle cx="174.5" cy="892.0" r="1.1"/><circle cx="214.8" cy="859.0" r="1.1"/><circle cx="213.8" cy="885.6" r="1.1"/><circle cx="237.5" cy="853.5" r="1.1"/><circle cx="223.5" cy="872.7" r="1.1"/><circle cx="197.4" cy="931.0" r="1.1"/><circle cx="163.0" cy="902.7" r="1.1"/><circle cx="220.1" cy="897.0" r="1.1"/><circle cx="217.9" cy="899.9" r="1.1"/><circle cx="215.3" cy="903.5" r="1.1"/><circle cx="172.7" cy="901.0" r="1.1"/><circle cx="162.2" cy="915.3" r="1.1"/><circle cx="146.0" cy="920.2" r="1.1"/><circle cx="220.1" cy="878.2" r="1.1"/><circle cx="226.5" cy="869.6" r="1.1"/><circle cx="198.8" cy="895.4" r="1.1"/><circle cx="202.6" cy="890.1" r="1.1"/><circle cx="241.3" cy="870.0" r="1.1"/><circle cx="138.9" cy="885.4" r="1.1"/><circle cx="164.1" cy="871.0" r="1.1"/><circle cx="172.5" cy="859.6" r="1.1"/><circle cx="315.1" cy="823.9" r="1.1"/><circle cx="300.9" cy="843.3" r="1.1"/><circle cx="113.6" cy="900.6" r="1.1"/><circle cx="134.7" cy="888.3" r="1.1"/><circle cx="196.3" cy="826.7" r="1.1"/><circle cx="289.0" cy="847.0" r="1.1"/><circle cx="288.7" cy="847.5" r="1.1"/><circle cx="281.7" cy="848.6" r="1.1"/><circle cx="290.7" cy="836.3" r="1.1"/><circle cx="269.3" cy="865.5" r="1.1"/><circle cx="191.0" cy="924.8" r="1.1"/><circle cx="128.2" cy="876.7" r="1.1"/><circle cx="147.4" cy="893.5" r="1.1"/><circle cx="164.5" cy="916.3" r="1.1"/><circle cx="152.8" cy="932.3" r="1.1"/><circle cx="232.6" cy="929.4" r="1.1"/><circle cx="176.5" cy="900.1" r="1.1"/><circle cx="266.2" cy="899.0" r="1.1"/><circle cx="218.9" cy="893.7" r="1.1"/><circle cx="211.0" cy="904.3" r="1.1"/><circle cx="210.6" cy="904.8" r="1.1"/><circle cx="127.3" cy="917.8" r="1.1"/><circle cx="131.3" cy="912.3" r="1.1"/><circle cx="139.7" cy="901.0" r="1.1"/><circle cx="299.1" cy="837.9" r="1.1"/><circle cx="286.9" cy="854.2" r="1.1"/><circle cx="308.0" cy="857.2" r="1.1"/><circle cx="269.3" cy="845.6" r="1.1"/><circle cx="245.7" cy="877.5" r="1.1"/><circle cx="269.7" cy="845.0" r="1.1"/><circle cx="302.5" cy="857.9" r="1.1"/><circle cx="296.6" cy="866.1" r="1.1"/><circle cx="212.4" cy="863.6" r="1.1"/><circle cx="218.5" cy="855.5" r="1.1"/><circle cx="237.5" cy="912.3" r="1.1"/><circle cx="261.8" cy="846.9" r="1.1"/><circle cx="245.4" cy="898.5" r="1.1"/><circle cx="179.0" cy="919.5" r="1.1"/><circle cx="175.7" cy="923.9" r="1.1"/><circle cx="211.7" cy="828.2" r="1.1"/><circle cx="191.7" cy="855.4" r="1.1"/><circle cx="256.4" cy="904.1" r="1.1"/><circle cx="262.0" cy="896.7" r="1.1"/><circle cx="298.1" cy="860.5" r="1.1"/><circle cx="301.6" cy="855.8" r="1.1"/><circle cx="142.6" cy="917.7" r="1.1"/><circle cx="135.1" cy="927.9" r="1.1"/><circle cx="330.5" cy="875.2" r="1.1"/><circle cx="275.1" cy="878.1" r="1.1"/><circle cx="172.0" cy="911.6" r="1.1"/><circle cx="179.4" cy="901.4" r="1.1"/><circle cx="181.2" cy="899.1" r="1.1"/><circle cx="134.3" cy="920.8" r="1.1"/><circle cx="137.6" cy="916.3" r="1.1"/><circle cx="144.9" cy="906.4" r="1.1"/><circle cx="191.3" cy="906.2" r="1.1"/><circle cx="301.0" cy="902.4" r="1.1"/><circle cx="302.5" cy="900.3" r="1.1"/><circle cx="183.2" cy="883.0" r="1.1"/><circle cx="172.0" cy="898.2" r="1.1"/><circle cx="188.0" cy="876.4" r="1.1"/><circle cx="195.0" cy="867.4" r="1.1"/><circle cx="186.9" cy="878.5" r="1.1"/><circle cx="210.3" cy="832.5" r="1.1"/><circle cx="201.9" cy="844.0" r="1.1"/><circle cx="203.3" cy="842.2" r="1.1"/><circle cx="221.7" cy="862.1" r="1.1"/><circle cx="191.0" cy="892.3" r="1.1"/><circle cx="188.7" cy="895.5" r="1.1"/><circle cx="205.5" cy="872.6" r="1.1"/><circle cx="252.6" cy="890.4" r="1.1"/><circle cx="181.5" cy="885.9" r="1.1"/><circle cx="128.0" cy="899.0" r="1.1"/><circle cx="120.1" cy="879.7" r="1.1"/><circle cx="121.3" cy="878.0" r="1.1"/><circle cx="132.7" cy="862.6" r="1.1"/><circle cx="182.6" cy="876.1" r="1.1"/><circle cx="193.2" cy="861.7" r="1.1"/><circle cx="256.9" cy="823.2" r="1.1"/><circle cx="267.1" cy="865.8" r="1.1"/><circle cx="131.3" cy="897.7" r="1.1"/><circle cx="135.3" cy="892.3" r="1.1"/><circle cx="207.3" cy="876.4" r="1.1"/><circle cx="219.3" cy="860.1" r="1.1"/><circle cx="183.2" cy="939.3" r="1.1"/><circle cx="190.8" cy="895.2" r="1.1"/><circle cx="181.9" cy="859.5" r="1.1"/><circle cx="191.6" cy="846.5" r="1.1"/><circle cx="191.2" cy="847.1" r="1.1"/><circle cx="271.6" cy="875.9" r="1.1"/><circle cx="148.8" cy="925.4" r="1.1"/><circle cx="157.2" cy="913.9" r="1.1"/><circle cx="169.5" cy="894.8" r="1.1"/><circle cx="174.6" cy="887.8" r="1.1"/><circle cx="167.8" cy="897.0" r="1.1"/><circle cx="169.8" cy="917.6" r="1.1"/><circle cx="193.1" cy="885.8" r="1.1"/><circle cx="267.5" cy="850.5" r="1.1"/><circle cx="257.5" cy="864.1" r="1.1"/><circle cx="254.0" cy="869.0" r="1.1"/><circle cx="163.7" cy="950.5" r="1.1"/><circle cx="169.9" cy="942.0" r="1.1"/><circle cx="168.0" cy="944.6" r="1.1"/><circle cx="94.9" cy="883.8" r="1.1"/><circle cx="91.4" cy="888.3" r="1.1"/><circle cx="194.9" cy="866.9" r="1.1"/><circle cx="211.0" cy="845.0" r="1.1"/><circle cx="205.4" cy="864.6" r="1.1"/><circle cx="286.8" cy="860.9" r="1.1"/><circle cx="119.8" cy="851.7" r="1.1"/><circle cx="216.0" cy="859.6" r="1.1"/><circle cx="216.0" cy="859.6" r="1.1"/><circle cx="102.9" cy="880.9" r="1.1"/><circle cx="105.2" cy="877.6" r="1.1"/><circle cx="267.9" cy="869.1" r="1.1"/><circle cx="220.7" cy="854.4" r="1.1"/><circle cx="239.6" cy="828.7" r="1.1"/><circle cx="240.6" cy="878.0" r="1.1"/><circle cx="95.5" cy="883.0" r="1.1"/><circle cx="153.1" cy="866.4" r="1.1"/><circle cx="220.0" cy="867.6" r="1.1"/><circle cx="213.0" cy="877.0" r="1.1"/><circle cx="241.3" cy="887.8" r="1.1"/><circle cx="201.4" cy="886.9" r="1.1"/><circle cx="236.8" cy="851.3" r="1.1"/><circle cx="237.4" cy="850.6" r="1.1"/><circle cx="244.4" cy="841.0" r="1.1"/><circle cx="148.8" cy="868.7" r="1.1"/><circle cx="258.0" cy="940.6" r="1.1"/><circle cx="172.7" cy="916.2" r="1.1"/><circle cx="296.2" cy="873.1" r="1.1"/><circle cx="300.7" cy="866.9" r="1.1"/><circle cx="165.4" cy="919.4" r="1.1"/><circle cx="179.2" cy="900.8" r="1.1"/><circle cx="162.9" cy="923.0" r="1.1"/><circle cx="234.6" cy="844.2" r="1.1"/><circle cx="194.5" cy="945.0" r="1.1"/><circle cx="283.5" cy="848.5" r="1.1"/><circle cx="294.9" cy="832.9" r="1.1"/><circle cx="289.3" cy="840.6" r="1.1"/><circle cx="243.2" cy="857.6" r="1.1"/><circle cx="299.4" cy="871.8" r="1.1"/><circle cx="286.2" cy="889.7" r="1.1"/><circle cx="205.5" cy="859.4" r="1.1"/><circle cx="250.8" cy="862.2" r="1.1"/><circle cx="239.5" cy="888.1" r="1.1"/><circle cx="161.5" cy="862.9" r="1.1"/><circle cx="311.6" cy="827.4" r="1.1"/><circle cx="160.0" cy="911.7" r="1.1"/><circle cx="251.1" cy="877.4" r="1.1"/><circle cx="245.7" cy="884.7" r="1.1"/><circle cx="325.0" cy="829.4" r="1.1"/><circle cx="215.9" cy="836.9" r="1.1"/><circle cx="221.0" cy="829.8" r="1.1"/><circle cx="203.4" cy="897.0" r="1.1"/><circle cx="201.4" cy="899.9" r="1.1"/><circle cx="191.4" cy="871.9" r="1.1"/><circle cx="203.2" cy="855.9" r="1.1"/><circle cx="185.2" cy="880.4" r="1.1"/><circle cx="188.1" cy="894.5" r="1.1"/><circle cx="154.2" cy="875.3" r="1.1"/><circle cx="156.5" cy="872.1" r="1.1"/><circle cx="256.3" cy="899.4" r="1.1"/><circle cx="269.3" cy="881.8" r="1.1"/><circle cx="258.6" cy="896.2" r="1.1"/><circle cx="236.2" cy="847.4" r="1.1"/><circle cx="207.5" cy="886.4" r="1.1"/><circle cx="238.6" cy="844.0" r="1.1"/><circle cx="219.3" cy="861.9" r="1.1"/><circle cx="174.3" cy="924.6" r="1.1"/><circle cx="194.1" cy="897.7" r="1.1"/><circle cx="270.5" cy="867.4" r="1.1"/><circle cx="251.3" cy="893.6" r="1.1"/><circle cx="171.3" cy="932.9" r="1.1"/><circle cx="189.2" cy="908.5" r="1.1"/><circle cx="119.0" cy="905.8" r="1.1"/><circle cx="162.7" cy="877.1" r="1.1"/><circle cx="132.0" cy="904.8" r="1.1"/><circle cx="124.0" cy="915.7" r="1.1"/><circle cx="285.0" cy="865.1" r="1.1"/><circle cx="205.0" cy="879.3" r="1.1"/><circle cx="264.7" cy="825.9" r="1.1"/><circle cx="246.1" cy="851.2" r="1.1"/><circle cx="275.9" cy="843.3" r="1.1"/><circle cx="262.1" cy="862.0" r="1.1"/><circle cx="267.9" cy="876.9" r="1.1"/><circle cx="281.0" cy="849.3" r="1.1"/><circle cx="283.1" cy="846.4" r="1.1"/><circle cx="273.8" cy="859.0" r="1.1"/><circle cx="281.0" cy="904.7" r="1.1"/><circle cx="294.1" cy="851.0" r="1.1"/><circle cx="312.3" cy="826.5" r="1.1"/><circle cx="285.0" cy="863.4" r="1.1"/><circle cx="280.2" cy="917.0" r="1.1"/><circle cx="289.7" cy="904.1" r="1.1"/><circle cx="132.8" cy="907.2" r="1.1"/><circle cx="134.7" cy="904.6" r="1.1"/><circle cx="142.2" cy="894.5" r="1.1"/><circle cx="183.7" cy="907.9" r="1.1"/><circle cx="178.5" cy="915.0" r="1.1"/><circle cx="185.6" cy="905.3" r="1.1"/><circle cx="218.9" cy="856.9" r="1.1"/><circle cx="177.9" cy="892.3" r="1.1"/><circle cx="178.9" cy="891.0" r="1.1"/><circle cx="180.0" cy="889.6" r="1.1"/><circle cx="174.3" cy="906.8" r="1.1"/><circle cx="144.7" cy="936.4" r="1.1"/><circle cx="147.3" cy="932.8" r="1.1"/><circle cx="226.2" cy="866.4" r="1.1"/><circle cx="182.1" cy="881.0" r="1.1"/><circle cx="163.2" cy="906.9" r="1.1"/><circle cx="101.9" cy="873.6" r="1.1"/><circle cx="98.9" cy="877.8" r="1.1"/><circle cx="145.5" cy="937.1" r="1.1"/><circle cx="269.0" cy="840.8" r="1.1"/><circle cx="190.6" cy="890.6" r="1.1"/><circle cx="204.7" cy="871.5" r="1.1"/><circle cx="206.2" cy="869.5" r="1.1"/><circle cx="116.1" cy="914.2" r="1.1"/><circle cx="179.4" cy="904.6" r="1.1"/><circle cx="177.1" cy="907.8" r="1.1"/><circle cx="303.5" cy="816.5" r="1.1"/><circle cx="129.4" cy="908.6" r="1.1"/><circle cx="206.1" cy="895.0" r="1.1"/><circle cx="206.9" cy="894.0" r="1.1"/><circle cx="202.1" cy="900.4" r="1.1"/><circle cx="121.8" cy="887.5" r="1.1"/><circle cx="110.9" cy="902.2" r="1.1"/><circle cx="212.8" cy="859.3" r="1.1"/><circle cx="331.9" cy="837.1" r="1.1"/><circle cx="233.7" cy="910.2" r="1.1"/><circle cx="254.8" cy="881.5" r="1.1"/><circle cx="271.2" cy="886.0" r="1.1"/><circle cx="241.8" cy="867.5" r="1.1"/><circle cx="235.9" cy="875.4" r="1.1"/><circle cx="230.4" cy="883.0" r="1.1"/><circle cx="241.7" cy="867.0" r="1.1"/><circle cx="224.7" cy="890.1" r="1.1"/><circle cx="233.9" cy="889.6" r="1.1"/><circle cx="155.6" cy="888.2" r="1.1"/><circle cx="221.5" cy="881.9" r="1.1"/><circle cx="258.1" cy="848.8" r="1.1"/><circle cx="257.8" cy="849.3" r="1.1"/><circle cx="152.7" cy="909.1" r="1.1"/><circle cx="205.9" cy="908.7" r="1.1"/><circle cx="221.0" cy="888.2" r="1.1"/><circle cx="196.6" cy="874.2" r="1.1"/><circle cx="201.5" cy="867.5" r="1.1"/><circle cx="242.6" cy="862.8" r="1.1"/><circle cx="248.4" cy="854.9" r="1.1"/><circle cx="265.7" cy="831.5" r="1.1"/><circle cx="250.8" cy="886.7" r="1.1"/><circle cx="263.9" cy="869.1" r="1.1"/><circle cx="185.1" cy="883.8" r="1.1"/><circle cx="188.5" cy="879.0" r="1.1"/><circle cx="190.1" cy="877.0" r="1.1"/><circle cx="160.8" cy="911.3" r="1.1"/><circle cx="289.0" cy="875.5" r="1.1"/><circle cx="206.5" cy="867.5" r="1.1"/><circle cx="217.9" cy="851.9" r="1.1"/><circle cx="280.2" cy="880.3" r="1.1"/><circle cx="164.8" cy="910.8" r="1.1"/><circle cx="232.8" cy="868.1" r="1.1"/><circle cx="117.5" cy="917.2" r="1.1"/><circle cx="288.2" cy="888.0" r="1.1"/><circle cx="299.2" cy="872.9" r="1.1"/><circle cx="178.2" cy="836.2" r="1.1"/><circle cx="180.3" cy="833.3" r="1.1"/><circle cx="234.6" cy="856.1" r="1.1"/><circle cx="245.4" cy="841.6" r="1.1"/><circle cx="244.6" cy="879.5" r="1.1"/><circle cx="108.2" cy="897.7" r="1.1"/><circle cx="172.1" cy="880.8" r="1.1"/><circle cx="187.3" cy="860.2" r="1.1"/><circle cx="176.8" cy="874.4" r="1.1"/><circle cx="207.0" cy="878.2" r="1.1"/><circle cx="220.4" cy="860.1" r="1.1"/><circle cx="207.0" cy="897.0" r="1.1"/><circle cx="200.3" cy="906.2" r="1.1"/><circle cx="138.5" cy="932.9" r="1.1"/><circle cx="133.2" cy="939.8" r="1.1"/><circle cx="132.7" cy="911.7" r="1.1"/><circle cx="138.9" cy="903.1" r="1.1"/><circle cx="122.7" cy="925.2" r="1.1"/><circle cx="219.9" cy="860.6" r="1.1"/><circle cx="213.1" cy="869.7" r="1.1"/><circle cx="158.3" cy="881.5" r="1.1"/><circle cx="150.7" cy="930.7" r="1.1"/><circle cx="220.3" cy="888.3" r="1.1"/><circle cx="224.6" cy="882.4" r="1.1"/><circle cx="218.5" cy="890.8" r="1.1"/><circle cx="229.8" cy="891.6" r="1.1"/><circle cx="215.7" cy="910.8" r="1.1"/><circle cx="236.4" cy="882.6" r="1.1"/><circle cx="152.3" cy="925.2" r="1.1"/><circle cx="149.9" cy="928.4" r="1.1"/><circle cx="140.8" cy="940.7" r="1.1"/><circle cx="203.6" cy="823.9" r="1.1"/><circle cx="116.4" cy="901.0" r="1.1"/><circle cx="220.7" cy="835.0" r="1.1"/><circle cx="195.2" cy="869.6" r="1.1"/><circle cx="204.0" cy="857.7" r="1.1"/><circle cx="223.0" cy="899.2" r="1.1"/><circle cx="239.7" cy="876.6" r="1.1"/><circle cx="181.0" cy="893.3" r="1.1"/><circle cx="295.3" cy="825.9" r="1.1"/><circle cx="294.4" cy="827.3" r="1.1"/><circle cx="164.5" cy="919.6" r="1.1"/><circle cx="152.0" cy="936.8" r="1.1"/><circle cx="168.3" cy="918.6" r="1.1"/><circle cx="298.1" cy="879.9" r="1.1"/><circle cx="290.9" cy="889.7" r="1.1"/><circle cx="302.7" cy="873.8" r="1.1"/><circle cx="233.3" cy="831.0" r="1.1"/><circle cx="180.4" cy="929.8" r="1.1"/><circle cx="239.1" cy="896.8" r="1.1"/><circle cx="238.4" cy="897.8" r="1.1"/><circle cx="246.5" cy="886.7" r="1.1"/><circle cx="139.6" cy="940.1" r="1.1"/><circle cx="141.6" cy="937.4" r="1.1"/><circle cx="142.7" cy="935.9" r="1.1"/><circle cx="221.4" cy="853.9" r="1.1"/><circle cx="193.5" cy="875.4" r="1.1"/><circle cx="195.3" cy="873.1" r="1.1"/><circle cx="207.9" cy="898.8" r="1.1"/><circle cx="205.9" cy="881.8" r="1.1"/><circle cx="209.7" cy="876.8" r="1.1"/><circle cx="223.0" cy="847.4" r="1.1"/><circle cx="240.8" cy="858.7" r="1.1"/><circle cx="256.6" cy="837.4" r="1.1"/><circle cx="245.9" cy="867.3" r="1.1"/><circle cx="148.4" cy="918.8" r="1.1"/><circle cx="232.8" cy="917.2" r="1.1"/><circle cx="194.2" cy="885.0" r="1.1"/><circle cx="171.0" cy="927.3" r="1.1"/><circle cx="163.0" cy="938.1" r="1.1"/><circle cx="181.8" cy="912.8" r="1.1"/><circle cx="155.8" cy="923.0" r="1.1"/><circle cx="169.4" cy="911.6" r="1.1"/><circle cx="264.3" cy="859.7" r="1.1"/><circle cx="242.9" cy="878.4" r="1.1"/><circle cx="240.2" cy="882.2" r="1.1"/><circle cx="299.2" cy="840.9" r="1.1"/><circle cx="269.7" cy="890.9" r="1.1"/><circle cx="250.6" cy="916.6" r="1.1"/><circle cx="198.2" cy="875.2" r="1.1"/><circle cx="187.0" cy="890.4" r="1.1"/><circle cx="194.3" cy="880.6" r="1.1"/><circle cx="175.3" cy="897.7" r="1.1"/><circle cx="204.6" cy="831.4" r="1.1"/><circle cx="220.6" cy="918.9" r="1.1"/><circle cx="219.0" cy="921.0" r="1.1"/><circle cx="152.1" cy="935.3" r="1.1"/><circle cx="167.3" cy="914.7" r="1.1"/><circle cx="153.8" cy="933.1" r="1.1"/><circle cx="206.3" cy="851.4" r="1.1"/><circle cx="134.7" cy="897.9" r="1.1"/><circle cx="129.5" cy="905.2" r="1.1"/><circle cx="138.3" cy="893.1" r="1.1"/><circle cx="243.1" cy="828.7" r="1.1"/><circle cx="141.8" cy="922.3" r="1.1"/><circle cx="156.3" cy="918.4" r="1.1"/><circle cx="164.7" cy="906.9" r="1.1"/><circle cx="132.9" cy="898.0" r="1.1"/><circle cx="237.0" cy="916.0" r="1.1"/><circle cx="213.0" cy="852.6" r="1.1"/><circle cx="214.9" cy="850.0" r="1.1"/><circle cx="224.1" cy="837.4" r="1.1"/><circle cx="157.1" cy="921.1" r="1.1"/><circle cx="216.8" cy="853.8" r="1.1"/><circle cx="226.2" cy="841.1" r="1.1"/><circle cx="322.3" cy="864.8" r="1.1"/><circle cx="312.3" cy="878.2" r="1.1"/><circle cx="267.3" cy="873.3" r="1.1"/><circle cx="170.2" cy="926.7" r="1.1"/><circle cx="141.4" cy="889.8" r="1.1"/><circle cx="232.2" cy="898.3" r="1.1"/><circle cx="233.3" cy="896.8" r="1.1"/><circle cx="236.3" cy="892.6" r="1.1"/><circle cx="271.8" cy="884.8" r="1.1"/><circle cx="235.2" cy="914.5" r="1.1"/><circle cx="303.2" cy="856.7" r="1.1"/><circle cx="200.0" cy="843.6" r="1.1"/><circle cx="170.3" cy="944.1" r="1.1"/><circle cx="180.8" cy="929.9" r="1.1"/><circle cx="233.7" cy="869.9" r="1.1"/><circle cx="291.8" cy="860.7" r="1.1"/><circle cx="278.7" cy="878.5" r="1.1"/><circle cx="191.7" cy="903.7" r="1.1"/><circle cx="110.0" cy="888.1" r="1.1"/><circle cx="104.4" cy="895.7" r="1.1"/><circle cx="177.4" cy="939.2" r="1.1"/><circle cx="187.4" cy="897.6" r="1.1"/><circle cx="197.7" cy="883.8" r="1.1"/><circle cx="147.4" cy="908.8" r="1.1"/><circle cx="157.1" cy="895.7" r="1.1"/><circle cx="214.9" cy="916.2" r="1.1"/><circle cx="185.0" cy="927.7" r="1.1"/><circle cx="187.6" cy="846.4" r="1.1"/><circle cx="179.7" cy="857.2" r="1.1"/><circle cx="289.7" cy="914.5" r="1.1"/><circle cx="220.1" cy="922.5" r="1.1"/><circle cx="271.8" cy="929.6" r="1.1"/><circle cx="199.3" cy="887.2" r="1.1"/><circle cx="220.6" cy="872.6" r="1.1"/><circle cx="235.6" cy="852.2" r="1.1"/><circle cx="237.5" cy="849.7" r="1.1"/><circle cx="164.1" cy="908.6" r="1.1"/><circle cx="163.4" cy="909.5" r="1.1"/><circle cx="287.2" cy="896.2" r="1.1"/><circle cx="296.7" cy="883.3" r="1.1"/><circle cx="291.9" cy="889.9" r="1.1"/><circle cx="123.3" cy="871.6" r="1.1"/><circle cx="118.6" cy="877.9" r="1.1"/><circle cx="192.8" cy="859.0" r="1.1"/><circle cx="187.0" cy="866.7" r="1.1"/><circle cx="148.0" cy="934.8" r="1.1"/><circle cx="156.5" cy="923.2" r="1.1"/><circle cx="161.6" cy="916.3" r="1.1"/><circle cx="128.9" cy="906.2" r="1.1"/><circle cx="296.2" cy="865.7" r="1.1"/><circle cx="226.2" cy="856.0" r="1.1"/><circle cx="108.7" cy="895.4" r="1.1"/><circle cx="201.5" cy="911.6" r="1.1"/><circle cx="210.5" cy="899.6" r="1.1"/><circle cx="202.1" cy="910.9" r="1.1"/><circle cx="178.1" cy="861.7" r="1.1"/><circle cx="121.2" cy="864.8" r="1.1"/><circle cx="107.4" cy="883.7" r="1.1"/><circle cx="114.6" cy="873.9" r="1.1"/><circle cx="109.2" cy="890.0" r="1.1"/><circle cx="137.5" cy="851.6" r="1.1"/><circle cx="113.1" cy="884.7" r="1.1"/><circle cx="185.2" cy="890.0" r="1.1"/><circle cx="181.4" cy="945.9" r="1.1"/><circle cx="164.7" cy="866.7" r="1.1"/><circle cx="325.2" cy="839.5" r="1.1"/><circle cx="236.4" cy="858.0" r="1.1"/><circle cx="230.5" cy="866.1" r="1.1"/><circle cx="160.8" cy="878.8" r="1.1"/><circle cx="246.9" cy="856.0" r="1.1"/><circle cx="248.8" cy="853.4" r="1.1"/><circle cx="187.6" cy="854.7" r="1.1"/><circle cx="172.5" cy="875.0" r="1.1"/><circle cx="204.3" cy="948.4" r="1.1"/><circle cx="230.1" cy="913.3" r="1.1"/><circle cx="255.6" cy="861.7" r="1.1"/><circle cx="214.5" cy="885.7" r="1.1"/><circle cx="202.5" cy="902.1" r="1.1"/><circle cx="208.0" cy="894.6" r="1.1"/><circle cx="264.0" cy="877.6" r="1.1"/><circle cx="274.7" cy="863.3" r="1.1"/><circle cx="280.9" cy="854.9" r="1.1"/><circle cx="177.9" cy="916.4" r="1.1"/><circle cx="243.2" cy="865.9" r="1.1"/><circle cx="180.3" cy="859.5" r="1.1"/><circle cx="178.6" cy="861.8" r="1.1"/><circle cx="302.0" cy="857.7" r="1.1"/><circle cx="301.4" cy="858.6" r="1.1"/><circle cx="206.8" cy="909.0" r="1.1"/><circle cx="125.5" cy="934.5" r="1.1"/><circle cx="137.4" cy="945.2" r="1.1"/><circle cx="166.1" cy="902.8" r="1.1"/><circle cx="161.1" cy="909.5" r="1.1"/><circle cx="208.0" cy="835.4" r="1.1"/><circle cx="197.7" cy="849.3" r="1.1"/><circle cx="131.1" cy="929.4" r="1.1"/><circle cx="131.4" cy="929.2" r="1.1"/><circle cx="149.9" cy="922.0" r="1.1"/><circle cx="142.9" cy="881.8" r="1.1"/><circle cx="130.9" cy="898.2" r="1.1"/><circle cx="191.9" cy="933.5" r="1.1"/><circle cx="187.9" cy="939.0" r="1.1"/><circle cx="123.1" cy="909.7" r="1.1"/><circle cx="187.4" cy="853.4" r="1.1"/><circle cx="139.6" cy="915.8" r="1.1"/><circle cx="134.2" cy="923.1" r="1.1"/><circle cx="204.7" cy="872.9" r="1.1"/><circle cx="185.5" cy="898.8" r="1.1"/><circle cx="199.0" cy="880.6" r="1.1"/><circle cx="223.6" cy="870.6" r="1.1"/><circle cx="210.3" cy="888.5" r="1.1"/><circle cx="225.1" cy="868.5" r="1.1"/><circle cx="144.1" cy="883.2" r="1.1"/><circle cx="151.4" cy="873.4" r="1.1"/><circle cx="229.1" cy="857.7" r="1.1"/><circle cx="220.4" cy="869.5" r="1.1"/><circle cx="260.9" cy="927.7" r="1.1"/><circle cx="261.8" cy="926.3" r="1.1"/><circle cx="279.1" cy="902.9" r="1.1"/><circle cx="128.5" cy="886.7" r="1.1"/><circle cx="135.3" cy="877.7" r="1.1"/><circle cx="120.1" cy="898.3" r="1.1"/><circle cx="258.5" cy="918.0" r="1.1"/><circle cx="245.4" cy="923.3" r="1.1"/><circle cx="199.3" cy="889.2" r="1.1"/><circle cx="331.4" cy="861.0" r="1.1"/><circle cx="220.7" cy="916.1" r="1.1"/><circle cx="216.1" cy="862.7" r="1.1"/><circle cx="222.8" cy="845.3" r="1.1"/><circle cx="137.2" cy="910.1" r="1.1"/><circle cx="245.4" cy="889.7" r="1.1"/><circle cx="245.4" cy="889.7" r="1.1"/><circle cx="228.0" cy="913.3" r="1.1"/><circle cx="222.6" cy="915.2" r="1.1"/><circle cx="213.1" cy="928.1" r="1.1"/><circle cx="223.5" cy="914.1" r="1.1"/><circle cx="167.3" cy="937.9" r="1.1"/><circle cx="174.6" cy="927.8" r="1.1"/><circle cx="258.4" cy="881.5" r="1.1"/><circle cx="245.4" cy="899.0" r="1.1"/><circle cx="246.8" cy="860.8" r="1.1"/><circle cx="260.6" cy="842.0" r="1.1"/><circle cx="177.8" cy="899.3" r="1.1"/><circle cx="206.6" cy="873.8" r="1.1"/><circle cx="182.2" cy="906.9" r="1.1"/><circle cx="184.4" cy="892.6" r="1.1"/><circle cx="185.9" cy="890.5" r="1.1"/><circle cx="221.0" cy="859.5" r="1.1"/><circle cx="129.6" cy="876.3" r="1.1"/><circle cx="155.6" cy="875.1" r="1.1"/><circle cx="130.7" cy="909.0" r="1.1"/><circle cx="150.2" cy="930.4" r="1.1"/><circle cx="146.7" cy="934.9" r="1.1"/><circle cx="186.5" cy="868.8" r="1.1"/><circle cx="233.5" cy="888.3" r="1.1"/><circle cx="138.7" cy="915.1" r="1.1"/><circle cx="152.8" cy="896.0" r="1.1"/><circle cx="148.3" cy="896.2" r="1.1"/><circle cx="159.6" cy="880.8" r="1.1"/><circle cx="148.5" cy="895.8" r="1.1"/><circle cx="233.0" cy="846.8" r="1.1"/><circle cx="218.8" cy="866.0" r="1.1"/><circle cx="227.0" cy="851.2" r="1.1"/><circle cx="146.6" cy="910.4" r="1.1"/><circle cx="145.6" cy="911.7" r="1.1"/><circle cx="147.7" cy="915.5" r="1.1"/><circle cx="145.2" cy="918.9" r="1.1"/><circle cx="154.9" cy="905.7" r="1.1"/><circle cx="245.1" cy="869.9" r="1.1"/><circle cx="242.2" cy="873.7" r="1.1"/><circle cx="250.6" cy="913.4" r="1.1"/><circle cx="254.9" cy="907.6" r="1.1"/><circle cx="160.0" cy="908.4" r="1.1"/><circle cx="151.6" cy="919.9" r="1.1"/><circle cx="152.0" cy="877.0" r="1.1"/><circle cx="188.8" cy="865.8" r="1.1"/><circle cx="192.0" cy="870.1" r="1.1"/><circle cx="156.7" cy="879.7" r="1.1"/><circle cx="229.7" cy="845.5" r="1.1"/><circle cx="242.4" cy="828.2" r="1.1"/><circle cx="162.9" cy="927.9" r="1.1"/><circle cx="193.2" cy="868.9" r="1.1"/><circle cx="153.8" cy="878.5" r="1.1"/><circle cx="175.7" cy="848.9" r="1.1"/><circle cx="238.4" cy="873.7" r="1.1"/><circle cx="181.5" cy="898.2" r="1.1"/><circle cx="102.3" cy="894.3" r="1.1"/><circle cx="98.7" cy="899.3" r="1.1"/><circle cx="298.7" cy="862.5" r="1.1"/><circle cx="171.0" cy="908.5" r="1.1"/><circle cx="164.3" cy="917.7" r="1.1"/><circle cx="166.6" cy="914.5" r="1.1"/><circle cx="190.2" cy="916.9" r="1.1"/><circle cx="277.0" cy="886.9" r="1.1"/><circle cx="192.0" cy="849.9" r="1.1"/><circle cx="254.9" cy="845.6" r="1.1"/><circle cx="246.9" cy="856.5" r="1.1"/><circle cx="221.4" cy="885.7" r="1.1"/><circle cx="199.7" cy="915.0" r="1.1"/><circle cx="170.3" cy="859.3" r="1.1"/><circle cx="166.2" cy="865.0" r="1.1"/><circle cx="162.5" cy="870.0" r="1.1"/><circle cx="269.0" cy="836.5" r="1.1"/><circle cx="161.5" cy="915.5" r="1.1"/><circle cx="151.6" cy="928.9" r="1.1"/><circle cx="321.6" cy="849.0" r="1.1"/><circle cx="312.9" cy="868.2" r="1.1"/><circle cx="277.1" cy="850.5" r="1.1"/><circle cx="276.4" cy="851.3" r="1.1"/><circle cx="264.4" cy="867.6" r="1.1"/><circle cx="179.2" cy="869.3" r="1.1"/><circle cx="208.1" cy="896.5" r="1.1"/><circle cx="196.1" cy="912.8" r="1.1"/><circle cx="222.2" cy="871.7" r="1.1"/><circle cx="202.2" cy="898.7" r="1.1"/><circle cx="202.9" cy="897.8" r="1.1"/><circle cx="210.3" cy="880.6" r="1.1"/><circle cx="211.9" cy="878.5" r="1.1"/><circle cx="276.6" cy="861.0" r="1.1"/><circle cx="261.1" cy="882.0" r="1.1"/><circle cx="157.8" cy="889.7" r="1.1"/><circle cx="160.4" cy="886.1" r="1.1"/><circle cx="201.2" cy="842.6" r="1.1"/><circle cx="185.9" cy="863.3" r="1.1"/><circle cx="178.1" cy="873.9" r="1.1"/><circle cx="248.4" cy="848.4" r="1.1"/><circle cx="245.1" cy="853.0" r="1.1"/><circle cx="169.0" cy="878.1" r="1.1"/><circle cx="173.5" cy="872.1" r="1.1"/><circle cx="165.6" cy="864.1" r="1.1"/><circle cx="211.7" cy="876.2" r="1.1"/><circle cx="214.9" cy="871.9" r="1.1"/><circle cx="210.3" cy="878.0" r="1.1"/><circle cx="268.6" cy="946.7" r="1.1"/><circle cx="208.7" cy="866.7" r="1.1"/><circle cx="206.9" cy="869.2" r="1.1"/><circle cx="169.6" cy="884.9" r="1.1"/><circle cx="185.1" cy="881.8" r="1.1"/><circle cx="191.2" cy="873.6" r="1.1"/><circle cx="146.2" cy="891.1" r="1.1"/><circle cx="160.9" cy="876.0" r="1.1"/><circle cx="159.7" cy="877.6" r="1.1"/><circle cx="147.2" cy="894.6" r="1.1"/><circle cx="175.6" cy="863.9" r="1.1"/><circle cx="163.3" cy="851.0" r="1.1"/><circle cx="152.8" cy="865.1" r="1.1"/><circle cx="136.8" cy="942.6" r="1.1"/><circle cx="136.5" cy="943.1" r="1.1"/><circle cx="100.0" cy="896.8" r="1.1"/><circle cx="180.5" cy="936.7" r="1.1"/><circle cx="177.0" cy="941.6" r="1.1"/><circle cx="145.1" cy="863.3" r="1.1"/><circle cx="178.3" cy="916.5" r="1.1"/><circle cx="242.4" cy="883.4" r="1.1"/><circle cx="231.5" cy="927.0" r="1.1"/><circle cx="241.9" cy="912.7" r="1.1"/><circle cx="244.2" cy="909.8" r="1.1"/><circle cx="199.6" cy="908.3" r="1.1"/><circle cx="196.3" cy="888.0" r="1.1"/><circle cx="196.3" cy="888.1" r="1.1"/><circle cx="324.6" cy="881.3" r="1.1"/><circle cx="252.6" cy="820.3" r="1.1"/><circle cx="262.4" cy="838.7" r="1.1"/><circle cx="274.9" cy="821.6" r="1.1"/><circle cx="197.0" cy="885.5" r="1.1"/><circle cx="185.8" cy="900.9" r="1.1"/><circle cx="189.1" cy="896.2" r="1.1"/><circle cx="314.4" cy="846.8" r="1.1"/><circle cx="313.4" cy="848.1" r="1.1"/><circle cx="205.5" cy="909.1" r="1.1"/><circle cx="217.9" cy="892.3" r="1.1"/><circle cx="211.6" cy="900.9" r="1.1"/><circle cx="270.8" cy="835.9" r="1.1"/><circle cx="264.0" cy="845.1" r="1.1"/><circle cx="278.7" cy="825.2" r="1.1"/><circle cx="335.1" cy="840.1" r="1.1"/><circle cx="129.8" cy="874.6" r="1.1"/><circle cx="193.9" cy="870.6" r="1.1"/><circle cx="211.2" cy="847.2" r="1.1"/><circle cx="188.7" cy="881.1" r="1.1"/><circle cx="185.1" cy="885.9" r="1.1"/><circle cx="300.7" cy="880.7" r="1.1"/><circle cx="148.1" cy="882.7" r="1.1"/><circle cx="144.7" cy="887.3" r="1.1"/><circle cx="246.2" cy="875.3" r="1.1"/><circle cx="177.6" cy="872.2" r="1.1"/><circle cx="170.5" cy="881.9" r="1.1"/><circle cx="226.5" cy="893.5" r="1.1"/><circle cx="213.5" cy="893.5" r="1.1"/><circle cx="212.0" cy="895.5" r="1.1"/><circle cx="131.4" cy="931.5" r="1.1"/><circle cx="131.4" cy="931.5" r="1.1"/><circle cx="185.8" cy="850.9" r="1.1"/><circle cx="182.6" cy="855.2" r="1.1"/><circle cx="113.9" cy="918.5" r="1.1"/><circle cx="116.0" cy="915.7" r="1.1"/><circle cx="210.9" cy="905.8" r="1.1"/><circle cx="160.7" cy="883.0" r="1.1"/><circle cx="167.0" cy="874.4" r="1.1"/><circle cx="173.4" cy="865.8" r="1.1"/><circle cx="188.4" cy="899.7" r="1.1"/><circle cx="133.6" cy="882.6" r="1.1"/><circle cx="114.3" cy="908.9" r="1.1"/><circle cx="231.0" cy="882.9" r="1.1"/><circle cx="296.5" cy="880.2" r="1.1"/><circle cx="148.5" cy="825.1" r="1.1"/><circle cx="147.8" cy="826.1" r="1.1"/><circle cx="244.6" cy="872.6" r="1.1"/><circle cx="225.8" cy="898.1" r="1.1"/><circle cx="231.2" cy="890.8" r="1.1"/><circle cx="176.3" cy="915.5" r="1.1"/><circle cx="171.3" cy="922.3" r="1.1"/><circle cx="249.4" cy="894.9" r="1.1"/><circle cx="248.7" cy="895.9" r="1.1"/><circle cx="243.6" cy="874.8" r="1.1"/><circle cx="134.3" cy="917.3" r="1.1"/><circle cx="173.2" cy="902.9" r="1.1"/><circle cx="163.2" cy="916.4" r="1.1"/><circle cx="220.7" cy="858.6" r="1.1"/><circle cx="232.7" cy="842.4" r="1.1"/><circle cx="217.2" cy="863.3" r="1.1"/><circle cx="234.2" cy="888.2" r="1.1"/><circle cx="177.5" cy="837.1" r="1.1"/><circle cx="173.6" cy="842.5" r="1.1"/><circle cx="180.7" cy="833.0" r="1.1"/><circle cx="275.6" cy="932.3" r="1.1"/><circle cx="276.7" cy="930.8" r="1.1"/><circle cx="194.8" cy="903.3" r="1.1"/><circle cx="336.5" cy="889.9" r="1.1"/><circle cx="275.6" cy="856.0" r="1.1"/><circle cx="294.2" cy="830.8" r="1.1"/><circle cx="265.1" cy="820.9" r="1.1"/><circle cx="257.4" cy="865.4" r="1.1"/><circle cx="145.6" cy="911.1" r="1.1"/><circle cx="194.1" cy="881.3" r="1.1"/><circle cx="196.4" cy="878.0" r="1.1"/><circle cx="183.3" cy="895.9" r="1.1"/><circle cx="234.2" cy="881.5" r="1.1"/><circle cx="253.1" cy="856.0" r="1.1"/><circle cx="301.0" cy="858.5" r="1.1"/><circle cx="263.3" cy="845.2" r="1.1"/><circle cx="152.7" cy="907.7" r="1.1"/><circle cx="160.5" cy="897.0" r="1.1"/><circle cx="163.4" cy="893.2" r="1.1"/><circle cx="213.7" cy="872.2" r="1.1"/><circle cx="252.3" cy="914.3" r="1.1"/><circle cx="164.3" cy="893.2" r="1.1"/><circle cx="279.5" cy="855.1" r="1.1"/><circle cx="219.0" cy="873.6" r="1.1"/><circle cx="244.3" cy="847.3" r="1.1"/><circle cx="246.9" cy="843.9" r="1.1"/><circle cx="313.1" cy="896.8" r="1.1"/><circle cx="192.1" cy="898.4" r="1.1"/><circle cx="193.0" cy="897.2" r="1.1"/><circle cx="119.4" cy="896.4" r="1.1"/><circle cx="247.3" cy="881.6" r="1.1"/><circle cx="204.6" cy="944.0" r="1.1"/><circle cx="186.8" cy="871.3" r="1.1"/><circle cx="207.7" cy="885.4" r="1.1"/><circle cx="171.9" cy="914.9" r="1.1"/><circle cx="166.1" cy="922.8" r="1.1"/><circle cx="200.1" cy="932.7" r="1.1"/><circle cx="153.5" cy="914.1" r="1.1"/><circle cx="180.8" cy="927.3" r="1.1"/><circle cx="179.6" cy="929.2" r="1.1"/><circle cx="195.3" cy="907.7" r="1.1"/><circle cx="193.2" cy="884.3" r="1.1"/><circle cx="292.6" cy="831.0" r="1.1"/><circle cx="285.0" cy="841.3" r="1.1"/><circle cx="195.7" cy="839.7" r="1.1"/><circle cx="121.1" cy="897.2" r="1.1"/><circle cx="116.0" cy="904.2" r="1.1"/><circle cx="242.6" cy="885.6" r="1.1"/><circle cx="278.0" cy="856.4" r="1.1"/><circle cx="258.8" cy="903.0" r="1.1"/><circle cx="153.4" cy="914.3" r="1.1"/><circle cx="142.0" cy="929.6" r="1.1"/><circle cx="187.2" cy="899.0" r="1.1"/><circle cx="265.5" cy="850.6" r="1.1"/><circle cx="286.1" cy="822.6" r="1.1"/><circle cx="264.0" cy="835.8" r="1.1"/><circle cx="180.7" cy="916.7" r="1.1"/><circle cx="167.2" cy="930.8" r="1.1"/><circle cx="167.0" cy="905.3" r="1.1"/><circle cx="220.8" cy="888.8" r="1.1"/><circle cx="156.7" cy="876.5" r="1.1"/><circle cx="297.4" cy="823.5" r="1.1"/><circle cx="221.1" cy="871.4" r="1.1"/><circle cx="189.2" cy="925.3" r="1.1"/><circle cx="169.6" cy="901.4" r="1.1"/><circle cx="188.1" cy="876.4" r="1.1"/><circle cx="143.3" cy="845.8" r="1.1"/><circle cx="227.7" cy="890.6" r="1.1"/><circle cx="235.7" cy="850.6" r="1.1"/><circle cx="144.9" cy="887.6" r="1.1"/><circle cx="120.7" cy="922.4" r="1.1"/><circle cx="181.8" cy="905.8" r="1.1"/><circle cx="188.5" cy="896.6" r="1.1"/><circle cx="196.4" cy="923.4" r="1.1"/><circle cx="196.3" cy="923.6" r="1.1"/><circle cx="303.2" cy="852.7" r="1.1"/><circle cx="206.3" cy="874.8" r="1.1"/><circle cx="172.7" cy="907.0" r="1.1"/><circle cx="108.8" cy="910.7" r="1.1"/><circle cx="127.4" cy="916.3" r="1.1"/><circle cx="197.9" cy="894.6" r="1.1"/><circle cx="203.4" cy="887.1" r="1.1"/><circle cx="168.0" cy="941.1" r="1.1"/><circle cx="164.7" cy="945.7" r="1.1"/><circle cx="247.9" cy="839.3" r="1.1"/><circle cx="239.7" cy="850.2" r="1.1"/><circle cx="184.8" cy="918.4" r="1.1"/><circle cx="251.7" cy="909.4" r="1.1"/><circle cx="248.6" cy="913.7" r="1.1"/><circle cx="246.2" cy="916.8" r="1.1"/><circle cx="285.8" cy="861.7" r="1.1"/><circle cx="295.2" cy="848.9" r="1.1"/><circle cx="193.7" cy="897.9" r="1.1"/><circle cx="186.6" cy="890.6" r="1.1"/><circle cx="204.7" cy="923.3" r="1.1"/><circle cx="234.2" cy="899.0" r="1.1"/><circle cx="254.6" cy="871.2" r="1.1"/><circle cx="110.6" cy="888.1" r="1.1"/><circle cx="111.7" cy="886.5" r="1.1"/><circle cx="126.6" cy="910.1" r="1.1"/><circle cx="227.5" cy="845.6" r="1.1"/><circle cx="234.4" cy="836.3" r="1.1"/><circle cx="229.1" cy="843.5" r="1.1"/><circle cx="271.2" cy="890.0" r="1.1"/><circle cx="267.3" cy="895.3" r="1.1"/><circle cx="111.8" cy="884.4" r="1.1"/><circle cx="260.6" cy="859.6" r="1.1"/><circle cx="260.7" cy="859.4" r="1.1"/><circle cx="152.3" cy="906.2" r="1.1"/><circle cx="159.8" cy="896.1" r="1.1"/><circle cx="140.9" cy="908.2" r="1.1"/><circle cx="136.1" cy="914.7" r="1.1"/><circle cx="173.4" cy="880.9" r="1.1"/><circle cx="261.5" cy="902.6" r="1.1"/><circle cx="163.3" cy="868.3" r="1.1"/><circle cx="163.4" cy="868.2" r="1.1"/><circle cx="189.7" cy="850.6" r="1.1"/><circle cx="270.4" cy="858.8" r="1.1"/><circle cx="200.4" cy="893.3" r="1.1"/><circle cx="237.1" cy="859.6" r="1.1"/><circle cx="247.7" cy="880.8" r="1.1"/><circle cx="202.1" cy="902.5" r="1.1"/><circle cx="242.9" cy="858.4" r="1.1"/><circle cx="139.3" cy="908.1" r="1.1"/><circle cx="233.1" cy="867.4" r="1.1"/><circle cx="248.6" cy="846.5" r="1.1"/><circle cx="231.3" cy="869.9" r="1.1"/><circle cx="148.4" cy="893.7" r="1.1"/><circle cx="154.5" cy="885.4" r="1.1"/><circle cx="151.4" cy="889.7" r="1.1"/><circle cx="246.1" cy="843.0" r="1.1"/><circle cx="251.9" cy="835.1" r="1.1"/><circle cx="156.5" cy="911.5" r="1.1"/><circle cx="150.7" cy="919.2" r="1.1"/><circle cx="195.0" cy="895.7" r="1.1"/><circle cx="110.9" cy="904.5" r="1.1"/><circle cx="108.7" cy="907.4" r="1.1"/><circle cx="110.3" cy="905.2" r="1.1"/><circle cx="215.3" cy="867.3" r="1.1"/><circle cx="189.8" cy="872.4" r="1.1"/><circle cx="156.9" cy="906.5" r="1.1"/><circle cx="178.6" cy="877.1" r="1.1"/><circle cx="224.4" cy="849.7" r="1.1"/><circle cx="244.7" cy="892.7" r="1.1"/><circle cx="255.3" cy="878.3" r="1.1"/><circle cx="148.7" cy="941.1" r="1.1"/><circle cx="152.5" cy="935.8" r="1.1"/><circle cx="171.2" cy="899.2" r="1.1"/><circle cx="135.4" cy="904.0" r="1.1"/><circle cx="148.3" cy="886.6" r="1.1"/><circle cx="159.3" cy="873.3" r="1.1"/><circle cx="153.4" cy="881.4" r="1.1"/><circle cx="160.0" cy="872.3" r="1.1"/><circle cx="242.1" cy="867.8" r="1.1"/><circle cx="185.5" cy="894.8" r="1.1"/><circle cx="208.1" cy="879.5" r="1.1"/><circle cx="160.1" cy="917.6" r="1.1"/><circle cx="158.1" cy="920.6" r="1.1"/><circle cx="160.7" cy="917.0" r="1.1"/><circle cx="260.9" cy="893.3" r="1.1"/><circle cx="157.9" cy="915.8" r="1.1"/><circle cx="158.6" cy="914.8" r="1.1"/><circle cx="147.6" cy="948.2" r="1.1"/><circle cx="213.4" cy="854.7" r="1.1"/><circle cx="191.3" cy="884.6" r="1.1"/><circle cx="198.2" cy="875.2" r="1.1"/><circle cx="120.2" cy="896.3" r="1.1"/><circle cx="204.6" cy="855.5" r="1.1"/><circle cx="214.9" cy="841.4" r="1.1"/><circle cx="107.3" cy="896.5" r="1.1"/><circle cx="112.2" cy="889.7" r="1.1"/><circle cx="223.9" cy="827.6" r="1.1"/><circle cx="174.7" cy="853.3" r="1.1"/><circle cx="179.9" cy="846.4" r="1.1"/><circle cx="189.7" cy="833.2" r="1.1"/><circle cx="191.6" cy="887.3" r="1.1"/><circle cx="185.4" cy="895.6" r="1.1"/><circle cx="166.6" cy="872.7" r="1.1"/><circle cx="150.7" cy="894.1" r="1.1"/><circle cx="161.4" cy="879.8" r="1.1"/><circle cx="209.2" cy="860.4" r="1.1"/><circle cx="133.2" cy="897.1" r="1.1"/><circle cx="141.8" cy="885.4" r="1.1"/><circle cx="309.4" cy="866.1" r="1.1"/><circle cx="293.0" cy="888.4" r="1.1"/><circle cx="206.5" cy="907.8" r="1.1"/><circle cx="155.0" cy="918.6" r="1.1"/><circle cx="139.1" cy="940.1" r="1.1"/><circle cx="264.2" cy="820.3" r="1.1"/><circle cx="255.1" cy="832.6" r="1.1"/><circle cx="127.4" cy="898.6" r="1.1"/><circle cx="219.5" cy="867.1" r="1.1"/><circle cx="177.0" cy="908.7" r="1.1"/><circle cx="214.1" cy="894.9" r="1.1"/><circle cx="205.5" cy="906.5" r="1.1"/><circle cx="285.1" cy="903.6" r="1.1"/><circle cx="301.1" cy="881.9" r="1.1"/><circle cx="263.9" cy="857.5" r="1.1"/><circle cx="274.8" cy="842.7" r="1.1"/><circle cx="147.0" cy="940.5" r="1.1"/><circle cx="191.2" cy="883.5" r="1.1"/><circle cx="189.2" cy="886.2" r="1.1"/><circle cx="198.6" cy="847.5" r="1.1"/><circle cx="194.9" cy="852.5" r="1.1"/><circle cx="179.6" cy="857.9" r="1.1"/><circle cx="162.3" cy="881.4" r="1.1"/><circle cx="201.4" cy="900.7" r="1.1"/><circle cx="169.4" cy="866.2" r="1.1"/><circle cx="148.5" cy="894.3" r="1.1"/><circle cx="153.6" cy="887.3" r="1.1"/><circle cx="117.8" cy="923.6" r="1.1"/><circle cx="207.3" cy="853.8" r="1.1"/><circle cx="211.6" cy="848.1" r="1.1"/><circle cx="149.5" cy="866.0" r="1.1"/><circle cx="148.8" cy="867.0" r="1.1"/><circle cx="168.5" cy="889.5" r="1.1"/><circle cx="279.5" cy="917.9" r="1.1"/><circle cx="154.7" cy="891.4" r="1.1"/><circle cx="167.6" cy="873.9" r="1.1"/><circle cx="169.5" cy="901.6" r="1.1"/><circle cx="164.3" cy="908.7" r="1.1"/><circle cx="174.6" cy="894.7" r="1.1"/><circle cx="136.0" cy="916.7" r="1.1"/><circle cx="191.0" cy="920.4" r="1.1"/><circle cx="218.9" cy="926.0" r="1.1"/><circle cx="232.2" cy="908.1" r="1.1"/><circle cx="212.3" cy="871.7" r="1.1"/><circle cx="214.9" cy="868.1" r="1.1"/><circle cx="165.1" cy="909.5" r="1.1"/><circle cx="152.1" cy="927.0" r="1.1"/><circle cx="171.4" cy="907.2" r="1.1"/><circle cx="252.8" cy="855.6" r="1.1"/><circle cx="158.5" cy="901.2" r="1.1"/><circle cx="149.4" cy="913.6" r="1.1"/><circle cx="152.5" cy="909.3" r="1.1"/><circle cx="183.7" cy="843.9" r="1.1"/><circle cx="312.6" cy="868.7" r="1.1"/><circle cx="318.8" cy="842.9" r="1.1"/><circle cx="238.1" cy="912.7" r="1.1"/><circle cx="251.1" cy="895.1" r="1.1"/><circle cx="248.7" cy="898.3" r="1.1"/><circle cx="190.9" cy="876.4" r="1.1"/><circle cx="220.8" cy="835.8" r="1.1"/><circle cx="191.6" cy="864.1" r="1.1"/><circle cx="176.5" cy="884.6" r="1.1"/><circle cx="124.1" cy="908.2" r="1.1"/><circle cx="131.8" cy="897.9" r="1.1"/><circle cx="177.1" cy="883.9" r="1.1"/><circle cx="168.8" cy="895.2" r="1.1"/><circle cx="187.2" cy="870.3" r="1.1"/><circle cx="154.5" cy="883.0" r="1.1"/><circle cx="165.8" cy="881.0" r="1.1"/><circle cx="138.3" cy="925.5" r="1.1"/><circle cx="139.4" cy="924.0" r="1.1"/><circle cx="227.3" cy="918.3" r="1.1"/><circle cx="206.6" cy="946.4" r="1.1"/><circle cx="227.5" cy="905.0" r="1.1"/><circle cx="254.6" cy="851.8" r="1.1"/><circle cx="269.5" cy="831.5" r="1.1"/><circle cx="265.3" cy="837.4" r="1.1"/><circle cx="203.3" cy="871.4" r="1.1"/><circle cx="261.8" cy="870.1" r="1.1"/><circle cx="265.7" cy="864.8" r="1.1"/><circle cx="266.9" cy="863.1" r="1.1"/><circle cx="262.4" cy="870.0" r="1.1"/><circle cx="263.5" cy="868.4" r="1.1"/><circle cx="126.3" cy="863.0" r="1.1"/><circle cx="268.7" cy="823.5" r="1.1"/><circle cx="150.5" cy="895.4" r="1.1"/><circle cx="250.9" cy="839.1" r="1.1"/><circle cx="234.9" cy="865.9" r="1.1"/><circle cx="237.4" cy="862.7" r="1.1"/><circle cx="239.7" cy="859.4" r="1.1"/><circle cx="204.0" cy="868.4" r="1.1"/><circle cx="195.6" cy="879.8" r="1.1"/><circle cx="204.4" cy="867.8" r="1.1"/><circle cx="264.3" cy="829.0" r="1.1"/><circle cx="259.5" cy="835.5" r="1.1"/><circle cx="150.6" cy="938.1" r="1.1"/><circle cx="177.0" cy="902.4" r="1.1"/><circle cx="134.2" cy="922.1" r="1.1"/><circle cx="162.6" cy="935.5" r="1.1"/><circle cx="177.5" cy="915.4" r="1.1"/><circle cx="199.3" cy="899.5" r="1.1"/><circle cx="156.1" cy="912.0" r="1.1"/><circle cx="151.2" cy="918.8" r="1.1"/><circle cx="159.6" cy="907.4" r="1.1"/><circle cx="153.4" cy="863.2" r="1.1"/><circle cx="149.1" cy="869.0" r="1.1"/><circle cx="158.5" cy="856.2" r="1.1"/><circle cx="112.2" cy="902.2" r="1.1"/><circle cx="117.5" cy="895.1" r="1.1"/><circle cx="116.4" cy="896.6" r="1.1"/><circle cx="193.0" cy="885.8" r="1.1"/><circle cx="185.8" cy="895.4" r="1.1"/><circle cx="250.2" cy="886.0" r="1.1"/><circle cx="176.3" cy="867.7" r="1.1"/><circle cx="155.8" cy="895.5" r="1.1"/><circle cx="113.8" cy="910.1" r="1.1"/><circle cx="137.5" cy="945.7" r="1.1"/><circle cx="258.4" cy="878.5" r="1.1"/><circle cx="269.4" cy="863.6" r="1.1"/><circle cx="272.3" cy="859.5" r="1.1"/><circle cx="198.1" cy="891.1" r="1.1"/><circle cx="193.5" cy="897.3" r="1.1"/><circle cx="125.3" cy="912.2" r="1.1"/><circle cx="118.2" cy="921.8" r="1.1"/><circle cx="252.2" cy="847.2" r="1.1"/><circle cx="320.0" cy="879.5" r="1.1"/><circle cx="224.7" cy="895.2" r="1.1"/><circle cx="235.5" cy="880.6" r="1.1"/><circle cx="213.0" cy="911.1" r="1.1"/><circle cx="274.2" cy="873.8" r="1.1"/><circle cx="273.8" cy="874.5" r="1.1"/><circle cx="189.9" cy="906.9" r="1.1"/><circle cx="162.5" cy="913.6" r="1.1"/><circle cx="153.8" cy="905.7" r="1.1"/><circle cx="224.1" cy="894.3" r="1.1"/><circle cx="213.1" cy="909.4" r="1.1"/><circle cx="107.1" cy="896.4" r="1.1"/><circle cx="120.5" cy="918.3" r="1.1"/><circle cx="171.3" cy="848.1" r="1.1"/><circle cx="258.4" cy="842.7" r="1.1"/><circle cx="277.7" cy="816.4" r="1.1"/><circle cx="262.9" cy="855.2" r="1.1"/><circle cx="271.5" cy="843.5" r="1.1"/><circle cx="300.6" cy="898.3" r="1.1"/><circle cx="147.3" cy="866.2" r="1.1"/><circle cx="154.6" cy="856.1" r="1.1"/><circle cx="226.6" cy="895.0" r="1.1"/><circle cx="145.9" cy="865.0" r="1.1"/><circle cx="145.1" cy="937.7" r="1.1"/><circle cx="144.4" cy="938.7" r="1.1"/><circle cx="142.2" cy="941.6" r="1.1"/><circle cx="165.1" cy="877.9" r="1.1"/><circle cx="172.3" cy="868.0" r="1.1"/><circle cx="171.3" cy="869.3" r="1.1"/><circle cx="181.9" cy="892.8" r="1.1"/><circle cx="177.8" cy="898.6" r="1.1"/><circle cx="170.2" cy="909.2" r="1.1"/><circle cx="165.0" cy="916.2" r="1.1"/><circle cx="226.2" cy="888.3" r="1.1"/><circle cx="231.0" cy="881.7" r="1.1"/><circle cx="213.1" cy="883.4" r="1.1"/><circle cx="229.7" cy="860.8" r="1.1"/><circle cx="279.3" cy="898.5" r="1.1"/><circle cx="286.5" cy="888.9" r="1.1"/><circle cx="279.1" cy="899.0" r="1.1"/><circle cx="171.7" cy="920.8" r="1.1"/><circle cx="109.3" cy="912.6" r="1.1"/><circle cx="259.7" cy="853.1" r="1.1"/><circle cx="277.5" cy="828.8" r="1.1"/><circle cx="205.0" cy="872.4" r="1.1"/><circle cx="203.0" cy="875.0" r="1.1"/><circle cx="134.6" cy="906.7" r="1.1"/><circle cx="147.7" cy="875.5" r="1.1"/><circle cx="124.4" cy="907.2" r="1.1"/><circle cx="271.8" cy="846.0" r="1.1"/><circle cx="259.2" cy="847.8" r="1.1"/><circle cx="251.1" cy="858.8" r="1.1"/><circle cx="149.2" cy="885.0" r="1.1"/><circle cx="138.5" cy="899.8" r="1.1"/><circle cx="229.0" cy="864.2" r="1.1"/><circle cx="245.1" cy="842.3" r="1.1"/><circle cx="208.3" cy="864.8" r="1.1"/><circle cx="213.8" cy="857.4" r="1.1"/><circle cx="158.5" cy="873.1" r="1.1"/><circle cx="144.9" cy="891.5" r="1.1"/><circle cx="275.1" cy="846.2" r="1.1"/><circle cx="136.9" cy="880.4" r="1.1"/><circle cx="178.9" cy="892.9" r="1.1"/><circle cx="235.5" cy="854.4" r="1.1"/><circle cx="247.3" cy="838.4" r="1.1"/><circle cx="235.3" cy="854.6" r="1.1"/><circle cx="171.9" cy="875.3" r="1.1"/><circle cx="173.4" cy="881.3" r="1.1"/><circle cx="271.9" cy="904.3" r="1.1"/><circle cx="287.3" cy="883.3" r="1.1"/><circle cx="186.2" cy="886.6" r="1.1"/><circle cx="189.7" cy="881.9" r="1.1"/><circle cx="198.9" cy="842.6" r="1.1"/><circle cx="193.0" cy="850.5" r="1.1"/><circle cx="148.5" cy="921.2" r="1.1"/><circle cx="149.5" cy="919.7" r="1.1"/><circle cx="165.5" cy="898.8" r="1.1"/><circle cx="163.3" cy="901.8" r="1.1"/><circle cx="194.6" cy="924.2" r="1.1"/><circle cx="197.4" cy="920.5" r="1.1"/><circle cx="201.9" cy="914.4" r="1.1"/><circle cx="187.0" cy="906.0" r="1.1"/><circle cx="156.1" cy="947.9" r="1.1"/><circle cx="156.7" cy="863.7" r="1.1"/><circle cx="162.6" cy="855.8" r="1.1"/><circle cx="221.9" cy="882.1" r="1.1"/><circle cx="267.1" cy="848.1" r="1.1"/><circle cx="288.2" cy="864.9" r="1.1"/><circle cx="280.0" cy="876.1" r="1.1"/><circle cx="209.5" cy="898.0" r="1.1"/><circle cx="207.7" cy="900.5" r="1.1"/><circle cx="180.1" cy="845.0" r="1.1"/><circle cx="178.3" cy="847.5" r="1.1"/><circle cx="120.2" cy="887.3" r="1.1"/><circle cx="206.6" cy="887.2" r="1.1"/><circle cx="188.8" cy="911.5" r="1.1"/><circle cx="210.8" cy="881.6" r="1.1"/><circle cx="200.0" cy="852.7" r="1.1"/><circle cx="119.4" cy="904.6" r="1.1"/><circle cx="113.8" cy="912.2" r="1.1"/><circle cx="255.3" cy="846.8" r="1.1"/><circle cx="302.0" cy="860.4" r="1.1"/><circle cx="276.3" cy="895.4" r="1.1"/><circle cx="295.6" cy="869.2" r="1.1"/><circle cx="236.3" cy="818.9" r="1.1"/><circle cx="252.8" cy="864.1" r="1.1"/><circle cx="152.4" cy="862.4" r="1.1"/><circle cx="156.7" cy="856.7" r="1.1"/><circle cx="323.2" cy="851.0" r="1.1"/><circle cx="324.6" cy="849.1" r="1.1"/><circle cx="279.3" cy="914.5" r="1.1"/><circle cx="282.7" cy="910.1" r="1.1"/><circle cx="233.0" cy="882.4" r="1.1"/><circle cx="226.2" cy="891.4" r="1.1"/><circle cx="121.9" cy="912.6" r="1.1"/><circle cx="229.7" cy="891.3" r="1.1"/><circle cx="229.1" cy="892.2" r="1.1"/><circle cx="300.6" cy="832.0" r="1.1"/><circle cx="294.8" cy="839.9" r="1.1"/><circle cx="293.0" cy="842.3" r="1.1"/><circle cx="133.4" cy="936.0" r="1.1"/><circle cx="226.4" cy="912.7" r="1.1"/><circle cx="241.7" cy="891.8" r="1.1"/><circle cx="221.5" cy="919.2" r="1.1"/><circle cx="127.7" cy="904.8" r="1.1"/><circle cx="205.8" cy="864.2" r="1.1"/><circle cx="193.5" cy="905.3" r="1.1"/><circle cx="187.2" cy="878.0" r="1.1"/><circle cx="192.1" cy="871.1" r="1.1"/><circle cx="205.1" cy="894.1" r="1.1"/><circle cx="226.8" cy="886.8" r="1.1"/><circle cx="181.6" cy="886.3" r="1.1"/><circle cx="280.2" cy="832.2" r="1.1"/><circle cx="271.8" cy="843.5" r="1.1"/><circle cx="145.9" cy="860.9" r="1.1"/><circle cx="224.1" cy="868.8" r="1.1"/><circle cx="230.9" cy="859.4" r="1.1"/><circle cx="238.9" cy="848.7" r="1.1"/><circle cx="145.4" cy="927.9" r="1.1"/><circle cx="150.6" cy="920.8" r="1.1"/><circle cx="251.6" cy="864.1" r="1.1"/><circle cx="223.2" cy="868.4" r="1.1"/><circle cx="205.8" cy="891.9" r="1.1"/><circle cx="223.3" cy="868.1" r="1.1"/><circle cx="153.9" cy="880.9" r="1.1"/><circle cx="148.4" cy="888.4" r="1.1"/><circle cx="133.6" cy="895.9" r="1.1"/><circle cx="138.9" cy="888.7" r="1.1"/><circle cx="206.3" cy="864.2" r="1.1"/><circle cx="229.5" cy="832.8" r="1.1"/><circle cx="142.2" cy="902.4" r="1.1"/><circle cx="227.0" cy="884.3" r="1.1"/><circle cx="185.5" cy="869.8" r="1.1"/><circle cx="125.3" cy="923.7" r="1.1"/><circle cx="132.2" cy="914.3" r="1.1"/><circle cx="253.1" cy="851.9" r="1.1"/><circle cx="256.7" cy="847.1" r="1.1"/><circle cx="282.1" cy="821.5" r="1.1"/><circle cx="280.6" cy="823.7" r="1.1"/><circle cx="119.0" cy="866.4" r="1.1"/><circle cx="120.5" cy="864.5" r="1.1"/><circle cx="114.0" cy="873.3" r="1.1"/><circle cx="231.3" cy="897.3" r="1.1"/><circle cx="235.7" cy="891.2" r="1.1"/><circle cx="232.2" cy="896.1" r="1.1"/><circle cx="290.4" cy="863.6" r="1.1"/><circle cx="303.5" cy="838.5" r="1.1"/><circle cx="321.2" cy="833.9" r="1.1"/><circle cx="309.1" cy="850.1" r="1.1"/><circle cx="175.4" cy="845.8" r="1.1"/><circle cx="282.0" cy="919.9" r="1.1"/><circle cx="288.6" cy="910.8" r="1.1"/><circle cx="192.4" cy="888.4" r="1.1"/><circle cx="207.9" cy="948.1" r="1.1"/><circle cx="134.6" cy="924.1" r="1.1"/><circle cx="139.7" cy="917.2" r="1.1"/><circle cx="147.3" cy="906.8" r="1.1"/><circle cx="185.5" cy="906.8" r="1.1"/><circle cx="245.5" cy="885.9" r="1.1"/><circle cx="248.6" cy="881.7" r="1.1"/><circle cx="246.9" cy="883.9" r="1.1"/><circle cx="172.7" cy="863.0" r="1.1"/><circle cx="176.1" cy="858.2" r="1.1"/><circle cx="257.5" cy="909.0" r="1.1"/><circle cx="258.6" cy="907.5" r="1.1"/><circle cx="134.2" cy="859.1" r="1.1"/><circle cx="139.4" cy="852.1" r="1.1"/><circle cx="263.6" cy="894.1" r="1.1"/><circle cx="255.5" cy="905.2" r="1.1"/><circle cx="259.7" cy="899.5" r="1.1"/><circle cx="193.9" cy="951.1" r="1.1"/><circle cx="196.4" cy="941.7" r="1.1"/><circle cx="219.0" cy="911.0" r="1.1"/><circle cx="176.5" cy="867.1" r="1.1"/><circle cx="140.9" cy="906.3" r="1.1"/><circle cx="132.7" cy="917.5" r="1.1"/><circle cx="127.4" cy="913.4" r="1.1"/><circle cx="133.1" cy="908.3" r="1.1"/><circle cx="130.6" cy="911.6" r="1.1"/><circle cx="123.6" cy="921.1" r="1.1"/><circle cx="263.9" cy="896.7" r="1.1"/><circle cx="265.8" cy="894.1" r="1.1"/><circle cx="265.4" cy="894.6" r="1.1"/><circle cx="150.0" cy="923.1" r="1.1"/><circle cx="253.3" cy="874.9" r="1.1"/><circle cx="246.4" cy="884.4" r="1.1"/><circle cx="177.5" cy="908.4" r="1.1"/><circle cx="163.2" cy="927.8" r="1.1"/><circle cx="296.7" cy="849.7" r="1.1"/><circle cx="306.4" cy="836.7" r="1.1"/><circle cx="234.8" cy="862.0" r="1.1"/><circle cx="243.9" cy="849.7" r="1.1"/><circle cx="98.4" cy="893.7" r="1.1"/><circle cx="266.6" cy="851.7" r="1.1"/><circle cx="105.9" cy="881.7" r="1.1"/><circle cx="142.9" cy="898.2" r="1.1"/><circle cx="236.4" cy="847.8" r="1.1"/><circle cx="135.4" cy="942.3" r="1.1"/><circle cx="252.8" cy="863.1" r="1.1"/><circle cx="307.8" cy="888.1" r="1.1"/><circle cx="223.6" cy="855.4" r="1.1"/><circle cx="222.4" cy="920.4" r="1.1"/><circle cx="236.8" cy="900.6" r="1.1"/><circle cx="219.9" cy="923.8" r="1.1"/><circle cx="249.7" cy="860.5" r="1.1"/><circle cx="147.6" cy="891.6" r="1.1"/><circle cx="183.3" cy="885.3" r="1.1"/><circle cx="246.6" cy="882.0" r="1.1"/><circle cx="252.0" cy="874.6" r="1.1"/><circle cx="250.5" cy="876.7" r="1.1"/><circle cx="266.1" cy="836.0" r="1.1"/><circle cx="250.6" cy="892.2" r="1.1"/><circle cx="272.9" cy="855.6" r="1.1"/><circle cx="135.6" cy="901.7" r="1.1"/><circle cx="116.8" cy="903.3" r="1.1"/><circle cx="124.9" cy="892.3" r="1.1"/><circle cx="207.7" cy="865.2" r="1.1"/><circle cx="202.8" cy="872.1" r="1.1"/><circle cx="205.7" cy="868.1" r="1.1"/><circle cx="158.6" cy="875.1" r="1.1"/><circle cx="312.0" cy="878.2" r="1.1"/><circle cx="180.8" cy="917.5" r="1.1"/><circle cx="200.7" cy="890.6" r="1.1"/><circle cx="176.4" cy="871.9" r="1.1"/><circle cx="185.5" cy="859.4" r="1.1"/><circle cx="180.3" cy="866.6" r="1.1"/><circle cx="247.3" cy="855.8" r="1.1"/><circle cx="249.7" cy="852.5" r="1.1"/><circle cx="187.7" cy="909.1" r="1.1"/><circle cx="178.1" cy="922.2" r="1.1"/><circle cx="167.0" cy="903.4" r="1.1"/><circle cx="190.6" cy="871.4" r="1.1"/><circle cx="89.5" cy="892.9" r="1.1"/><circle cx="88.5" cy="892.3" r="1.1"/><circle cx="89.4" cy="892.9" r="1.1"/><circle cx="89.5" cy="892.8" r="1.1"/><circle cx="95.4" cy="900.0" r="1.1"/><circle cx="94.9" cy="900.0" r="1.1"/><circle cx="94.2" cy="899.1" r="1.1"/><circle cx="93.3" cy="898.4" r="1.1"/><circle cx="94.8" cy="900.0" r="1.1"/><circle cx="98.6" cy="904.3" r="1.1"/><circle cx="98.7" cy="904.7" r="1.1"/><circle cx="98.4" cy="904.9" r="1.1"/><circle cx="98.5" cy="904.8" r="1.1"/><circle cx="98.6" cy="904.3" r="1.1"/><circle cx="99.6" cy="906.8" r="1.1"/><circle cx="104.2" cy="912.1" r="1.1"/><circle cx="105.3" cy="913.3" r="1.1"/><circle cx="104.1" cy="912.2" r="1.1"/><circle cx="103.7" cy="911.6" r="1.1"/><circle cx="104.4" cy="912.2" r="1.1"/><circle cx="104.6" cy="912.6" r="1.1"/><circle cx="108.5" cy="918.1" r="1.1"/><circle cx="107.7" cy="917.0" r="1.1"/><circle cx="108.2" cy="916.3" r="1.1"/><circle cx="108.1" cy="916.8" r="1.1"/><circle cx="107.1" cy="916.9" r="1.1"/><circle cx="109.1" cy="918.1" r="1.1"/><circle cx="107.6" cy="917.8" r="1.1"/><circle cx="114.4" cy="925.5" r="1.1"/><circle cx="113.9" cy="923.7" r="1.1"/><circle cx="113.6" cy="924.3" r="1.1"/><circle cx="111.9" cy="923.9" r="1.1"/><circle cx="112.0" cy="922.4" r="1.1"/><circle cx="112.3" cy="923.8" r="1.1"/><circle cx="117.8" cy="930.7" r="1.1"/><circle cx="116.1" cy="929.9" r="1.1"/><circle cx="119.1" cy="932.4" r="1.1"/><circle cx="117.4" cy="930.3" r="1.1"/><circle cx="116.8" cy="929.3" r="1.1"/><circle cx="117.8" cy="929.7" r="1.1"/><circle cx="118.5" cy="931.5" r="1.1"/><circle cx="122.7" cy="935.7" r="1.1"/><circle cx="122.1" cy="935.3" r="1.1"/><circle cx="124.1" cy="938.0" r="1.1"/><circle cx="123.5" cy="937.3" r="1.1"/><circle cx="121.7" cy="935.6" r="1.1"/><circle cx="122.1" cy="936.8" r="1.1"/><circle cx="127.4" cy="943.0" r="1.1"/><circle cx="127.8" cy="943.5" r="1.1"/><circle cx="128.8" cy="943.4" r="1.1"/><circle cx="127.0" cy="942.5" r="1.1"/><circle cx="245.5" cy="796.3" r="1.1"/><circle cx="266.8" cy="805.2" r="1.1"/><circle cx="284.0" cy="805.5" r="1.1"/><circle cx="292.9" cy="795.4" r="1.1"/><circle cx="298.5" cy="797.5" r="1.1"/><circle cx="306.8" cy="788.0" r="1.1"/><circle cx="312.6" cy="774.4" r="1.1"/><circle cx="294.5" cy="811.7" r="1.1"/><circle cx="303.1" cy="812.3" r="1.1"/><circle cx="181.5" cy="813.3" r="1.1"/><circle cx="225.5" cy="813.8" r="1.1"/><circle cx="325.6" cy="794.5" r="1.1"/><circle cx="329.8" cy="789.2" r="1.1"/><circle cx="327.6" cy="791.7" r="1.1"/><circle cx="351.6" cy="801.9" r="1.1"/><circle cx="367.7" cy="780.6" r="1.1"/><circle cx="368.3" cy="794.5" r="1.1"/><circle cx="368.3" cy="811.7" r="1.1"/><circle cx="388.9" cy="804.3" r="1.1"/><circle cx="415.1" cy="802.1" r="1.1"/><circle cx="430.4" cy="780.9" r="1.1"/><circle cx="303.1" cy="812.3" r="1.1"/><circle cx="403.7" cy="816.9" r="1.1"/><circle cx="426.7" cy="817.9" r="1.1"/><circle cx="340.9" cy="822.2" r="1.1"/><circle cx="361.6" cy="820.0" r="1.1"/><circle cx="376.9" cy="819.4" r="1.1"/><circle cx="344.1" cy="827.7" r="1.1"/><circle cx="354.4" cy="829.2" r="1.1"/><circle cx="356.9" cy="830.1" r="1.1"/><circle cx="378.4" cy="828.3" r="1.1"/><circle cx="383.7" cy="830.8" r="1.1"/><circle cx="396.4" cy="827.7" r="1.1"/><circle cx="352.3" cy="835.4" r="1.1"/><circle cx="364.6" cy="837.0" r="1.1"/><circle cx="343.1" cy="841.5" r="1.1"/><circle cx="350.1" cy="840.0" r="1.1"/><circle cx="353.9" cy="840.0" r="1.1"/><circle cx="397.6" cy="841.5" r="1.1"/><circle cx="348.3" cy="846.8" r="1.1"/><circle cx="360.6" cy="846.8" r="1.1"/><circle cx="370.8" cy="846.1" r="1.1"/><circle cx="392.9" cy="847.7" r="1.1"/><circle cx="349.2" cy="850.8" r="1.1"/><circle cx="376.9" cy="852.3" r="1.1"/><circle cx="390.8" cy="852.3" r="1.1"/><circle cx="344.1" cy="855.2" r="1.1"/><circle cx="377.6" cy="853.7" r="1.1"/><circle cx="410.7" cy="855.2" r="1.1"/><circle cx="432.4" cy="853.7" r="1.1"/><circle cx="428.4" cy="858.3" r="1.1"/><circle cx="390.8" cy="852.5" r="1.1"/><circle cx="360.6" cy="851.6" r="1.1"/><circle cx="340.9" cy="861.7" r="1.1"/><circle cx="360.1" cy="861.7" r="1.1"/><circle cx="370.8" cy="860.2" r="1.1"/><circle cx="383.1" cy="862.9" r="1.1"/><circle cx="403.7" cy="861.4" r="1.1"/><circle cx="337.8" cy="864.8" r="1.1"/><circle cx="362.4" cy="864.5" r="1.1"/><circle cx="369.2" cy="862.9" r="1.1"/><circle cx="381.6" cy="864.8" r="1.1"/><circle cx="385.6" cy="866.9" r="1.1"/><circle cx="349.2" cy="870.0" r="1.1"/><circle cx="358.4" cy="868.5" r="1.1"/><circle cx="343.1" cy="870.9" r="1.1"/><circle cx="403.9" cy="873.1" r="1.1"/><circle cx="339.1" cy="876.2" r="1.1"/><circle cx="344.1" cy="875.2" r="1.1"/><circle cx="379.1" cy="875.2" r="1.1"/><circle cx="393.2" cy="875.2" r="1.1"/><circle cx="366.1" cy="882.4" r="1.1"/><circle cx="369.2" cy="880.8" r="1.1"/><circle cx="372.3" cy="884.5" r="1.1"/><circle cx="376.3" cy="886.3" r="1.1"/><circle cx="394.8" cy="886.0" r="1.1"/><circle cx="383.1" cy="889.4" r="1.1"/><circle cx="341.6" cy="899.2" r="1.1"/><circle cx="379.9" cy="896.8" r="1.1"/><circle cx="377.9" cy="899.2" r="1.1"/><circle cx="376.9" cy="900.8" r="1.1"/><circle cx="385.2" cy="898.3" r="1.1"/><circle cx="137.5" cy="957.0" r="1.1"/><circle cx="139.4" cy="959.2" r="1.1"/><circle cx="141.5" cy="956.1" r="1.1"/><circle cx="146.2" cy="955.3" r="1.1"/><circle cx="149.2" cy="956.1" r="1.1"/><circle cx="157.5" cy="956.1" r="1.1"/><circle cx="150.7" cy="960.1" r="1.1"/><circle cx="146.2" cy="970.0" r="1.1"/><circle cx="152.9" cy="968.5" r="1.1"/><circle cx="155.4" cy="972.5" r="1.1"/><circle cx="158.5" cy="967.5" r="1.1"/><circle cx="157.9" cy="976.1" r="1.1"/><circle cx="154.5" cy="976.8" r="1.1"/><circle cx="167.0" cy="960.8" r="1.1"/><circle cx="168.3" cy="968.5" r="1.1"/><circle cx="172.3" cy="963.9" r="1.1"/><circle cx="175.4" cy="970.0" r="1.1"/><circle cx="170.2" cy="974.6" r="1.1"/><circle cx="173.8" cy="966.3" r="1.1"/><circle cx="183.7" cy="967.5" r="1.1"/><circle cx="187.7" cy="969.4" r="1.1"/><circle cx="189.2" cy="963.2" r="1.1"/><circle cx="183.0" cy="979.2" r="1.1"/><circle cx="192.3" cy="956.1" r="1.1"/><circle cx="195.4" cy="957.7" r="1.1"/><circle cx="201.5" cy="966.3" r="1.1"/><circle cx="202.5" cy="979.9" r="1.1"/><circle cx="204.6" cy="959.2" r="1.1"/><circle cx="207.0" cy="960.8" r="1.1"/><circle cx="218.5" cy="967.5" r="1.1"/><circle cx="218.5" cy="984.7" r="1.1"/><circle cx="224.6" cy="962.3" r="1.1"/><circle cx="226.8" cy="960.8" r="1.1"/><circle cx="231.7" cy="966.3" r="1.1"/><circle cx="233.8" cy="962.3" r="1.1"/><circle cx="227.7" cy="989.1" r="1.1"/><circle cx="228.3" cy="979.2" r="1.1"/><circle cx="241.5" cy="968.5" r="1.1"/><circle cx="247.7" cy="970.0" r="1.1"/><circle cx="234.8" cy="990.0" r="1.1"/><circle cx="237.8" cy="995.2" r="1.1"/><circle cx="259.3" cy="979.9" r="1.1"/><circle cx="277.5" cy="959.2" r="1.1"/><circle cx="270.1" cy="966.3" r="1.1"/><circle cx="265.3" cy="968.5" r="1.1"/><circle cx="265.3" cy="973.0" r="1.1"/><circle cx="260.0" cy="980.2" r="1.1"/><circle cx="241.5" cy="969.4" r="1.1"/><circle cx="247.7" cy="971.6" r="1.1"/><circle cx="326.1" cy="954.6" r="1.1"/><circle cx="286.8" cy="938.3" r="1.1"/><circle cx="287.8" cy="936.7" r="1.1"/><circle cx="311.4" cy="940.8" r="1.1"/><circle cx="345.6" cy="942.9" r="1.1"/><circle cx="261.8" cy="940.3" r="1.1"/><circle cx="260.7" cy="913.1" r="1.1"/><circle cx="211.6" cy="931.8" r="1.1"/><circle cx="195.6" cy="920.7" r="1.1"/><circle cx="251.6" cy="910.1" r="1.1"/><circle cx="263.3" cy="913.3" r="1.1"/><circle cx="225.3" cy="912.9" r="1.1"/><circle cx="203.9" cy="926.5" r="1.1"/><circle cx="252.8" cy="944.2" r="1.1"/><circle cx="175.6" cy="911.2" r="1.1"/><circle cx="187.2" cy="936.5" r="1.1"/><circle cx="249.4" cy="938.8" r="1.1"/><circle cx="230.1" cy="927.0" r="1.1"/><circle cx="180.5" cy="919.6" r="1.1"/><circle cx="169.6" cy="952.4" r="1.1"/><circle cx="251.6" cy="929.4" r="1.1"/><circle cx="229.7" cy="925.2" r="1.1"/><circle cx="244.4" cy="952.0" r="1.1"/><circle cx="230.8" cy="918.6" r="1.1"/><circle cx="227.2" cy="918.4" r="1.1"/><circle cx="220.1" cy="928.7" r="1.1"/><circle cx="200.6" cy="923.9" r="1.1"/><circle cx="258.9" cy="931.2" r="1.1"/><circle cx="245.7" cy="916.5" r="1.1"/><circle cx="186.3" cy="919.6" r="1.1"/><circle cx="162.7" cy="944.2" r="1.1"/><circle cx="228.4" cy="928.6" r="1.1"/><circle cx="200.4" cy="935.7" r="1.1"/><circle cx="226.9" cy="928.3" r="1.1"/><circle cx="276.2" cy="920.4" r="1.1"/><circle cx="231.5" cy="917.3" r="1.1"/><circle cx="225.1" cy="924.8" r="1.1"/><circle cx="249.5" cy="945.9" r="1.1"/><circle cx="192.1" cy="917.7" r="1.1"/><circle cx="168.0" cy="939.1" r="1.1"/><circle cx="240.8" cy="946.4" r="1.1"/><circle cx="213.1" cy="913.8" r="1.1"/><circle cx="176.7" cy="934.5" r="1.1"/><circle cx="226.8" cy="947.3" r="1.1"/><circle cx="203.2" cy="915.0" r="1.1"/><circle cx="207.3" cy="922.3" r="1.1"/><circle cx="269.0" cy="914.5" r="1.1"/><circle cx="198.3" cy="924.8" r="1.1"/><circle cx="173.9" cy="913.6" r="1.1"/><circle cx="266.8" cy="939.2" r="1.1"/><circle cx="206.1" cy="912.1" r="1.1"/><circle cx="217.5" cy="910.5" r="1.1"/><circle cx="274.8" cy="916.0" r="1.1"/><circle cx="255.9" cy="941.1" r="1.1"/><circle cx="195.4" cy="921.7" r="1.1"/><circle cx="250.5" cy="945.4" r="1.1"/><circle cx="252.7" cy="910.9" r="1.1"/><circle cx="240.7" cy="935.1" r="1.1"/><circle cx="196.8" cy="950.4" r="1.1"/><circle cx="222.8" cy="939.0" r="1.1"/>
</g>
<path d="M61.60 855.60H459.20" stroke="#000" stroke-width="1.7"/>
<path d="M61.60 884.71H459.20" stroke="#c8602e" stroke-width="1.6"/>
<path d="M62.20 814.98H459.20" stroke="#a84e35" stroke-width="1.7" stroke-dasharray="4.3 4.16"/>
<path d="M62.20 954.35H459.20" stroke="#a84e35" stroke-width="1.7" stroke-dasharray="4.3 4.16"/>
<g font-size="9.05" fill="#000" text-anchor="end">
<text x="501.8" y="806.08">Mean + 1.96 SD</text>
<text x="501.8" y="816.78">= 43.4</text>
<text x="501.8" y="875.51">Mean</text>
<text x="501.8" y="885.41">= –31.1</text>
<text x="501.8" y="944.75">Mean – 1.96 SD</text>
<text x="501.8" y="955.25">= – 105.5</text>
</g>
</g>
</svg>
</body></html>
